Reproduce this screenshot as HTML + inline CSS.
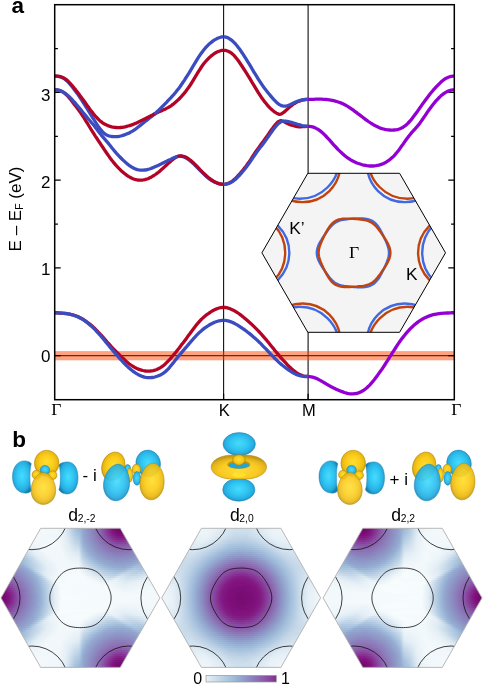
<!DOCTYPE html>
<html lang="en"><head><meta charset="utf-8"><title>Band structure and orbital character</title>
<style>
html,body{margin:0;padding:0;background:#fff;}
body{width:483px;height:685px;overflow:hidden;font-family:"Liberation Sans", Arial, Helvetica, sans-serif;}
svg{display:block;}
</style></head><body>
<svg width="483" height="685" viewBox="0 0 483 685">
<defs><clipPath id="ihex"><polygon points="445.5,252.8 399.6,173.3 307.8,173.3 261.9,252.8 307.8,332.3 399.6,332.3"/></clipPath>

<radialGradient id="gc" cx="0.5" cy="0.47" r="0.56"><stop offset="0" stop-color="#46dcff"/><stop offset="0.5" stop-color="#30c4f1"/><stop offset="0.78" stop-color="#27aee2"/><stop offset="0.92" stop-color="#1e95c6"/><stop offset="1" stop-color="#167fa8"/></radialGradient>
<radialGradient id="gy" cx="0.5" cy="0.47" r="0.56"><stop offset="0" stop-color="#ffde30"/><stop offset="0.5" stop-color="#fbcc1a"/><stop offset="0.78" stop-color="#ebb913"/><stop offset="0.92" stop-color="#cda10e"/><stop offset="1" stop-color="#ac870a"/></radialGradient>

<radialGradient id="gt" cx="0.5" cy="0.62" r="0.58"><stop offset="0" stop-color="#ffda2c"/><stop offset="0.6" stop-color="#f9c81a"/><stop offset="0.85" stop-color="#e3b012"/><stop offset="1" stop-color="#bf960d"/></radialGradient>
<clipPath id="cp"><polygon points="159.9,597.9 120.2,528.3 40.7,528.3 1.0,597.9 40.7,667.4 120.2,667.4"/></clipPath>
<linearGradient id="p0" gradientUnits="userSpaceOnUse" x1="36.45" x2="124.45" y1="0" y2="0"><stop offset="0.006" stop-color="#f3f9fb"/><stop offset="0.245" stop-color="#f0f7fa"/><stop offset="0.324" stop-color="#e2edf5"/><stop offset="0.37" stop-color="#ccddec"/><stop offset="0.438" stop-color="#a8c3de"/><stop offset="0.495" stop-color="#9bb6d7"/><stop offset="0.54" stop-color="#91a1cc"/><stop offset="0.631" stop-color="#8c85be"/><stop offset="0.722" stop-color="#8c66af"/><stop offset="0.802" stop-color="#873696"/><stop offset="0.87" stop-color="#810f7c"/><stop offset="0.927" stop-color="#710a6d"/><stop offset="0.972" stop-color="#710a6d"/><stop offset="0.995" stop-color="#740b70"/></linearGradient><linearGradient id="p1" gradientUnits="userSpaceOnUse" x1="35.45" x2="125.45" y1="0" y2="0"><stop offset="0.006" stop-color="#f3f9fb"/><stop offset="0.251" stop-color="#f0f7fa"/><stop offset="0.317" stop-color="#e6f0f6"/><stop offset="0.362" stop-color="#d3e2ef"/><stop offset="0.439" stop-color="#abc5df"/><stop offset="0.495" stop-color="#9cb8d8"/><stop offset="0.539" stop-color="#91a1cc"/><stop offset="0.628" stop-color="#8c86be"/><stop offset="0.717" stop-color="#8c66af"/><stop offset="0.795" stop-color="#873897"/><stop offset="0.851" stop-color="#821580"/><stop offset="0.895" stop-color="#770c73"/><stop offset="0.939" stop-color="#710a6d"/><stop offset="0.995" stop-color="#790d75"/></linearGradient><linearGradient id="p2" gradientUnits="userSpaceOnUse" x1="34.45" x2="126.45" y1="0" y2="0"><stop offset="0.006" stop-color="#f3f9fb"/><stop offset="0.256" stop-color="#f1f7fa"/><stop offset="0.332" stop-color="#e4eef5"/><stop offset="0.452" stop-color="#abc5df"/><stop offset="0.484" stop-color="#a4c0dc"/><stop offset="0.528" stop-color="#94a6ce"/><stop offset="0.604" stop-color="#8c8fc2"/><stop offset="0.723" stop-color="#8b64ad"/><stop offset="0.799" stop-color="#863595"/><stop offset="0.854" stop-color="#821580"/><stop offset="0.908" stop-color="#770c73"/><stop offset="0.952" stop-color="#770c73"/><stop offset="0.995" stop-color="#81117d"/></linearGradient><linearGradient id="p3" gradientUnits="userSpaceOnUse" x1="33.45" x2="127.45" y1="0" y2="0"><stop offset="0.006" stop-color="#f3f9fb"/><stop offset="0.272" stop-color="#f0f7fa"/><stop offset="0.346" stop-color="#e1edf5"/><stop offset="0.442" stop-color="#b3cbe2"/><stop offset="0.485" stop-color="#a8c3de"/><stop offset="0.506" stop-color="#9cb7d7"/><stop offset="0.527" stop-color="#94a7cf"/><stop offset="0.602" stop-color="#8c90c3"/><stop offset="0.719" stop-color="#8c66af"/><stop offset="0.804" stop-color="#863595"/><stop offset="0.857" stop-color="#821982"/><stop offset="0.899" stop-color="#800f7b"/><stop offset="0.942" stop-color="#800f7b"/><stop offset="0.985" stop-color="#821781"/><stop offset="0.995" stop-color="#831c84"/></linearGradient><linearGradient id="p4" gradientUnits="userSpaceOnUse" x1="32.45" x2="128.45" y1="0" y2="0"><stop offset="0.006" stop-color="#f3f9fb"/><stop offset="0.277" stop-color="#f0f7fa"/><stop offset="0.349" stop-color="#e2edf5"/><stop offset="0.454" stop-color="#b4cce2"/><stop offset="0.485" stop-color="#acc6df"/><stop offset="0.506" stop-color="#9db9d9"/><stop offset="0.527" stop-color="#95a8d0"/><stop offset="0.61" stop-color="#8c8fc2"/><stop offset="0.735" stop-color="#8b60ac"/><stop offset="0.839" stop-color="#84278c"/><stop offset="0.891" stop-color="#821781"/><stop offset="0.933" stop-color="#821781"/><stop offset="0.974" stop-color="#832088"/><stop offset="0.995" stop-color="#852a8e"/></linearGradient><linearGradient id="p5" gradientUnits="userSpaceOnUse" x1="31.45" x2="129.45" y1="0" y2="0"><stop offset="0.006" stop-color="#f2f8fb"/><stop offset="0.281" stop-color="#f1f7fa"/><stop offset="0.363" stop-color="#e1ecf4"/><stop offset="0.444" stop-color="#bcd1e5"/><stop offset="0.485" stop-color="#b1c9e1"/><stop offset="0.506" stop-color="#a0bddb"/><stop offset="0.526" stop-color="#96abd1"/><stop offset="0.608" stop-color="#8c90c3"/><stop offset="0.74" stop-color="#8b61ac"/><stop offset="0.842" stop-color="#852f91"/><stop offset="0.883" stop-color="#84248a"/><stop offset="0.924" stop-color="#84248a"/><stop offset="0.965" stop-color="#852d90"/><stop offset="0.995" stop-color="#873b99"/></linearGradient><linearGradient id="p6" gradientUnits="userSpaceOnUse" x1="30.45" x2="130.45" y1="0" y2="0"><stop offset="0.005" stop-color="#f1f8fb"/><stop offset="0.285" stop-color="#f1f7fa"/><stop offset="0.365" stop-color="#e1edf5"/><stop offset="0.445" stop-color="#c0d4e6"/><stop offset="0.485" stop-color="#b6cde3"/><stop offset="0.515" stop-color="#9bb6d7"/><stop offset="0.535" stop-color="#95a8d0"/><stop offset="0.615" stop-color="#8c90c3"/><stop offset="0.745" stop-color="#8b64ad"/><stop offset="0.826" stop-color="#88409c"/><stop offset="0.875" stop-color="#863293"/><stop offset="0.925" stop-color="#863394"/><stop offset="0.985" stop-color="#8947a0"/><stop offset="0.995" stop-color="#894ba2"/></linearGradient><linearGradient id="p7" gradientUnits="userSpaceOnUse" x1="28.45" x2="132.45" y1="0" y2="0"><stop offset="0.005" stop-color="#eff6fa"/><stop offset="0.265" stop-color="#f3f9fb"/><stop offset="0.351" stop-color="#e8f1f7"/><stop offset="0.39" stop-color="#dce9f2"/><stop offset="0.457" stop-color="#c2d5e7"/><stop offset="0.486" stop-color="#bcd1e5"/><stop offset="0.515" stop-color="#9db9d9"/><stop offset="0.544" stop-color="#94a7cf"/><stop offset="0.621" stop-color="#8c90c3"/><stop offset="0.832" stop-color="#8947a0"/><stop offset="0.88" stop-color="#88419d"/><stop offset="0.938" stop-color="#8948a0"/><stop offset="0.996" stop-color="#8b5daa"/></linearGradient><linearGradient id="p8" gradientUnits="userSpaceOnUse" x1="27.45" x2="133.45" y1="0" y2="0"><stop offset="0.005" stop-color="#ebf4f8"/><stop offset="0.175" stop-color="#f3f9fc"/><stop offset="0.307" stop-color="#f1f7fa"/><stop offset="0.392" stop-color="#dfebf4"/><stop offset="0.458" stop-color="#c7d9e9"/><stop offset="0.486" stop-color="#c2d5e7"/><stop offset="0.515" stop-color="#a0bddb"/><stop offset="0.533" stop-color="#98aed3"/><stop offset="0.618" stop-color="#8c93c4"/><stop offset="0.835" stop-color="#8a51a5"/><stop offset="0.911" stop-color="#8a51a5"/><stop offset="0.996" stop-color="#8c69b0"/></linearGradient><linearGradient id="p9" gradientUnits="userSpaceOnUse" x1="26.45" x2="134.45" y1="0" y2="0"><stop offset="0.005" stop-color="#e6f0f7"/><stop offset="0.144" stop-color="#f2f8fb"/><stop offset="0.311" stop-color="#f1f7fa"/><stop offset="0.394" stop-color="#e1ecf4"/><stop offset="0.459" stop-color="#ccddec"/><stop offset="0.487" stop-color="#c8daea"/><stop offset="0.505" stop-color="#b1c9e1"/><stop offset="0.524" stop-color="#9dbad9"/><stop offset="0.561" stop-color="#94a7cf"/><stop offset="0.635" stop-color="#8c91c4"/><stop offset="0.774" stop-color="#8c6ab1"/><stop offset="0.848" stop-color="#8b5caa"/><stop offset="0.922" stop-color="#8b61ac"/><stop offset="0.996" stop-color="#8c72b5"/></linearGradient><linearGradient id="p10" gradientUnits="userSpaceOnUse" x1="25.45" x2="135.45" y1="0" y2="0"><stop offset="0.005" stop-color="#dfebf4"/><stop offset="0.132" stop-color="#f1f7fa"/><stop offset="0.323" stop-color="#f1f7fa"/><stop offset="0.414" stop-color="#deeaf3"/><stop offset="0.45" stop-color="#d3e2ef"/><stop offset="0.487" stop-color="#cddeec"/><stop offset="0.505" stop-color="#b6cde3"/><stop offset="0.523" stop-color="#a2bfdb"/><stop offset="0.56" stop-color="#96abd1"/><stop offset="0.65" stop-color="#8c90c3"/><stop offset="0.75" stop-color="#8c75b6"/><stop offset="0.841" stop-color="#8c68af"/><stop offset="0.923" stop-color="#8c6db2"/><stop offset="0.996" stop-color="#8c7ab8"/></linearGradient><linearGradient id="p11" gradientUnits="userSpaceOnUse" x1="24.45" x2="136.45" y1="0" y2="0"><stop offset="0.005" stop-color="#d1e1ee"/><stop offset="0.067" stop-color="#e4eff6"/><stop offset="0.166" stop-color="#f1f7fa"/><stop offset="0.326" stop-color="#f1f7fa"/><stop offset="0.487" stop-color="#d3e2ef"/><stop offset="0.505" stop-color="#bcd1e5"/><stop offset="0.523" stop-color="#a7c2dd"/><stop offset="0.558" stop-color="#98b0d3"/><stop offset="0.63" stop-color="#8d99c8"/><stop offset="0.773" stop-color="#8c76b7"/><stop offset="0.862" stop-color="#8c70b3"/><stop offset="0.951" stop-color="#8c79b8"/><stop offset="0.996" stop-color="#8c82bc"/></linearGradient><linearGradient id="p12" gradientUnits="userSpaceOnUse" x1="23.45" x2="137.45" y1="0" y2="0"><stop offset="0.005" stop-color="#c3d6e8"/><stop offset="0.093" stop-color="#e4eef5"/><stop offset="0.198" stop-color="#f1f8fb"/><stop offset="0.338" stop-color="#f1f7fa"/><stop offset="0.461" stop-color="#ddeaf3"/><stop offset="0.479" stop-color="#ddeaf3"/><stop offset="0.487" stop-color="#d9e6f1"/><stop offset="0.514" stop-color="#b5cce3"/><stop offset="0.549" stop-color="#9ebcda"/><stop offset="0.593" stop-color="#94a7cf"/><stop offset="0.68" stop-color="#8c90c3"/><stop offset="0.794" stop-color="#8c7ab8"/><stop offset="0.908" stop-color="#8c7ab8"/><stop offset="0.996" stop-color="#8c8cc1"/></linearGradient><linearGradient id="p13" gradientUnits="userSpaceOnUse" x1="22.45" x2="138.45" y1="0" y2="0"><stop offset="0.005" stop-color="#b4cce2"/><stop offset="0.108" stop-color="#e1ecf4"/><stop offset="0.212" stop-color="#f1f7fa"/><stop offset="0.341" stop-color="#f1f7fa"/><stop offset="0.487" stop-color="#deeaf3"/><stop offset="0.522" stop-color="#b3cbe2"/><stop offset="0.574" stop-color="#9ab4d6"/><stop offset="0.617" stop-color="#92a4cd"/><stop offset="0.72" stop-color="#8c8dc2"/><stop offset="0.806" stop-color="#8c80bb"/><stop offset="0.893" stop-color="#8c81bc"/><stop offset="0.987" stop-color="#8c91c4"/><stop offset="0.996" stop-color="#8c94c5"/></linearGradient><linearGradient id="p14" gradientUnits="userSpaceOnUse" x1="20.45" x2="140.45" y1="0" y2="0"><stop offset="0.005" stop-color="#a6c2dd"/><stop offset="0.055" stop-color="#b9cee4"/><stop offset="0.138" stop-color="#e0ecf4"/><stop offset="0.238" stop-color="#f1f7fa"/><stop offset="0.355" stop-color="#f1f7fa"/><stop offset="0.488" stop-color="#e2edf5"/><stop offset="0.521" stop-color="#bacfe4"/><stop offset="0.588" stop-color="#9ab4d6"/><stop offset="0.646" stop-color="#91a0cb"/><stop offset="0.746" stop-color="#8c8dc2"/><stop offset="0.83" stop-color="#8c86be"/><stop offset="0.913" stop-color="#8c8dc2"/><stop offset="0.996" stop-color="#8f9dc9"/></linearGradient><linearGradient id="p15" gradientUnits="userSpaceOnUse" x1="19.45" x2="141.45" y1="0" y2="0"><stop offset="0.005" stop-color="#9fbcda"/><stop offset="0.045" stop-color="#a9c4de"/><stop offset="0.16" stop-color="#e0ecf4"/><stop offset="0.259" stop-color="#f1f7fa"/><stop offset="0.365" stop-color="#f1f7fa"/><stop offset="0.488" stop-color="#e5eff6"/><stop offset="0.496" stop-color="#dfebf4"/><stop offset="0.513" stop-color="#c7d9e9"/><stop offset="0.578" stop-color="#a3bfdc"/><stop offset="0.627" stop-color="#96abd1"/><stop offset="0.718" stop-color="#8d98c7"/><stop offset="0.8" stop-color="#8c8fc2"/><stop offset="0.873" stop-color="#8c90c3"/><stop offset="0.988" stop-color="#91a1cc"/><stop offset="0.996" stop-color="#92a4cd"/></linearGradient><linearGradient id="p16" gradientUnits="userSpaceOnUse" x1="18.45" x2="142.45" y1="0" y2="0"><stop offset="0.004" stop-color="#9bb6d7"/><stop offset="0.053" stop-color="#a5c1dc"/><stop offset="0.182" stop-color="#e0ecf4"/><stop offset="0.279" stop-color="#f1f7fa"/><stop offset="0.375" stop-color="#f1f7fa"/><stop offset="0.488" stop-color="#e9f2f7"/><stop offset="0.521" stop-color="#c7d9e9"/><stop offset="0.609" stop-color="#9dbad9"/><stop offset="0.658" stop-color="#94a7cf"/><stop offset="0.795" stop-color="#8c95c6"/><stop offset="0.908" stop-color="#8e9ac8"/><stop offset="0.996" stop-color="#97add2"/></linearGradient><linearGradient id="p17" gradientUnits="userSpaceOnUse" x1="17.45" x2="143.45" y1="0" y2="0"><stop offset="0.004" stop-color="#96abd1"/><stop offset="0.052" stop-color="#a1bedb"/><stop offset="0.211" stop-color="#e3eef5"/><stop offset="0.314" stop-color="#f2f8fb"/><stop offset="0.481" stop-color="#eef5f9"/><stop offset="0.504" stop-color="#dfebf4"/><stop offset="0.52" stop-color="#cedfec"/><stop offset="0.631" stop-color="#9db9d9"/><stop offset="0.687" stop-color="#94a7cf"/><stop offset="0.79" stop-color="#8f9bc9"/><stop offset="0.901" stop-color="#91a0cb"/><stop offset="0.996" stop-color="#9cb8d8"/></linearGradient><linearGradient id="p18" gradientUnits="userSpaceOnUse" x1="16.45" x2="144.45" y1="0" y2="0"><stop offset="0.004" stop-color="#91a1cc"/><stop offset="0.051" stop-color="#99b1d4"/><stop offset="0.082" stop-color="#a7c2dd"/><stop offset="0.223" stop-color="#e2edf5"/><stop offset="0.325" stop-color="#f2f8fb"/><stop offset="0.481" stop-color="#f0f7fa"/><stop offset="0.504" stop-color="#e4eef5"/><stop offset="0.528" stop-color="#d1e1ee"/><stop offset="0.653" stop-color="#9dbad9"/><stop offset="0.723" stop-color="#94a7cf"/><stop offset="0.825" stop-color="#91a1cc"/><stop offset="0.903" stop-color="#95aad0"/><stop offset="0.957" stop-color="#9ebcda"/><stop offset="0.996" stop-color="#a0bddb"/></linearGradient><linearGradient id="p19" gradientUnits="userSpaceOnUse" x1="15.45" x2="145.45" y1="0" y2="0"><stop offset="0.004" stop-color="#8e9ac8"/><stop offset="0.066" stop-color="#96abd1"/><stop offset="0.097" stop-color="#a1bedb"/><stop offset="0.135" stop-color="#bacfe4"/><stop offset="0.235" stop-color="#e1edf5"/><stop offset="0.32" stop-color="#f1f7fa"/><stop offset="0.489" stop-color="#f1f7fa"/><stop offset="0.55" stop-color="#cfdfed"/><stop offset="0.673" stop-color="#9fbcda"/><stop offset="0.75" stop-color="#96abd1"/><stop offset="0.835" stop-color="#95a8d0"/><stop offset="0.881" stop-color="#99b1d4"/><stop offset="0.92" stop-color="#a4c0dc"/><stop offset="0.981" stop-color="#a4c0dc"/><stop offset="0.997" stop-color="#a8c3de"/></linearGradient><linearGradient id="p20" gradientUnits="userSpaceOnUse" x1="14.45" x2="146.45" y1="0" y2="0"><stop offset="0.004" stop-color="#8c93c4"/><stop offset="0.095" stop-color="#96abd1"/><stop offset="0.118" stop-color="#a0bddb"/><stop offset="0.156" stop-color="#c0d4e6"/><stop offset="0.247" stop-color="#e2edf5"/><stop offset="0.345" stop-color="#f3f9fb"/><stop offset="0.489" stop-color="#f3f9fb"/><stop offset="0.641" stop-color="#b3cbe2"/><stop offset="0.724" stop-color="#9db9d9"/><stop offset="0.792" stop-color="#99b1d4"/><stop offset="0.838" stop-color="#9ab4d6"/><stop offset="0.898" stop-color="#aec7e0"/><stop offset="0.966" stop-color="#abc5df"/><stop offset="0.997" stop-color="#b4cce2"/></linearGradient><linearGradient id="p21" gradientUnits="userSpaceOnUse" x1="12.45" x2="148.45" y1="0" y2="0"><stop offset="0.004" stop-color="#8c89c0"/><stop offset="0.078" stop-color="#8f9bc9"/><stop offset="0.129" stop-color="#98aed3"/><stop offset="0.151" stop-color="#a4c0dc"/><stop offset="0.181" stop-color="#c5d8e9"/><stop offset="0.239" stop-color="#dfebf4"/><stop offset="0.35" stop-color="#f3f9fb"/><stop offset="0.489" stop-color="#f5fafc"/><stop offset="0.688" stop-color="#adc7e0"/><stop offset="0.769" stop-color="#a0bddb"/><stop offset="0.813" stop-color="#a3bfdc"/><stop offset="0.857" stop-color="#b7cee3"/><stop offset="0.938" stop-color="#b3cbe2"/><stop offset="0.982" stop-color="#c0d4e6"/><stop offset="0.997" stop-color="#c7d9e9"/></linearGradient><linearGradient id="p22" gradientUnits="userSpaceOnUse" x1="11.45" x2="149.45" y1="0" y2="0"><stop offset="0.004" stop-color="#8c81bc"/><stop offset="0.091" stop-color="#8d99c8"/><stop offset="0.149" stop-color="#98aed3"/><stop offset="0.163" stop-color="#9dbad9"/><stop offset="0.214" stop-color="#d2e2ee"/><stop offset="0.243" stop-color="#e1ecf4"/><stop offset="0.352" stop-color="#f3f9fb"/><stop offset="0.497" stop-color="#f5fafc"/><stop offset="0.591" stop-color="#d9e6f1"/><stop offset="0.671" stop-color="#bcd1e5"/><stop offset="0.75" stop-color="#acc6df"/><stop offset="0.779" stop-color="#adc7e0"/><stop offset="0.83" stop-color="#c2d5e7"/><stop offset="0.903" stop-color="#bbd0e4"/><stop offset="0.961" stop-color="#c6d8e9"/><stop offset="0.997" stop-color="#d6e4f0"/></linearGradient><linearGradient id="p23" gradientUnits="userSpaceOnUse" x1="10.45" x2="150.45" y1="0" y2="0"><stop offset="0.004" stop-color="#8c79b8"/><stop offset="0.097" stop-color="#8c94c5"/><stop offset="0.161" stop-color="#96acd2"/><stop offset="0.182" stop-color="#9dbad9"/><stop offset="0.218" stop-color="#c2d5e7"/><stop offset="0.24" stop-color="#dce9f2"/><stop offset="0.268" stop-color="#e6f0f7"/><stop offset="0.375" stop-color="#f5fafc"/><stop offset="0.511" stop-color="#f5fafc"/><stop offset="0.611" stop-color="#dae7f1"/><stop offset="0.682" stop-color="#c2d5e7"/><stop offset="0.747" stop-color="#b9cee4"/><stop offset="0.775" stop-color="#c4d7e8"/><stop offset="0.797" stop-color="#cedfec"/><stop offset="0.875" stop-color="#c3d6e8"/><stop offset="0.947" stop-color="#cfdfed"/><stop offset="0.997" stop-color="#e1edf5"/></linearGradient><linearGradient id="p24" gradientUnits="userSpaceOnUse" x1="9.45" x2="151.45" y1="0" y2="0"><stop offset="0.004" stop-color="#8c71b4"/><stop offset="0.074" stop-color="#8c85be"/><stop offset="0.145" stop-color="#909fcb"/><stop offset="0.187" stop-color="#9ab3d5"/><stop offset="0.215" stop-color="#abc5df"/><stop offset="0.264" stop-color="#e2edf5"/><stop offset="0.293" stop-color="#ecf4f9"/><stop offset="0.398" stop-color="#f6fbfd"/><stop offset="0.532" stop-color="#f5fafc"/><stop offset="0.638" stop-color="#dae7f1"/><stop offset="0.708" stop-color="#c6d8e9"/><stop offset="0.736" stop-color="#c9dbea"/><stop offset="0.771" stop-color="#d9e6f1"/><stop offset="0.8" stop-color="#d6e4f0"/><stop offset="0.835" stop-color="#ccddec"/><stop offset="0.905" stop-color="#d1e1ee"/><stop offset="0.997" stop-color="#e8f1f7"/></linearGradient><linearGradient id="p25" gradientUnits="userSpaceOnUse" x1="8.45" x2="152.45" y1="0" y2="0"><stop offset="0.004" stop-color="#8c66af"/><stop offset="0.108" stop-color="#8c8bc0"/><stop offset="0.164" stop-color="#91a1cc"/><stop offset="0.198" stop-color="#99b2d5"/><stop offset="0.24" stop-color="#b5cce3"/><stop offset="0.282" stop-color="#e3eef5"/><stop offset="0.316" stop-color="#f1f7fa"/><stop offset="0.427" stop-color="#f7fcfd"/><stop offset="0.559" stop-color="#f4fafc"/><stop offset="0.698" stop-color="#d3e2ef"/><stop offset="0.747" stop-color="#e3eef5"/><stop offset="0.83" stop-color="#d3e2ef"/><stop offset="0.886" stop-color="#d9e6f1"/><stop offset="0.997" stop-color="#ecf4f9"/></linearGradient><linearGradient id="p26" gradientUnits="userSpaceOnUse" x1="7.45" x2="153.45" y1="0" y2="0"><stop offset="0.004" stop-color="#8a59a8"/><stop offset="0.154" stop-color="#8d99c8"/><stop offset="0.202" stop-color="#97add2"/><stop offset="0.23" stop-color="#a6c2dd"/><stop offset="0.285" stop-color="#d3e2ef"/><stop offset="0.312" stop-color="#ebf3f8"/><stop offset="0.353" stop-color="#f6fbfc"/><stop offset="0.579" stop-color="#f5fafc"/><stop offset="0.675" stop-color="#e2edf5"/><stop offset="0.73" stop-color="#e9f2f7"/><stop offset="0.819" stop-color="#dbe8f2"/><stop offset="0.997" stop-color="#eff6fa"/></linearGradient><linearGradient id="p27" gradientUnits="userSpaceOnUse" x1="6.45" x2="154.45" y1="0" y2="0"><stop offset="0.004" stop-color="#8949a1"/><stop offset="0.105" stop-color="#8c7cb9"/><stop offset="0.173" stop-color="#8f9bc9"/><stop offset="0.213" stop-color="#98aed3"/><stop offset="0.24" stop-color="#a7c2dd"/><stop offset="0.321" stop-color="#e8f1f7"/><stop offset="0.348" stop-color="#f4fafc"/><stop offset="0.51" stop-color="#f7fcfd"/><stop offset="0.605" stop-color="#f4fafc"/><stop offset="0.666" stop-color="#ebf4f8"/><stop offset="0.713" stop-color="#eef5f9"/><stop offset="0.801" stop-color="#e1edf5"/><stop offset="0.997" stop-color="#f1f8fb"/></linearGradient><linearGradient id="p28" gradientUnits="userSpaceOnUse" x1="4.45" x2="156.45" y1="0" y2="0"><stop offset="0.004" stop-color="#873696"/><stop offset="0.096" stop-color="#8c6eb3"/><stop offset="0.181" stop-color="#8d99c8"/><stop offset="0.227" stop-color="#98b0d3"/><stop offset="0.254" stop-color="#a9c4de"/><stop offset="0.333" stop-color="#e7f1f7"/><stop offset="0.365" stop-color="#f6fbfc"/><stop offset="0.622" stop-color="#f5fafc"/><stop offset="0.714" stop-color="#eef5f9"/><stop offset="0.787" stop-color="#e5eff6"/><stop offset="0.997" stop-color="#f2f8fb"/></linearGradient><linearGradient id="p29" gradientUnits="userSpaceOnUse" x1="3.45" x2="157.45" y1="0" y2="0"><stop offset="0.004" stop-color="#84278c"/><stop offset="0.03" stop-color="#863394"/><stop offset="0.107" stop-color="#8c6eb3"/><stop offset="0.192" stop-color="#8d99c8"/><stop offset="0.231" stop-color="#97add2"/><stop offset="0.257" stop-color="#a6c2dd"/><stop offset="0.328" stop-color="#e1edf5"/><stop offset="0.367" stop-color="#f5fafc"/><stop offset="0.666" stop-color="#f5fafc"/><stop offset="0.776" stop-color="#e9f2f7"/><stop offset="0.997" stop-color="#f3f9fb"/></linearGradient><linearGradient id="p30" gradientUnits="userSpaceOnUse" x1="2.45" x2="158.45" y1="0" y2="0"><stop offset="0.004" stop-color="#821982"/><stop offset="0.029" stop-color="#842289"/><stop offset="0.093" stop-color="#8a59a8"/><stop offset="0.119" stop-color="#8c6eb3"/><stop offset="0.202" stop-color="#8e9ac8"/><stop offset="0.241" stop-color="#98b0d3"/><stop offset="0.273" stop-color="#afc8e0"/><stop offset="0.33" stop-color="#e1ecf4"/><stop offset="0.375" stop-color="#f6fbfd"/><stop offset="0.67" stop-color="#f5fafc"/><stop offset="0.786" stop-color="#ecf4f9"/><stop offset="0.997" stop-color="#f3f9fb"/></linearGradient><linearGradient id="p31" gradientUnits="userSpaceOnUse" x1="1.45" x2="159.45" y1="0" y2="0"><stop offset="0.003" stop-color="#800f7b"/><stop offset="0.022" stop-color="#81127e"/><stop offset="0.06" stop-color="#852d90"/><stop offset="0.111" stop-color="#8b60ac"/><stop offset="0.2" stop-color="#8c97c6"/><stop offset="0.25" stop-color="#9ab3d5"/><stop offset="0.282" stop-color="#b3cbe2"/><stop offset="0.339" stop-color="#e4eff6"/><stop offset="0.377" stop-color="#f6fbfd"/><stop offset="0.668" stop-color="#f5fafc"/><stop offset="0.776" stop-color="#eff6fa"/><stop offset="0.997" stop-color="#f3f9fb"/></linearGradient><linearGradient id="p32" gradientUnits="userSpaceOnUse" x1="0.45" x2="160.45" y1="0" y2="0"><stop offset="0.003" stop-color="#770c73"/><stop offset="0.041" stop-color="#81117d"/><stop offset="0.072" stop-color="#852d90"/><stop offset="0.11" stop-color="#8a56a7"/><stop offset="0.141" stop-color="#8c71b4"/><stop offset="0.216" stop-color="#8f9bc9"/><stop offset="0.253" stop-color="#99b2d5"/><stop offset="0.285" stop-color="#b2cae1"/><stop offset="0.341" stop-color="#e4eef5"/><stop offset="0.378" stop-color="#f6fbfd"/><stop offset="0.672" stop-color="#f5fafc"/><stop offset="0.803" stop-color="#f1f8fb"/><stop offset="0.997" stop-color="#f3f9fb"/></linearGradient><linearGradient id="p33" gradientUnits="userSpaceOnUse" x1="0.00" x2="160.90" y1="0" y2="0"><stop offset="0" stop-color="#730b6e"/><stop offset="0.025" stop-color="#740b70"/><stop offset="0.05" stop-color="#81117d"/><stop offset="0.075" stop-color="#85288d"/><stop offset="0.124" stop-color="#8b60ac"/><stop offset="0.149" stop-color="#8c72b5"/><stop offset="0.218" stop-color="#8e9ac8"/><stop offset="0.255" stop-color="#99b1d4"/><stop offset="0.28" stop-color="#acc6df"/><stop offset="0.342" stop-color="#e4eef5"/><stop offset="0.379" stop-color="#f6fbfd"/><stop offset="0.982" stop-color="#f3f9fb"/><stop offset="0.994" stop-color="#f2f8fb"/></linearGradient><linearGradient id="p34" gradientUnits="userSpaceOnUse" x1="0.00" x2="160.90" y1="0" y2="0"><stop offset="0" stop-color="#6f0a6b"/><stop offset="0.031" stop-color="#740b70"/><stop offset="0.056" stop-color="#81127e"/><stop offset="0.112" stop-color="#8a51a5"/><stop offset="0.137" stop-color="#8c6ab1"/><stop offset="0.218" stop-color="#8e9ac8"/><stop offset="0.255" stop-color="#99b1d4"/><stop offset="0.28" stop-color="#abc5df"/><stop offset="0.342" stop-color="#e4eef5"/><stop offset="0.385" stop-color="#f7fcfd"/><stop offset="0.994" stop-color="#f2f8fb"/></linearGradient><linearGradient id="p35" gradientUnits="userSpaceOnUse" x1="0.00" x2="160.90" y1="0" y2="0"><stop offset="0" stop-color="#6f0a6b"/><stop offset="0.025" stop-color="#730b6e"/><stop offset="0.05" stop-color="#800f7b"/><stop offset="0.081" stop-color="#852d90"/><stop offset="0.118" stop-color="#8a58a8"/><stop offset="0.143" stop-color="#8c6eb3"/><stop offset="0.218" stop-color="#8e9ac8"/><stop offset="0.255" stop-color="#99b1d4"/><stop offset="0.28" stop-color="#abc5df"/><stop offset="0.342" stop-color="#e4eef5"/><stop offset="0.385" stop-color="#f7fcfd"/><stop offset="0.994" stop-color="#f2f8fb"/></linearGradient><linearGradient id="p36" gradientUnits="userSpaceOnUse" x1="0.00" x2="160.90" y1="0" y2="0"><stop offset="0" stop-color="#730b6e"/><stop offset="0.031" stop-color="#770c73"/><stop offset="0.056" stop-color="#821580"/><stop offset="0.106" stop-color="#894da3"/><stop offset="0.143" stop-color="#8c70b3"/><stop offset="0.218" stop-color="#8f9bc9"/><stop offset="0.249" stop-color="#96acd2"/><stop offset="0.273" stop-color="#a6c2dd"/><stop offset="0.342" stop-color="#e4eef5"/><stop offset="0.379" stop-color="#f6fbfd"/><stop offset="0.994" stop-color="#f3f9fb"/></linearGradient><linearGradient id="p37" gradientUnits="userSpaceOnUse" x1="0.45" x2="160.45" y1="0" y2="0"><stop offset="0.003" stop-color="#770c73"/><stop offset="0.041" stop-color="#81127e"/><stop offset="0.072" stop-color="#852d90"/><stop offset="0.11" stop-color="#8a56a7"/><stop offset="0.141" stop-color="#8c71b4"/><stop offset="0.216" stop-color="#8f9bc9"/><stop offset="0.253" stop-color="#99b2d5"/><stop offset="0.285" stop-color="#b2cae1"/><stop offset="0.341" stop-color="#e4eef5"/><stop offset="0.378" stop-color="#f6fbfd"/><stop offset="0.672" stop-color="#f5fafc"/><stop offset="0.785" stop-color="#f1f7fa"/><stop offset="0.997" stop-color="#f3f9fb"/></linearGradient><linearGradient id="p38" gradientUnits="userSpaceOnUse" x1="1.45" x2="159.45" y1="0" y2="0"><stop offset="0.003" stop-color="#810f7c"/><stop offset="0.035" stop-color="#831a83"/><stop offset="0.073" stop-color="#873b99"/><stop offset="0.124" stop-color="#8c6cb1"/><stop offset="0.206" stop-color="#8d99c8"/><stop offset="0.25" stop-color="#9ab4d6"/><stop offset="0.333" stop-color="#e0ecf4"/><stop offset="0.377" stop-color="#f6fbfd"/><stop offset="0.668" stop-color="#f5fafc"/><stop offset="0.782" stop-color="#eef6fa"/><stop offset="0.997" stop-color="#f3f9fb"/></linearGradient><linearGradient id="p39" gradientUnits="userSpaceOnUse" x1="2.45" x2="158.45" y1="0" y2="0"><stop offset="0.004" stop-color="#831a83"/><stop offset="0.029" stop-color="#84248a"/><stop offset="0.112" stop-color="#8c6ab1"/><stop offset="0.196" stop-color="#8d98c7"/><stop offset="0.234" stop-color="#96abd1"/><stop offset="0.26" stop-color="#a4c0dc"/><stop offset="0.337" stop-color="#e5eff6"/><stop offset="0.375" stop-color="#f6fbfd"/><stop offset="0.67" stop-color="#f5fafc"/><stop offset="0.779" stop-color="#ebf4f8"/><stop offset="0.984" stop-color="#f3f9fb"/><stop offset="0.997" stop-color="#f3f9fb"/></linearGradient><linearGradient id="p40" gradientUnits="userSpaceOnUse" x1="3.45" x2="157.45" y1="0" y2="0"><stop offset="0.004" stop-color="#85288d"/><stop offset="0.03" stop-color="#863595"/><stop offset="0.107" stop-color="#8c6eb3"/><stop offset="0.192" stop-color="#8e9ac8"/><stop offset="0.237" stop-color="#9ab3d5"/><stop offset="0.263" stop-color="#acc6df"/><stop offset="0.335" stop-color="#e6f0f6"/><stop offset="0.374" stop-color="#f6fbfd"/><stop offset="0.666" stop-color="#f5fafc"/><stop offset="0.776" stop-color="#e9f2f7"/><stop offset="0.997" stop-color="#f3f9fb"/></linearGradient><linearGradient id="p41" gradientUnits="userSpaceOnUse" x1="5.45" x2="155.45" y1="0" y2="0"><stop offset="0.004" stop-color="#873d9a"/><stop offset="0.044" stop-color="#8a51a5"/><stop offset="0.09" stop-color="#8c70b3"/><stop offset="0.177" stop-color="#8d99c8"/><stop offset="0.224" stop-color="#99b1d4"/><stop offset="0.25" stop-color="#aac4de"/><stop offset="0.33" stop-color="#e8f1f7"/><stop offset="0.37" stop-color="#f7fcfd"/><stop offset="0.617" stop-color="#f6fbfc"/><stop offset="0.717" stop-color="#eef5f9"/><stop offset="0.79" stop-color="#e5eff6"/><stop offset="0.997" stop-color="#f2f8fb"/></linearGradient><linearGradient id="p42" gradientUnits="userSpaceOnUse" x1="6.45" x2="154.45" y1="0" y2="0"><stop offset="0.004" stop-color="#894ca2"/><stop offset="0.085" stop-color="#8c74b5"/><stop offset="0.166" stop-color="#8d99c8"/><stop offset="0.213" stop-color="#98b0d3"/><stop offset="0.233" stop-color="#a2bfdb"/><stop offset="0.328" stop-color="#eef5f9"/><stop offset="0.362" stop-color="#f6fbfd"/><stop offset="0.598" stop-color="#f5fafc"/><stop offset="0.666" stop-color="#eaf3f8"/><stop offset="0.713" stop-color="#edf5f9"/><stop offset="0.794" stop-color="#e1ecf4"/><stop offset="0.909" stop-color="#e9f2f8"/><stop offset="0.997" stop-color="#f1f8fb"/></linearGradient><linearGradient id="p43" gradientUnits="userSpaceOnUse" x1="7.45" x2="153.45" y1="0" y2="0"><stop offset="0.004" stop-color="#8a5aa9"/><stop offset="0.154" stop-color="#8d99c8"/><stop offset="0.209" stop-color="#9ab3d5"/><stop offset="0.243" stop-color="#b0c9e1"/><stop offset="0.305" stop-color="#e8f1f7"/><stop offset="0.339" stop-color="#f4fafc"/><stop offset="0.552" stop-color="#f7fcfd"/><stop offset="0.682" stop-color="#e1ecf4"/><stop offset="0.737" stop-color="#e8f1f7"/><stop offset="0.812" stop-color="#dae7f1"/><stop offset="0.922" stop-color="#e6f0f6"/><stop offset="0.997" stop-color="#eff6fa"/></linearGradient><linearGradient id="p44" gradientUnits="userSpaceOnUse" x1="8.45" x2="152.45" y1="0" y2="0"><stop offset="0.004" stop-color="#8c68af"/><stop offset="0.101" stop-color="#8c89c0"/><stop offset="0.157" stop-color="#909fcb"/><stop offset="0.198" stop-color="#9ab3d5"/><stop offset="0.24" stop-color="#b6cde3"/><stop offset="0.282" stop-color="#e4eff6"/><stop offset="0.316" stop-color="#f1f7fa"/><stop offset="0.448" stop-color="#f7fcfd"/><stop offset="0.552" stop-color="#f5fafc"/><stop offset="0.698" stop-color="#d1e1ee"/><stop offset="0.719" stop-color="#d4e3ef"/><stop offset="0.747" stop-color="#e1edf5"/><stop offset="0.782" stop-color="#ddeaf3"/><stop offset="0.823" stop-color="#d2e2ee"/><stop offset="0.879" stop-color="#d7e5f0"/><stop offset="0.997" stop-color="#ecf4f9"/></linearGradient><linearGradient id="p45" gradientUnits="userSpaceOnUse" x1="9.45" x2="151.45" y1="0" y2="0"><stop offset="0.004" stop-color="#8c71b4"/><stop offset="0.102" stop-color="#8c90c3"/><stop offset="0.173" stop-color="#96abd1"/><stop offset="0.201" stop-color="#a1bedb"/><stop offset="0.229" stop-color="#bcd1e5"/><stop offset="0.257" stop-color="#deeaf3"/><stop offset="0.286" stop-color="#ebf3f8"/><stop offset="0.398" stop-color="#f6fbfd"/><stop offset="0.525" stop-color="#f6fbfc"/><stop offset="0.631" stop-color="#dbe8f2"/><stop offset="0.694" stop-color="#c7d9e9"/><stop offset="0.729" stop-color="#c4d7e8"/><stop offset="0.779" stop-color="#d9e6f1"/><stop offset="0.849" stop-color="#cadbeb"/><stop offset="0.912" stop-color="#d1e1ee"/><stop offset="0.997" stop-color="#e7f1f7"/></linearGradient><linearGradient id="p46" gradientUnits="userSpaceOnUse" x1="10.45" x2="150.45" y1="0" y2="0"><stop offset="0.004" stop-color="#8c79b8"/><stop offset="0.111" stop-color="#8e9ac8"/><stop offset="0.161" stop-color="#96acd2"/><stop offset="0.19" stop-color="#a5c1dc"/><stop offset="0.24" stop-color="#ddeaf3"/><stop offset="0.29" stop-color="#ebf3f8"/><stop offset="0.404" stop-color="#f6fbfc"/><stop offset="0.504" stop-color="#f6fbfc"/><stop offset="0.604" stop-color="#dbe8f2"/><stop offset="0.69" stop-color="#bfd3e6"/><stop offset="0.747" stop-color="#b6cde3"/><stop offset="0.775" stop-color="#c0d4e6"/><stop offset="0.797" stop-color="#cbdceb"/><stop offset="0.882" stop-color="#c2d5e7"/><stop offset="0.947" stop-color="#cedfec"/><stop offset="0.997" stop-color="#e0ecf4"/></linearGradient><linearGradient id="p47" gradientUnits="userSpaceOnUse" x1="11.45" x2="149.45" y1="0" y2="0"><stop offset="0.004" stop-color="#8c82bc"/><stop offset="0.098" stop-color="#8f9dc9"/><stop offset="0.142" stop-color="#96abd1"/><stop offset="0.163" stop-color="#9ebcda"/><stop offset="0.2" stop-color="#c7d9e9"/><stop offset="0.229" stop-color="#dbe8f2"/><stop offset="0.294" stop-color="#ebf3f8"/><stop offset="0.403" stop-color="#f6fbfc"/><stop offset="0.497" stop-color="#f5fafc"/><stop offset="0.591" stop-color="#d7e5f0"/><stop offset="0.685" stop-color="#b6cde3"/><stop offset="0.758" stop-color="#aac4de"/><stop offset="0.794" stop-color="#afc8e0"/><stop offset="0.83" stop-color="#c0d4e6"/><stop offset="0.91" stop-color="#bacfe4"/><stop offset="0.968" stop-color="#c7d9e9"/><stop offset="0.997" stop-color="#d3e2ef"/></linearGradient><linearGradient id="p48" gradientUnits="userSpaceOnUse" x1="13.45" x2="147.45" y1="0" y2="0"><stop offset="0.004" stop-color="#8c8cc1"/><stop offset="0.079" stop-color="#909fcb"/><stop offset="0.116" stop-color="#96abd1"/><stop offset="0.138" stop-color="#a0bddb"/><stop offset="0.176" stop-color="#c6d8e9"/><stop offset="0.235" stop-color="#deeaf3"/><stop offset="0.34" stop-color="#f2f8fb"/><stop offset="0.489" stop-color="#f4fafc"/><stop offset="0.683" stop-color="#aec7e0"/><stop offset="0.773" stop-color="#9ebcda"/><stop offset="0.818" stop-color="#a1bedb"/><stop offset="0.862" stop-color="#b4cce2"/><stop offset="0.952" stop-color="#b3cbe2"/><stop offset="0.997" stop-color="#c2d5e7"/></linearGradient><linearGradient id="p49" gradientUnits="userSpaceOnUse" x1="14.45" x2="146.45" y1="0" y2="0"><stop offset="0.004" stop-color="#8c94c5"/><stop offset="0.087" stop-color="#95a8d0"/><stop offset="0.11" stop-color="#9cb8d8"/><stop offset="0.148" stop-color="#bcd1e5"/><stop offset="0.239" stop-color="#e1ecf4"/><stop offset="0.345" stop-color="#f3f9fb"/><stop offset="0.489" stop-color="#f3f9fb"/><stop offset="0.565" stop-color="#d0e0ed"/><stop offset="0.671" stop-color="#a8c3de"/><stop offset="0.739" stop-color="#9ab4d6"/><stop offset="0.822" stop-color="#98b0d3"/><stop offset="0.868" stop-color="#a0bddb"/><stop offset="0.898" stop-color="#acc6df"/><stop offset="0.974" stop-color="#abc5df"/><stop offset="0.997" stop-color="#b3cbe2"/></linearGradient><linearGradient id="p50" gradientUnits="userSpaceOnUse" x1="15.45" x2="145.45" y1="0" y2="0"><stop offset="0.004" stop-color="#8f9bc9"/><stop offset="0.066" stop-color="#96acd2"/><stop offset="0.097" stop-color="#a3bfdc"/><stop offset="0.143" stop-color="#bed2e6"/><stop offset="0.243" stop-color="#e4eef5"/><stop offset="0.343" stop-color="#f3f9fb"/><stop offset="0.489" stop-color="#f1f7fa"/><stop offset="0.543" stop-color="#d1e1ee"/><stop offset="0.673" stop-color="#9ebcda"/><stop offset="0.727" stop-color="#96acd2"/><stop offset="0.82" stop-color="#94a7cf"/><stop offset="0.881" stop-color="#98aed3"/><stop offset="0.92" stop-color="#a2bfdb"/><stop offset="0.989" stop-color="#a5c1dc"/><stop offset="0.997" stop-color="#a7c2dd"/></linearGradient><linearGradient id="p51" gradientUnits="userSpaceOnUse" x1="16.45" x2="144.45" y1="0" y2="0"><stop offset="0.004" stop-color="#92a3cd"/><stop offset="0.043" stop-color="#98aed3"/><stop offset="0.082" stop-color="#a8c3de"/><stop offset="0.223" stop-color="#e2edf5"/><stop offset="0.332" stop-color="#f3f9fb"/><stop offset="0.489" stop-color="#eef5f9"/><stop offset="0.528" stop-color="#d0e0ed"/><stop offset="0.645" stop-color="#9ebcda"/><stop offset="0.707" stop-color="#95a8d0"/><stop offset="0.817" stop-color="#91a0cb"/><stop offset="0.903" stop-color="#94a7cf"/><stop offset="0.95" stop-color="#9cb8d8"/><stop offset="0.996" stop-color="#9fbcda"/></linearGradient><linearGradient id="p52" gradientUnits="userSpaceOnUse" x1="17.45" x2="143.45" y1="0" y2="0"><stop offset="0.004" stop-color="#96acd2"/><stop offset="0.06" stop-color="#a4c0dc"/><stop offset="0.211" stop-color="#e4eef5"/><stop offset="0.322" stop-color="#f3f9fb"/><stop offset="0.488" stop-color="#ebf3f8"/><stop offset="0.52" stop-color="#cddeec"/><stop offset="0.631" stop-color="#9cb8d8"/><stop offset="0.687" stop-color="#94a6ce"/><stop offset="0.806" stop-color="#8e9ac8"/><stop offset="0.917" stop-color="#91a1cc"/><stop offset="0.996" stop-color="#9cb7d7"/></linearGradient><linearGradient id="p53" gradientUnits="userSpaceOnUse" x1="18.45" x2="142.45" y1="0" y2="0"><stop offset="0.004" stop-color="#9cb7d7"/><stop offset="0.045" stop-color="#a3bfdc"/><stop offset="0.182" stop-color="#e1ecf4"/><stop offset="0.279" stop-color="#f1f7fa"/><stop offset="0.375" stop-color="#f1f7fa"/><stop offset="0.488" stop-color="#e8f1f7"/><stop offset="0.521" stop-color="#c6d8e9"/><stop offset="0.617" stop-color="#9ab4d6"/><stop offset="0.682" stop-color="#91a1cc"/><stop offset="0.803" stop-color="#8c94c5"/><stop offset="0.9" stop-color="#8d99c8"/><stop offset="0.98" stop-color="#94a7cf"/><stop offset="0.996" stop-color="#96acd2"/></linearGradient><linearGradient id="p54" gradientUnits="userSpaceOnUse" x1="19.45" x2="141.45" y1="0" y2="0"><stop offset="0.005" stop-color="#9fbcda"/><stop offset="0.054" stop-color="#aec7e0"/><stop offset="0.16" stop-color="#e1ecf4"/><stop offset="0.259" stop-color="#f1f7fa"/><stop offset="0.365" stop-color="#f1f7fa"/><stop offset="0.488" stop-color="#e5eff6"/><stop offset="0.521" stop-color="#bfd3e6"/><stop offset="0.595" stop-color="#9cb8d8"/><stop offset="0.644" stop-color="#93a5ce"/><stop offset="0.759" stop-color="#8c91c4"/><stop offset="0.841" stop-color="#8c8dc2"/><stop offset="0.939" stop-color="#8d98c7"/><stop offset="0.996" stop-color="#92a3cd"/></linearGradient><linearGradient id="p55" gradientUnits="userSpaceOnUse" x1="21.45" x2="139.45" y1="0" y2="0"><stop offset="0.005" stop-color="#a9c4de"/><stop offset="0.132" stop-color="#e1ecf4"/><stop offset="0.233" stop-color="#f1f7fa"/><stop offset="0.352" stop-color="#f1f7fa"/><stop offset="0.488" stop-color="#e1edf5"/><stop offset="0.522" stop-color="#b9cee4"/><stop offset="0.581" stop-color="#9cb7d7"/><stop offset="0.623" stop-color="#94a6ce"/><stop offset="0.717" stop-color="#8c93c4"/><stop offset="0.801" stop-color="#8c86be"/><stop offset="0.903" stop-color="#8c89c0"/><stop offset="0.996" stop-color="#8e9ac8"/></linearGradient><linearGradient id="p56" gradientUnits="userSpaceOnUse" x1="22.45" x2="138.45" y1="0" y2="0"><stop offset="0.005" stop-color="#b6cde3"/><stop offset="0.108" stop-color="#e1edf5"/><stop offset="0.194" stop-color="#eff6fa"/><stop offset="0.315" stop-color="#f3f9fb"/><stop offset="0.47" stop-color="#e1edf5"/><stop offset="0.487" stop-color="#ddeaf3"/><stop offset="0.522" stop-color="#b2cae1"/><stop offset="0.565" stop-color="#9cb8d8"/><stop offset="0.608" stop-color="#94a6ce"/><stop offset="0.694" stop-color="#8c91c4"/><stop offset="0.806" stop-color="#8c7eba"/><stop offset="0.901" stop-color="#8c81bc"/><stop offset="0.996" stop-color="#8c93c4"/></linearGradient><linearGradient id="p57" gradientUnits="userSpaceOnUse" x1="23.45" x2="137.45" y1="0" y2="0"><stop offset="0.005" stop-color="#c5d8e9"/><stop offset="0.093" stop-color="#e4eff6"/><stop offset="0.198" stop-color="#f1f8fb"/><stop offset="0.338" stop-color="#f1f7fa"/><stop offset="0.461" stop-color="#ddeaf3"/><stop offset="0.487" stop-color="#d8e6f0"/><stop offset="0.514" stop-color="#b4cce2"/><stop offset="0.549" stop-color="#9dbad9"/><stop offset="0.61" stop-color="#91a1cc"/><stop offset="0.698" stop-color="#8c8cc1"/><stop offset="0.786" stop-color="#8c7ab8"/><stop offset="0.873" stop-color="#8c76b7"/><stop offset="0.97" stop-color="#8c84bd"/><stop offset="0.996" stop-color="#8c8bc0"/></linearGradient><linearGradient id="p58" gradientUnits="userSpaceOnUse" x1="24.45" x2="136.45" y1="0" y2="0"><stop offset="0.005" stop-color="#d3e2ef"/><stop offset="0.076" stop-color="#e6f0f7"/><stop offset="0.183" stop-color="#f2f8fb"/><stop offset="0.326" stop-color="#f1f7fa"/><stop offset="0.487" stop-color="#d2e2ee"/><stop offset="0.523" stop-color="#a6c2dd"/><stop offset="0.558" stop-color="#98aed3"/><stop offset="0.657" stop-color="#8c91c4"/><stop offset="0.764" stop-color="#8c78b7"/><stop offset="0.835" stop-color="#8c70b3"/><stop offset="0.925" stop-color="#8c74b5"/><stop offset="0.996" stop-color="#8c82bc"/></linearGradient><linearGradient id="p59" gradientUnits="userSpaceOnUse" x1="25.45" x2="135.45" y1="0" y2="0"><stop offset="0.005" stop-color="#e0ecf4"/><stop offset="0.132" stop-color="#f1f7fa"/><stop offset="0.314" stop-color="#f1f8fb"/><stop offset="0.405" stop-color="#e0ecf4"/><stop offset="0.46" stop-color="#d1e1ee"/><stop offset="0.487" stop-color="#ccddec"/><stop offset="0.505" stop-color="#b5cce3"/><stop offset="0.523" stop-color="#a1bedb"/><stop offset="0.56" stop-color="#95aad0"/><stop offset="0.66" stop-color="#8c8cc1"/><stop offset="0.787" stop-color="#8c6db2"/><stop offset="0.869" stop-color="#8c66af"/><stop offset="0.978" stop-color="#8c75b6"/><stop offset="0.996" stop-color="#8c7ab8"/></linearGradient><linearGradient id="p60" gradientUnits="userSpaceOnUse" x1="26.45" x2="134.45" y1="0" y2="0"><stop offset="0.005" stop-color="#e7f1f7"/><stop offset="0.153" stop-color="#f3f9fb"/><stop offset="0.32" stop-color="#f0f7fa"/><stop offset="0.403" stop-color="#deeaf3"/><stop offset="0.45" stop-color="#cddeec"/><stop offset="0.487" stop-color="#c7d9e9"/><stop offset="0.505" stop-color="#b0c9e1"/><stop offset="0.524" stop-color="#9db9d9"/><stop offset="0.561" stop-color="#94a6ce"/><stop offset="0.635" stop-color="#8c90c3"/><stop offset="0.783" stop-color="#8c66af"/><stop offset="0.866" stop-color="#8a59a8"/><stop offset="0.931" stop-color="#8b61ac"/><stop offset="0.996" stop-color="#8c72b5"/></linearGradient><linearGradient id="p61" gradientUnits="userSpaceOnUse" x1="27.45" x2="133.45" y1="0" y2="0"><stop offset="0.005" stop-color="#ecf4f9"/><stop offset="0.184" stop-color="#f3f9fc"/><stop offset="0.307" stop-color="#f1f7fa"/><stop offset="0.392" stop-color="#dfebf4"/><stop offset="0.449" stop-color="#c9dbea"/><stop offset="0.486" stop-color="#c1d4e7"/><stop offset="0.496" stop-color="#b9cee4"/><stop offset="0.515" stop-color="#a0bddb"/><stop offset="0.533" stop-color="#98aed3"/><stop offset="0.618" stop-color="#8c93c4"/><stop offset="0.826" stop-color="#8a51a5"/><stop offset="0.883" stop-color="#894ca2"/><stop offset="0.939" stop-color="#8a55a7"/><stop offset="0.996" stop-color="#8c69b0"/></linearGradient><linearGradient id="p62" gradientUnits="userSpaceOnUse" x1="29.45" x2="131.45" y1="0" y2="0"><stop offset="0.005" stop-color="#f0f7fa"/><stop offset="0.27" stop-color="#f2f8fb"/><stop offset="0.349" stop-color="#e8f1f7"/><stop offset="0.407" stop-color="#d3e2ef"/><stop offset="0.466" stop-color="#c0d4e6"/><stop offset="0.486" stop-color="#bcd1e5"/><stop offset="0.515" stop-color="#9db9d9"/><stop offset="0.535" stop-color="#96abd1"/><stop offset="0.623" stop-color="#8c8fc2"/><stop offset="0.76" stop-color="#8b61ac"/><stop offset="0.839" stop-color="#88459f"/><stop offset="0.898" stop-color="#883e9b"/><stop offset="0.966" stop-color="#894ca2"/><stop offset="0.996" stop-color="#8a58a8"/></linearGradient><linearGradient id="p63" gradientUnits="userSpaceOnUse" x1="30.45" x2="130.45" y1="0" y2="0"><stop offset="0.005" stop-color="#f1f8fb"/><stop offset="0.285" stop-color="#f1f7fa"/><stop offset="0.365" stop-color="#e1edf5"/><stop offset="0.455" stop-color="#bdd1e5"/><stop offset="0.485" stop-color="#b5cce3"/><stop offset="0.505" stop-color="#a3bfdc"/><stop offset="0.515" stop-color="#9ab4d6"/><stop offset="0.535" stop-color="#94a7cf"/><stop offset="0.615" stop-color="#8c8fc2"/><stop offset="0.745" stop-color="#8b62ad"/><stop offset="0.855" stop-color="#863394"/><stop offset="0.915" stop-color="#863092"/><stop offset="0.966" stop-color="#873d9a"/><stop offset="0.995" stop-color="#8949a1"/></linearGradient><linearGradient id="p64" gradientUnits="userSpaceOnUse" x1="31.45" x2="129.45" y1="0" y2="0"><stop offset="0.006" stop-color="#f2f8fb"/><stop offset="0.281" stop-color="#f1f7fa"/><stop offset="0.353" stop-color="#e3eef5"/><stop offset="0.444" stop-color="#bbd0e4"/><stop offset="0.485" stop-color="#b0c9e1"/><stop offset="0.506" stop-color="#9fbcda"/><stop offset="0.526" stop-color="#95aad0"/><stop offset="0.608" stop-color="#8c90c3"/><stop offset="0.74" stop-color="#8b60ac"/><stop offset="0.853" stop-color="#85288d"/><stop offset="0.904" stop-color="#832088"/><stop offset="0.965" stop-color="#852b8f"/><stop offset="0.995" stop-color="#873a98"/></linearGradient><linearGradient id="p65" gradientUnits="userSpaceOnUse" x1="32.45" x2="128.45" y1="0" y2="0"><stop offset="0.006" stop-color="#f3f9fb"/><stop offset="0.277" stop-color="#f0f7fa"/><stop offset="0.349" stop-color="#e2edf5"/><stop offset="0.454" stop-color="#b3cbe2"/><stop offset="0.485" stop-color="#acc6df"/><stop offset="0.506" stop-color="#9db9d9"/><stop offset="0.527" stop-color="#95a8d0"/><stop offset="0.61" stop-color="#8c8dc2"/><stop offset="0.724" stop-color="#8b65ae"/><stop offset="0.797" stop-color="#873b99"/><stop offset="0.86" stop-color="#831d85"/><stop offset="0.902" stop-color="#821580"/><stop offset="0.954" stop-color="#821982"/><stop offset="0.995" stop-color="#85288d"/></linearGradient><linearGradient id="p66" gradientUnits="userSpaceOnUse" x1="33.45" x2="127.45" y1="0" y2="0"><stop offset="0.006" stop-color="#f3f9fb"/><stop offset="0.272" stop-color="#f0f7fa"/><stop offset="0.357" stop-color="#ddeaf3"/><stop offset="0.442" stop-color="#b2cae1"/><stop offset="0.485" stop-color="#a7c2dd"/><stop offset="0.506" stop-color="#9bb6d7"/><stop offset="0.527" stop-color="#94a7cf"/><stop offset="0.602" stop-color="#8c90c3"/><stop offset="0.729" stop-color="#8b60ac"/><stop offset="0.814" stop-color="#852d90"/><stop offset="0.857" stop-color="#821781"/><stop offset="0.899" stop-color="#7e0e79"/><stop offset="0.942" stop-color="#7e0e79"/><stop offset="0.985" stop-color="#821580"/><stop offset="0.995" stop-color="#831a83"/></linearGradient><linearGradient id="p67" gradientUnits="userSpaceOnUse" x1="34.45" x2="126.45" y1="0" y2="0"><stop offset="0.006" stop-color="#f3f9fb"/><stop offset="0.256" stop-color="#f1f7fa"/><stop offset="0.332" stop-color="#e3eef5"/><stop offset="0.376" stop-color="#cfdfed"/><stop offset="0.441" stop-color="#aec7e0"/><stop offset="0.495" stop-color="#9ebcda"/><stop offset="0.528" stop-color="#94a6ce"/><stop offset="0.604" stop-color="#8c8fc2"/><stop offset="0.713" stop-color="#8c69b0"/><stop offset="0.789" stop-color="#873b99"/><stop offset="0.843" stop-color="#831a83"/><stop offset="0.876" stop-color="#7e0e79"/><stop offset="0.93" stop-color="#760c71"/><stop offset="0.984" stop-color="#7e0e79"/><stop offset="0.995" stop-color="#810f7c"/></linearGradient><linearGradient id="p68" gradientUnits="userSpaceOnUse" x1="35.45" x2="125.45" y1="0" y2="0"><stop offset="0.006" stop-color="#f3f9fb"/><stop offset="0.251" stop-color="#f0f7fa"/><stop offset="0.317" stop-color="#e6f0f6"/><stop offset="0.362" stop-color="#d3e2ef"/><stop offset="0.439" stop-color="#aac4de"/><stop offset="0.495" stop-color="#9cb8d8"/><stop offset="0.539" stop-color="#91a1cc"/><stop offset="0.628" stop-color="#8c86be"/><stop offset="0.717" stop-color="#8c66af"/><stop offset="0.795" stop-color="#873897"/><stop offset="0.851" stop-color="#821580"/><stop offset="0.895" stop-color="#770c73"/><stop offset="0.939" stop-color="#710a6d"/><stop offset="0.995" stop-color="#790d75"/></linearGradient><linearGradient id="p69" gradientUnits="userSpaceOnUse" x1="37.45" x2="123.45" y1="0" y2="0"><stop offset="0.006" stop-color="#f2f8fb"/><stop offset="0.239" stop-color="#f0f7fa"/><stop offset="0.32" stop-color="#e2edf5"/><stop offset="0.437" stop-color="#a7c2dd"/><stop offset="0.495" stop-color="#9bb6d7"/><stop offset="0.541" stop-color="#91a1cc"/><stop offset="0.634" stop-color="#8c85be"/><stop offset="0.727" stop-color="#8c66af"/><stop offset="0.809" stop-color="#873696"/><stop offset="0.878" stop-color="#810f7c"/><stop offset="0.937" stop-color="#710a6d"/><stop offset="0.983" stop-color="#710a6d"/><stop offset="0.995" stop-color="#730b6e"/></linearGradient>
<clipPath id="cq"><polygon points="320.6,597.9 280.9,528.3 201.4,528.3 161.7,597.9 201.4,667.4 280.9,667.4"/></clipPath>
<linearGradient id="q0" gradientUnits="userSpaceOnUse" x1="197.15" x2="285.15" y1="0" y2="0"><stop offset="0.006" stop-color="#eff6fa"/><stop offset="0.143" stop-color="#ecf4f9"/><stop offset="0.449" stop-color="#cddeec"/><stop offset="0.586" stop-color="#cfdfed"/><stop offset="0.881" stop-color="#eef5f9"/><stop offset="0.995" stop-color="#eff6fa"/></linearGradient><linearGradient id="q1" gradientUnits="userSpaceOnUse" x1="196.15" x2="286.15" y1="0" y2="0"><stop offset="0.006" stop-color="#eef5f9"/><stop offset="0.162" stop-color="#ebf3f8"/><stop offset="0.428" stop-color="#cddeec"/><stop offset="0.573" stop-color="#cddeec"/><stop offset="0.839" stop-color="#ebf3f8"/><stop offset="0.995" stop-color="#eef5f9"/></linearGradient><linearGradient id="q2" gradientUnits="userSpaceOnUse" x1="195.15" x2="287.15" y1="0" y2="0"><stop offset="0.006" stop-color="#edf5f9"/><stop offset="0.147" stop-color="#ebf4f8"/><stop offset="0.43" stop-color="#cbdceb"/><stop offset="0.571" stop-color="#cbdceb"/><stop offset="0.843" stop-color="#ebf3f8"/><stop offset="0.984" stop-color="#edf5f9"/><stop offset="0.995" stop-color="#ecf4f9"/></linearGradient><linearGradient id="q3" gradientUnits="userSpaceOnUse" x1="194.15" x2="288.15" y1="0" y2="0"><stop offset="0.006" stop-color="#ebf3f8"/><stop offset="0.134" stop-color="#ebf3f8"/><stop offset="0.282" stop-color="#dbe8f2"/><stop offset="0.41" stop-color="#c9dbea"/><stop offset="0.548" stop-color="#c7d9e9"/><stop offset="0.676" stop-color="#d3e2ef"/><stop offset="0.825" stop-color="#e8f1f7"/><stop offset="0.963" stop-color="#edf5f9"/><stop offset="0.995" stop-color="#ebf3f8"/></linearGradient><linearGradient id="q4" gradientUnits="userSpaceOnUse" x1="193.15" x2="289.15" y1="0" y2="0"><stop offset="0.006" stop-color="#e9f2f7"/><stop offset="0.141" stop-color="#e9f2f7"/><stop offset="0.277" stop-color="#d8e6f0"/><stop offset="0.412" stop-color="#c5d8e9"/><stop offset="0.558" stop-color="#c3d6e8"/><stop offset="0.704" stop-color="#d4e3ef"/><stop offset="0.829" stop-color="#e6f0f7"/><stop offset="0.954" stop-color="#ebf3f8"/><stop offset="0.995" stop-color="#e9f2f7"/></linearGradient><linearGradient id="q5" gradientUnits="userSpaceOnUse" x1="192.15" x2="290.15" y1="0" y2="0"><stop offset="0.006" stop-color="#e6f0f7"/><stop offset="0.118" stop-color="#e8f1f7"/><stop offset="0.24" stop-color="#dae7f1"/><stop offset="0.393" stop-color="#c2d5e7"/><stop offset="0.536" stop-color="#bdd1e5"/><stop offset="0.679" stop-color="#cbdceb"/><stop offset="0.822" stop-color="#e3eef5"/><stop offset="0.944" stop-color="#e9f2f8"/><stop offset="0.995" stop-color="#e6f0f7"/></linearGradient><linearGradient id="q6" gradientUnits="userSpaceOnUse" x1="191.15" x2="291.15" y1="0" y2="0"><stop offset="0.005" stop-color="#e4eff6"/><stop offset="0.115" stop-color="#e6f0f6"/><stop offset="0.215" stop-color="#dae7f1"/><stop offset="0.385" stop-color="#bdd1e5"/><stop offset="0.505" stop-color="#b6cde3"/><stop offset="0.605" stop-color="#bdd1e5"/><stop offset="0.755" stop-color="#d4e3ef"/><stop offset="0.855" stop-color="#e4eef5"/><stop offset="0.975" stop-color="#e6f0f6"/><stop offset="0.995" stop-color="#e4eff6"/></linearGradient><linearGradient id="q7" gradientUnits="userSpaceOnUse" x1="189.15" x2="293.15" y1="0" y2="0"><stop offset="0.005" stop-color="#e1ecf4"/><stop offset="0.121" stop-color="#e3eef5"/><stop offset="0.217" stop-color="#d6e4f0"/><stop offset="0.38" stop-color="#b7cee3"/><stop offset="0.496" stop-color="#afc8e0"/><stop offset="0.621" stop-color="#b7cee3"/><stop offset="0.851" stop-color="#e1ecf4"/><stop offset="0.976" stop-color="#e3eef5"/><stop offset="0.996" stop-color="#e1ecf4"/></linearGradient><linearGradient id="q8" gradientUnits="userSpaceOnUse" x1="188.15" x2="294.15" y1="0" y2="0"><stop offset="0.005" stop-color="#deeaf3"/><stop offset="0.109" stop-color="#e1ecf4"/><stop offset="0.203" stop-color="#d2e2ee"/><stop offset="0.392" stop-color="#aec7e0"/><stop offset="0.524" stop-color="#a7c2dd"/><stop offset="0.647" stop-color="#b4cce2"/><stop offset="0.873" stop-color="#e0ecf4"/><stop offset="0.977" stop-color="#e0ecf4"/><stop offset="0.996" stop-color="#ddeaf3"/></linearGradient><linearGradient id="q9" gradientUnits="userSpaceOnUse" x1="187.15" x2="295.15" y1="0" y2="0"><stop offset="0.005" stop-color="#dae7f1"/><stop offset="0.088" stop-color="#dfebf4"/><stop offset="0.181" stop-color="#d1e1ee"/><stop offset="0.394" stop-color="#a6c2dd"/><stop offset="0.505" stop-color="#9fbcda"/><stop offset="0.625" stop-color="#a9c4de"/><stop offset="0.875" stop-color="#dbe8f2"/><stop offset="0.95" stop-color="#dfebf4"/><stop offset="0.996" stop-color="#dae7f1"/></linearGradient><linearGradient id="q10" gradientUnits="userSpaceOnUse" x1="186.15" x2="296.15" y1="0" y2="0"><stop offset="0.005" stop-color="#d7e5f0"/><stop offset="0.087" stop-color="#dbe8f2"/><stop offset="0.196" stop-color="#c9dbea"/><stop offset="0.378" stop-color="#a1bedb"/><stop offset="0.487" stop-color="#9bb6d7"/><stop offset="0.587" stop-color="#9dbad9"/><stop offset="0.705" stop-color="#b1c9e1"/><stop offset="0.878" stop-color="#d7e5f0"/><stop offset="0.96" stop-color="#dbe8f2"/><stop offset="0.996" stop-color="#d7e5f0"/></linearGradient><linearGradient id="q11" gradientUnits="userSpaceOnUse" x1="185.15" x2="297.15" y1="0" y2="0"><stop offset="0.005" stop-color="#d3e2ef"/><stop offset="0.076" stop-color="#d8e6f0"/><stop offset="0.201" stop-color="#c2d5e7"/><stop offset="0.362" stop-color="#9db9d9"/><stop offset="0.487" stop-color="#97add2"/><stop offset="0.594" stop-color="#9ab3d5"/><stop offset="0.675" stop-color="#a3bfdc"/><stop offset="0.871" stop-color="#d1e1ee"/><stop offset="0.951" stop-color="#d8e6f0"/><stop offset="0.996" stop-color="#d3e2ef"/></linearGradient><linearGradient id="q12" gradientUnits="userSpaceOnUse" x1="184.15" x2="298.15" y1="0" y2="0"><stop offset="0.005" stop-color="#d1e1ee"/><stop offset="0.075" stop-color="#d3e2ef"/><stop offset="0.18" stop-color="#c2d5e7"/><stop offset="0.329" stop-color="#9cb8d8"/><stop offset="0.461" stop-color="#93a5ce"/><stop offset="0.575" stop-color="#95a8d0"/><stop offset="0.689" stop-color="#9fbcda"/><stop offset="0.856" stop-color="#cadbeb"/><stop offset="0.943" stop-color="#d4e3ef"/><stop offset="0.996" stop-color="#d1e1ee"/></linearGradient><linearGradient id="q13" gradientUnits="userSpaceOnUse" x1="183.15" x2="299.15" y1="0" y2="0"><stop offset="0.005" stop-color="#cfdfed"/><stop offset="0.082" stop-color="#cfdfed"/><stop offset="0.186" stop-color="#bcd1e5"/><stop offset="0.289" stop-color="#9ebcda"/><stop offset="0.41" stop-color="#91a1cc"/><stop offset="0.522" stop-color="#8f9bc9"/><stop offset="0.66" stop-color="#98aed3"/><stop offset="0.729" stop-color="#a2bfdb"/><stop offset="0.858" stop-color="#c6d8e9"/><stop offset="0.953" stop-color="#d1e1ee"/><stop offset="0.996" stop-color="#cfdfed"/></linearGradient><linearGradient id="q14" gradientUnits="userSpaceOnUse" x1="181.15" x2="301.15" y1="0" y2="0"><stop offset="0.005" stop-color="#ccddec"/><stop offset="0.071" stop-color="#cedfec"/><stop offset="0.155" stop-color="#c1d4e7"/><stop offset="0.28" stop-color="#9cb8d8"/><stop offset="0.405" stop-color="#8e9ac8"/><stop offset="0.505" stop-color="#8c91c4"/><stop offset="0.605" stop-color="#8f9bc9"/><stop offset="0.738" stop-color="#a0bddb"/><stop offset="0.871" stop-color="#c6d8e9"/><stop offset="0.946" stop-color="#cfdfed"/><stop offset="0.996" stop-color="#ccddec"/></linearGradient><linearGradient id="q15" gradientUnits="userSpaceOnUse" x1="180.15" x2="302.15" y1="0" y2="0"><stop offset="0.005" stop-color="#cbdceb"/><stop offset="0.078" stop-color="#cbdceb"/><stop offset="0.16" stop-color="#bbd0e4"/><stop offset="0.259" stop-color="#9cb8d8"/><stop offset="0.39" stop-color="#8c94c5"/><stop offset="0.488" stop-color="#8c86be"/><stop offset="0.586" stop-color="#8c8fc2"/><stop offset="0.668" stop-color="#92a3cd"/><stop offset="0.759" stop-color="#a0bddb"/><stop offset="0.873" stop-color="#c3d6e8"/><stop offset="0.955" stop-color="#cddeec"/><stop offset="0.996" stop-color="#cbdceb"/></linearGradient><linearGradient id="q16" gradientUnits="userSpaceOnUse" x1="179.15" x2="303.15" y1="0" y2="0"><stop offset="0.004" stop-color="#cbdceb"/><stop offset="0.085" stop-color="#c9dbea"/><stop offset="0.166" stop-color="#b5cce3"/><stop offset="0.246" stop-color="#9cb7d7"/><stop offset="0.359" stop-color="#8c93c4"/><stop offset="0.448" stop-color="#8c7eba"/><stop offset="0.553" stop-color="#8c7eba"/><stop offset="0.666" stop-color="#8e9ac8"/><stop offset="0.779" stop-color="#a1bedb"/><stop offset="0.883" stop-color="#c3d6e8"/><stop offset="0.956" stop-color="#ccddec"/><stop offset="0.996" stop-color="#cbdceb"/></linearGradient><linearGradient id="q17" gradientUnits="userSpaceOnUse" x1="178.15" x2="304.15" y1="0" y2="0"><stop offset="0.004" stop-color="#cbdceb"/><stop offset="0.084" stop-color="#c8daea"/><stop offset="0.163" stop-color="#b2cae1"/><stop offset="0.235" stop-color="#9bb6d7"/><stop offset="0.338" stop-color="#8c91c4"/><stop offset="0.433" stop-color="#8c76b7"/><stop offset="0.512" stop-color="#8c71b4"/><stop offset="0.576" stop-color="#8c78b7"/><stop offset="0.663" stop-color="#8c91c4"/><stop offset="0.782" stop-color="#9ebcda"/><stop offset="0.885" stop-color="#c1d4e7"/><stop offset="0.957" stop-color="#ccddec"/><stop offset="0.996" stop-color="#cbdceb"/></linearGradient><linearGradient id="q18" gradientUnits="userSpaceOnUse" x1="177.15" x2="305.15" y1="0" y2="0"><stop offset="0.004" stop-color="#ccddec"/><stop offset="0.082" stop-color="#c7d9e9"/><stop offset="0.161" stop-color="#b0c9e1"/><stop offset="0.223" stop-color="#9bb6d7"/><stop offset="0.317" stop-color="#8c91c4"/><stop offset="0.403" stop-color="#8c72b5"/><stop offset="0.481" stop-color="#8c66af"/><stop offset="0.551" stop-color="#8c69b0"/><stop offset="0.614" stop-color="#8c78b7"/><stop offset="0.707" stop-color="#8e9ac8"/><stop offset="0.801" stop-color="#a1bedb"/><stop offset="0.895" stop-color="#c2d5e7"/><stop offset="0.973" stop-color="#ccddec"/><stop offset="0.996" stop-color="#ccddec"/></linearGradient><linearGradient id="q19" gradientUnits="userSpaceOnUse" x1="176.15" x2="306.15" y1="0" y2="0"><stop offset="0.004" stop-color="#cddeec"/><stop offset="0.073" stop-color="#c8daea"/><stop offset="0.143" stop-color="#b4cce2"/><stop offset="0.204" stop-color="#9db9d9"/><stop offset="0.297" stop-color="#8c93c4"/><stop offset="0.373" stop-color="#8c72b5"/><stop offset="0.45" stop-color="#8b5eab"/><stop offset="0.52" stop-color="#8a5aa9"/><stop offset="0.604" stop-color="#8c6ab1"/><stop offset="0.697" stop-color="#8c8fc2"/><stop offset="0.766" stop-color="#96acd2"/><stop offset="0.827" stop-color="#a8c3de"/><stop offset="0.904" stop-color="#c3d6e8"/><stop offset="0.981" stop-color="#cddeec"/><stop offset="0.997" stop-color="#cddeec"/></linearGradient><linearGradient id="q20" gradientUnits="userSpaceOnUse" x1="175.15" x2="307.15" y1="0" y2="0"><stop offset="0.004" stop-color="#cfdfed"/><stop offset="0.08" stop-color="#c7d9e9"/><stop offset="0.148" stop-color="#b0c9e1"/><stop offset="0.209" stop-color="#9ab3d5"/><stop offset="0.284" stop-color="#8c91c4"/><stop offset="0.391" stop-color="#8b62ad"/><stop offset="0.466" stop-color="#8a51a5"/><stop offset="0.542" stop-color="#8a51a5"/><stop offset="0.618" stop-color="#8b65ae"/><stop offset="0.739" stop-color="#8f9dc9"/><stop offset="0.822" stop-color="#a3bfdc"/><stop offset="0.898" stop-color="#c1d4e7"/><stop offset="0.974" stop-color="#cedfec"/><stop offset="0.997" stop-color="#cfdfed"/></linearGradient><linearGradient id="q21" gradientUnits="userSpaceOnUse" x1="173.15" x2="309.15" y1="0" y2="0"><stop offset="0.004" stop-color="#d1e1ee"/><stop offset="0.078" stop-color="#c9dbea"/><stop offset="0.136" stop-color="#b6cde3"/><stop offset="0.203" stop-color="#9bb6d7"/><stop offset="0.276" stop-color="#8c91c4"/><stop offset="0.379" stop-color="#8b5eab"/><stop offset="0.453" stop-color="#8948a0"/><stop offset="0.511" stop-color="#88449e"/><stop offset="0.57" stop-color="#894da3"/><stop offset="0.644" stop-color="#8c68af"/><stop offset="0.739" stop-color="#8e9ac8"/><stop offset="0.828" stop-color="#a5c1dc"/><stop offset="0.901" stop-color="#c4d7e8"/><stop offset="0.975" stop-color="#d1e1ee"/><stop offset="0.997" stop-color="#d1e1ee"/></linearGradient><linearGradient id="q22" gradientUnits="userSpaceOnUse" x1="172.15" x2="310.15" y1="0" y2="0"><stop offset="0.004" stop-color="#d4e3ef"/><stop offset="0.069" stop-color="#ccddec"/><stop offset="0.142" stop-color="#b3cbe2"/><stop offset="0.2" stop-color="#9ab4d6"/><stop offset="0.272" stop-color="#8c8fc2"/><stop offset="0.388" stop-color="#8a51a5"/><stop offset="0.461" stop-color="#873a98"/><stop offset="0.518" stop-color="#873696"/><stop offset="0.598" stop-color="#894ca2"/><stop offset="0.685" stop-color="#8c76b7"/><stop offset="0.75" stop-color="#8f9bc9"/><stop offset="0.823" stop-color="#a2bfdb"/><stop offset="0.91" stop-color="#c7d9e9"/><stop offset="0.982" stop-color="#d4e3ef"/><stop offset="0.997" stop-color="#d4e3ef"/></linearGradient><linearGradient id="q23" gradientUnits="userSpaceOnUse" x1="171.15" x2="311.15" y1="0" y2="0"><stop offset="0.004" stop-color="#d8e6f0"/><stop offset="0.068" stop-color="#cedfec"/><stop offset="0.132" stop-color="#b7cee3"/><stop offset="0.19" stop-color="#9cb8d8"/><stop offset="0.261" stop-color="#8c91c4"/><stop offset="0.375" stop-color="#894fa3"/><stop offset="0.44" stop-color="#863394"/><stop offset="0.49" stop-color="#852a8e"/><stop offset="0.532" stop-color="#852d90"/><stop offset="0.59" stop-color="#883e9b"/><stop offset="0.69" stop-color="#8c72b5"/><stop offset="0.754" stop-color="#8e9ac8"/><stop offset="0.825" stop-color="#a2bfdb"/><stop offset="0.904" stop-color="#c6d8e9"/><stop offset="0.975" stop-color="#d7e5f0"/><stop offset="0.997" stop-color="#d8e6f0"/></linearGradient><linearGradient id="q24" gradientUnits="userSpaceOnUse" x1="170.15" x2="312.15" y1="0" y2="0"><stop offset="0.004" stop-color="#dbe8f2"/><stop offset="0.053" stop-color="#d4e3ef"/><stop offset="0.131" stop-color="#b9cee4"/><stop offset="0.187" stop-color="#9cb8d8"/><stop offset="0.257" stop-color="#8c90c3"/><stop offset="0.377" stop-color="#88459f"/><stop offset="0.448" stop-color="#84258b"/><stop offset="0.497" stop-color="#831f86"/><stop offset="0.539" stop-color="#842289"/><stop offset="0.595" stop-color="#873696"/><stop offset="0.722" stop-color="#8c82bc"/><stop offset="0.757" stop-color="#8d99c8"/><stop offset="0.828" stop-color="#a2bfdb"/><stop offset="0.905" stop-color="#c8daea"/><stop offset="0.976" stop-color="#dae7f1"/><stop offset="0.997" stop-color="#dbe8f2"/></linearGradient><linearGradient id="q25" gradientUnits="userSpaceOnUse" x1="169.15" x2="313.15" y1="0" y2="0"><stop offset="0.004" stop-color="#dfebf4"/><stop offset="0.059" stop-color="#d6e4f0"/><stop offset="0.136" stop-color="#b6cde3"/><stop offset="0.191" stop-color="#9ab4d6"/><stop offset="0.254" stop-color="#8c90c3"/><stop offset="0.393" stop-color="#863394"/><stop offset="0.441" stop-color="#831d85"/><stop offset="0.511" stop-color="#821781"/><stop offset="0.559" stop-color="#831d85"/><stop offset="0.615" stop-color="#873897"/><stop offset="0.761" stop-color="#8d99c8"/><stop offset="0.83" stop-color="#a3bfdc"/><stop offset="0.9" stop-color="#c7d9e9"/><stop offset="0.969" stop-color="#dce9f2"/><stop offset="0.997" stop-color="#dfebf4"/></linearGradient><linearGradient id="q26" gradientUnits="userSpaceOnUse" x1="168.15" x2="314.15" y1="0" y2="0"><stop offset="0.004" stop-color="#e1edf5"/><stop offset="0.045" stop-color="#ddeaf3"/><stop offset="0.127" stop-color="#bdd1e5"/><stop offset="0.182" stop-color="#9dbad9"/><stop offset="0.25" stop-color="#8c90c3"/><stop offset="0.374" stop-color="#873897"/><stop offset="0.415" stop-color="#831f86"/><stop offset="0.463" stop-color="#82147f"/><stop offset="0.545" stop-color="#821580"/><stop offset="0.586" stop-color="#832088"/><stop offset="0.634" stop-color="#883e9b"/><stop offset="0.764" stop-color="#8e9ac8"/><stop offset="0.826" stop-color="#a1bedb"/><stop offset="0.894" stop-color="#c7d9e9"/><stop offset="0.956" stop-color="#ddeaf3"/><stop offset="0.997" stop-color="#e1edf5"/></linearGradient><linearGradient id="q27" gradientUnits="userSpaceOnUse" x1="167.15" x2="315.15" y1="0" y2="0"><stop offset="0.004" stop-color="#e4eff6"/><stop offset="0.065" stop-color="#dbe8f2"/><stop offset="0.139" stop-color="#b7cee3"/><stop offset="0.186" stop-color="#9cb8d8"/><stop offset="0.247" stop-color="#8c91c4"/><stop offset="0.362" stop-color="#873a98"/><stop offset="0.402" stop-color="#831f86"/><stop offset="0.436" stop-color="#82147f"/><stop offset="0.504" stop-color="#810f7c"/><stop offset="0.578" stop-color="#821781"/><stop offset="0.619" stop-color="#852b8f"/><stop offset="0.686" stop-color="#8b5eab"/><stop offset="0.76" stop-color="#8c97c6"/><stop offset="0.828" stop-color="#a3bfdc"/><stop offset="0.896" stop-color="#c9dbea"/><stop offset="0.95" stop-color="#dfebf4"/><stop offset="0.997" stop-color="#e4eff6"/></linearGradient><linearGradient id="q28" gradientUnits="userSpaceOnUse" x1="165.15" x2="317.15" y1="0" y2="0"><stop offset="0.004" stop-color="#e7f1f7"/><stop offset="0.063" stop-color="#e0ecf4"/><stop offset="0.142" stop-color="#bbd0e4"/><stop offset="0.194" stop-color="#9bb6d7"/><stop offset="0.254" stop-color="#8c8dc2"/><stop offset="0.365" stop-color="#863394"/><stop offset="0.398" stop-color="#831c84"/><stop offset="0.444" stop-color="#81117d"/><stop offset="0.556" stop-color="#81117d"/><stop offset="0.602" stop-color="#831c84"/><stop offset="0.635" stop-color="#863394"/><stop offset="0.767" stop-color="#8f9dc9"/><stop offset="0.819" stop-color="#a1bedb"/><stop offset="0.885" stop-color="#c9dbea"/><stop offset="0.938" stop-color="#e1ecf4"/><stop offset="0.997" stop-color="#e7f1f7"/></linearGradient><linearGradient id="q29" gradientUnits="userSpaceOnUse" x1="164.15" x2="318.15" y1="0" y2="0"><stop offset="0.004" stop-color="#e9f2f8"/><stop offset="0.069" stop-color="#e1edf5"/><stop offset="0.127" stop-color="#c5d8e9"/><stop offset="0.192" stop-color="#9cb8d8"/><stop offset="0.244" stop-color="#8c95c6"/><stop offset="0.354" stop-color="#873897"/><stop offset="0.393" stop-color="#831a83"/><stop offset="0.445" stop-color="#810f7c"/><stop offset="0.517" stop-color="#7c0e78"/><stop offset="0.581" stop-color="#81127e"/><stop offset="0.607" stop-color="#831a83"/><stop offset="0.666" stop-color="#8949a1"/><stop offset="0.763" stop-color="#8e9ac8"/><stop offset="0.815" stop-color="#a0bddb"/><stop offset="0.893" stop-color="#d0e0ed"/><stop offset="0.939" stop-color="#e3eef5"/><stop offset="0.997" stop-color="#e9f2f8"/></linearGradient><linearGradient id="q30" gradientUnits="userSpaceOnUse" x1="163.15" x2="319.15" y1="0" y2="0"><stop offset="0.004" stop-color="#ebf4f8"/><stop offset="0.068" stop-color="#e4eef5"/><stop offset="0.106" stop-color="#d3e2ef"/><stop offset="0.17" stop-color="#abc5df"/><stop offset="0.196" stop-color="#9cb7d7"/><stop offset="0.247" stop-color="#8c93c4"/><stop offset="0.35" stop-color="#873a98"/><stop offset="0.382" stop-color="#831d85"/><stop offset="0.427" stop-color="#810f7c"/><stop offset="0.504" stop-color="#7b0d76"/><stop offset="0.587" stop-color="#81127e"/><stop offset="0.619" stop-color="#831d85"/><stop offset="0.677" stop-color="#8a51a5"/><stop offset="0.766" stop-color="#8f9dc9"/><stop offset="0.818" stop-color="#a3bfdc"/><stop offset="0.882" stop-color="#ccddec"/><stop offset="0.92" stop-color="#e1ecf4"/><stop offset="0.984" stop-color="#ebf3f8"/><stop offset="0.997" stop-color="#ebf4f8"/></linearGradient><linearGradient id="q31" gradientUnits="userSpaceOnUse" x1="162.15" x2="320.15" y1="0" y2="0"><stop offset="0.003" stop-color="#edf5f9"/><stop offset="0.067" stop-color="#e6f0f6"/><stop offset="0.105" stop-color="#d8e6f0"/><stop offset="0.2" stop-color="#9bb6d7"/><stop offset="0.25" stop-color="#8c90c3"/><stop offset="0.345" stop-color="#873b99"/><stop offset="0.383" stop-color="#831a83"/><stop offset="0.434" stop-color="#7e0e79"/><stop offset="0.51" stop-color="#790d75"/><stop offset="0.592" stop-color="#81127e"/><stop offset="0.617" stop-color="#831a83"/><stop offset="0.681" stop-color="#8a54a6"/><stop offset="0.757" stop-color="#8c97c6"/><stop offset="0.807" stop-color="#9dbad9"/><stop offset="0.883" stop-color="#d0e0ed"/><stop offset="0.921" stop-color="#e3eef5"/><stop offset="0.984" stop-color="#edf5f9"/><stop offset="0.997" stop-color="#edf5f9"/></linearGradient><linearGradient id="q32" gradientUnits="userSpaceOnUse" x1="161.15" x2="321.15" y1="0" y2="0"><stop offset="0.003" stop-color="#eef6fa"/><stop offset="0.066" stop-color="#e8f1f7"/><stop offset="0.11" stop-color="#d8e6f0"/><stop offset="0.197" stop-color="#9db9d9"/><stop offset="0.247" stop-color="#8c94c5"/><stop offset="0.347" stop-color="#873897"/><stop offset="0.378" stop-color="#831c84"/><stop offset="0.403" stop-color="#81127e"/><stop offset="0.491" stop-color="#770c73"/><stop offset="0.56" stop-color="#7c0e78"/><stop offset="0.61" stop-color="#821580"/><stop offset="0.635" stop-color="#84278c"/><stop offset="0.685" stop-color="#8a56a7"/><stop offset="0.76" stop-color="#8e9ac8"/><stop offset="0.81" stop-color="#a1bedb"/><stop offset="0.891" stop-color="#d9e6f1"/><stop offset="0.935" stop-color="#e8f1f7"/><stop offset="0.997" stop-color="#eef6fa"/></linearGradient><linearGradient id="q33" gradientUnits="userSpaceOnUse" x1="160.70" x2="321.60" y1="0" y2="0"><stop offset="0" stop-color="#eff6fa"/><stop offset="0.068" stop-color="#e9f2f7"/><stop offset="0.112" stop-color="#d8e6f0"/><stop offset="0.199" stop-color="#9db9d9"/><stop offset="0.249" stop-color="#8c94c5"/><stop offset="0.348" stop-color="#873696"/><stop offset="0.385" stop-color="#821781"/><stop offset="0.429" stop-color="#7e0e79"/><stop offset="0.491" stop-color="#770c73"/><stop offset="0.566" stop-color="#7c0e78"/><stop offset="0.609" stop-color="#821580"/><stop offset="0.628" stop-color="#831f86"/><stop offset="0.677" stop-color="#8950a4"/><stop offset="0.758" stop-color="#8d99c8"/><stop offset="0.808" stop-color="#a0bddb"/><stop offset="0.864" stop-color="#c9dbea"/><stop offset="0.914" stop-color="#e4eef5"/><stop offset="0.982" stop-color="#eff6fa"/><stop offset="0.994" stop-color="#eff6fa"/></linearGradient><linearGradient id="q34" gradientUnits="userSpaceOnUse" x1="160.70" x2="321.60" y1="0" y2="0"><stop offset="0" stop-color="#f0f7fa"/><stop offset="0.068" stop-color="#e9f2f7"/><stop offset="0.112" stop-color="#d8e6f0"/><stop offset="0.199" stop-color="#9db9d9"/><stop offset="0.249" stop-color="#8c93c4"/><stop offset="0.342" stop-color="#873d9a"/><stop offset="0.373" stop-color="#831d85"/><stop offset="0.41" stop-color="#810f7c"/><stop offset="0.491" stop-color="#760c71"/><stop offset="0.566" stop-color="#7c0e78"/><stop offset="0.603" stop-color="#81127e"/><stop offset="0.628" stop-color="#831f86"/><stop offset="0.684" stop-color="#8a55a7"/><stop offset="0.758" stop-color="#8d99c8"/><stop offset="0.808" stop-color="#a0bddb"/><stop offset="0.889" stop-color="#d9e6f1"/><stop offset="0.926" stop-color="#e7f1f7"/><stop offset="0.988" stop-color="#f0f7fa"/><stop offset="0.994" stop-color="#f0f7fa"/></linearGradient><linearGradient id="q35" gradientUnits="userSpaceOnUse" x1="160.70" x2="321.60" y1="0" y2="0"><stop offset="0" stop-color="#f0f7fa"/><stop offset="0.068" stop-color="#e9f2f7"/><stop offset="0.112" stop-color="#d8e6f0"/><stop offset="0.199" stop-color="#9db9d9"/><stop offset="0.249" stop-color="#8c93c4"/><stop offset="0.348" stop-color="#873696"/><stop offset="0.373" stop-color="#831d85"/><stop offset="0.41" stop-color="#810f7c"/><stop offset="0.491" stop-color="#760c71"/><stop offset="0.566" stop-color="#7c0e78"/><stop offset="0.603" stop-color="#81127e"/><stop offset="0.628" stop-color="#831f86"/><stop offset="0.684" stop-color="#8a55a7"/><stop offset="0.758" stop-color="#8d99c8"/><stop offset="0.808" stop-color="#a0bddb"/><stop offset="0.889" stop-color="#d9e6f1"/><stop offset="0.926" stop-color="#e7f1f7"/><stop offset="0.988" stop-color="#f0f7fa"/><stop offset="0.994" stop-color="#f0f7fa"/></linearGradient><linearGradient id="q36" gradientUnits="userSpaceOnUse" x1="160.70" x2="321.60" y1="0" y2="0"><stop offset="0" stop-color="#eff6fa"/><stop offset="0.068" stop-color="#e9f2f7"/><stop offset="0.112" stop-color="#d8e6f0"/><stop offset="0.199" stop-color="#9db9d9"/><stop offset="0.249" stop-color="#8c94c5"/><stop offset="0.348" stop-color="#873696"/><stop offset="0.385" stop-color="#821781"/><stop offset="0.429" stop-color="#7e0e79"/><stop offset="0.491" stop-color="#770c73"/><stop offset="0.566" stop-color="#7c0e78"/><stop offset="0.609" stop-color="#821580"/><stop offset="0.628" stop-color="#831f86"/><stop offset="0.677" stop-color="#8950a4"/><stop offset="0.758" stop-color="#8d99c8"/><stop offset="0.808" stop-color="#a0bddb"/><stop offset="0.864" stop-color="#c9dbea"/><stop offset="0.914" stop-color="#e4eef5"/><stop offset="0.982" stop-color="#eff6fa"/><stop offset="0.994" stop-color="#eff6fa"/></linearGradient><linearGradient id="q37" gradientUnits="userSpaceOnUse" x1="161.15" x2="321.15" y1="0" y2="0"><stop offset="0.003" stop-color="#eef6fa"/><stop offset="0.066" stop-color="#e8f1f7"/><stop offset="0.11" stop-color="#d8e6f0"/><stop offset="0.203" stop-color="#9bb6d7"/><stop offset="0.253" stop-color="#8c8fc2"/><stop offset="0.347" stop-color="#873a98"/><stop offset="0.378" stop-color="#831c84"/><stop offset="0.403" stop-color="#81127e"/><stop offset="0.503" stop-color="#770c73"/><stop offset="0.597" stop-color="#81127e"/><stop offset="0.622" stop-color="#831c84"/><stop offset="0.685" stop-color="#8a58a8"/><stop offset="0.76" stop-color="#8e9ac8"/><stop offset="0.81" stop-color="#a1bedb"/><stop offset="0.872" stop-color="#ccddec"/><stop offset="0.916" stop-color="#e4eef5"/><stop offset="0.985" stop-color="#eef6fa"/><stop offset="0.997" stop-color="#eef6fa"/></linearGradient><linearGradient id="q38" gradientUnits="userSpaceOnUse" x1="162.15" x2="320.15" y1="0" y2="0"><stop offset="0.003" stop-color="#edf5f9"/><stop offset="0.067" stop-color="#e6f0f6"/><stop offset="0.105" stop-color="#d8e6f0"/><stop offset="0.2" stop-color="#9bb6d7"/><stop offset="0.25" stop-color="#8c91c4"/><stop offset="0.352" stop-color="#873696"/><stop offset="0.39" stop-color="#821781"/><stop offset="0.44" stop-color="#7e0e79"/><stop offset="0.516" stop-color="#790d75"/><stop offset="0.592" stop-color="#81127e"/><stop offset="0.624" stop-color="#831f86"/><stop offset="0.674" stop-color="#894fa3"/><stop offset="0.757" stop-color="#8c97c6"/><stop offset="0.814" stop-color="#a2bfdb"/><stop offset="0.896" stop-color="#d8e6f0"/><stop offset="0.934" stop-color="#e6f0f6"/><stop offset="0.997" stop-color="#edf5f9"/></linearGradient><linearGradient id="q39" gradientUnits="userSpaceOnUse" x1="163.15" x2="319.15" y1="0" y2="0"><stop offset="0.004" stop-color="#ebf3f8"/><stop offset="0.068" stop-color="#e4eef5"/><stop offset="0.106" stop-color="#d3e2ef"/><stop offset="0.177" stop-color="#a7c2dd"/><stop offset="0.202" stop-color="#9ab3d5"/><stop offset="0.254" stop-color="#8c8dc2"/><stop offset="0.35" stop-color="#873a98"/><stop offset="0.388" stop-color="#831a83"/><stop offset="0.433" stop-color="#810f7c"/><stop offset="0.491" stop-color="#7b0d76"/><stop offset="0.58" stop-color="#81117d"/><stop offset="0.612" stop-color="#831a83"/><stop offset="0.677" stop-color="#8a51a5"/><stop offset="0.766" stop-color="#8f9dc9"/><stop offset="0.818" stop-color="#a3bfdc"/><stop offset="0.882" stop-color="#ccddec"/><stop offset="0.92" stop-color="#e0ecf4"/><stop offset="0.984" stop-color="#ebf3f8"/><stop offset="0.997" stop-color="#ebf3f8"/></linearGradient><linearGradient id="q40" gradientUnits="userSpaceOnUse" x1="164.15" x2="318.15" y1="0" y2="0"><stop offset="0.004" stop-color="#e9f2f7"/><stop offset="0.069" stop-color="#e1edf5"/><stop offset="0.133" stop-color="#c2d5e7"/><stop offset="0.192" stop-color="#9db9d9"/><stop offset="0.25" stop-color="#8c90c3"/><stop offset="0.361" stop-color="#863394"/><stop offset="0.393" stop-color="#831a83"/><stop offset="0.445" stop-color="#810f7c"/><stop offset="0.51" stop-color="#7c0e78"/><stop offset="0.575" stop-color="#81127e"/><stop offset="0.601" stop-color="#821982"/><stop offset="0.627" stop-color="#85288d"/><stop offset="0.679" stop-color="#8a55a7"/><stop offset="0.763" stop-color="#8e9ac8"/><stop offset="0.815" stop-color="#a0bddb"/><stop offset="0.893" stop-color="#d0e0ed"/><stop offset="0.939" stop-color="#e3eef5"/><stop offset="0.997" stop-color="#e9f2f7"/></linearGradient><linearGradient id="q41" gradientUnits="userSpaceOnUse" x1="166.15" x2="316.15" y1="0" y2="0"><stop offset="0.004" stop-color="#e6f0f7"/><stop offset="0.064" stop-color="#deeaf3"/><stop offset="0.144" stop-color="#b6cde3"/><stop offset="0.19" stop-color="#9bb6d7"/><stop offset="0.25" stop-color="#8c8dc2"/><stop offset="0.357" stop-color="#873a98"/><stop offset="0.397" stop-color="#831c84"/><stop offset="0.444" stop-color="#81117d"/><stop offset="0.557" stop-color="#81117d"/><stop offset="0.597" stop-color="#831a83"/><stop offset="0.63" stop-color="#852f91"/><stop offset="0.677" stop-color="#8a55a7"/><stop offset="0.77" stop-color="#8f9dc9"/><stop offset="0.824" stop-color="#a1bedb"/><stop offset="0.89" stop-color="#c9dbea"/><stop offset="0.944" stop-color="#e0ecf4"/><stop offset="0.997" stop-color="#e6f0f7"/></linearGradient><linearGradient id="q42" gradientUnits="userSpaceOnUse" x1="167.15" x2="315.15" y1="0" y2="0"><stop offset="0.004" stop-color="#e4eef5"/><stop offset="0.065" stop-color="#dbe8f2"/><stop offset="0.139" stop-color="#b7cee3"/><stop offset="0.193" stop-color="#9ab4d6"/><stop offset="0.247" stop-color="#8c91c4"/><stop offset="0.369" stop-color="#873696"/><stop offset="0.409" stop-color="#831c84"/><stop offset="0.443" stop-color="#82147f"/><stop offset="0.544" stop-color="#81127e"/><stop offset="0.598" stop-color="#832088"/><stop offset="0.706" stop-color="#8c6eb3"/><stop offset="0.76" stop-color="#8c97c6"/><stop offset="0.828" stop-color="#a3bfdc"/><stop offset="0.896" stop-color="#c9dbea"/><stop offset="0.95" stop-color="#dfebf4"/><stop offset="0.997" stop-color="#e4eef5"/></linearGradient><linearGradient id="q43" gradientUnits="userSpaceOnUse" x1="168.15" x2="314.15" y1="0" y2="0"><stop offset="0.004" stop-color="#e1edf5"/><stop offset="0.059" stop-color="#d9e6f1"/><stop offset="0.141" stop-color="#b5cce3"/><stop offset="0.182" stop-color="#9dbad9"/><stop offset="0.25" stop-color="#8c90c3"/><stop offset="0.387" stop-color="#863092"/><stop offset="0.422" stop-color="#831d85"/><stop offset="0.476" stop-color="#82147f"/><stop offset="0.552" stop-color="#821781"/><stop offset="0.586" stop-color="#832088"/><stop offset="0.709" stop-color="#8c72b5"/><stop offset="0.764" stop-color="#8e9ac8"/><stop offset="0.826" stop-color="#a1bedb"/><stop offset="0.894" stop-color="#c7d9e9"/><stop offset="0.963" stop-color="#deeaf3"/><stop offset="0.997" stop-color="#e1edf5"/></linearGradient><linearGradient id="q44" gradientUnits="userSpaceOnUse" x1="169.15" x2="313.15" y1="0" y2="0"><stop offset="0.004" stop-color="#deeaf3"/><stop offset="0.059" stop-color="#d6e4f0"/><stop offset="0.143" stop-color="#b3cbe2"/><stop offset="0.191" stop-color="#9bb6d7"/><stop offset="0.254" stop-color="#8c90c3"/><stop offset="0.393" stop-color="#863595"/><stop offset="0.448" stop-color="#831d85"/><stop offset="0.518" stop-color="#821982"/><stop offset="0.559" stop-color="#831f86"/><stop offset="0.615" stop-color="#873a98"/><stop offset="0.761" stop-color="#8e9ac8"/><stop offset="0.823" stop-color="#a0bddb"/><stop offset="0.907" stop-color="#cadbeb"/><stop offset="0.969" stop-color="#dce9f2"/><stop offset="0.997" stop-color="#deeaf3"/></linearGradient><linearGradient id="q45" gradientUnits="userSpaceOnUse" x1="170.15" x2="312.15" y1="0" y2="0"><stop offset="0.004" stop-color="#dbe8f2"/><stop offset="0.053" stop-color="#d4e3ef"/><stop offset="0.131" stop-color="#b9cee4"/><stop offset="0.194" stop-color="#9ab4d6"/><stop offset="0.257" stop-color="#8c91c4"/><stop offset="0.377" stop-color="#8947a0"/><stop offset="0.448" stop-color="#84278c"/><stop offset="0.497" stop-color="#832088"/><stop offset="0.546" stop-color="#84258b"/><stop offset="0.595" stop-color="#873897"/><stop offset="0.715" stop-color="#8c7eba"/><stop offset="0.757" stop-color="#8e9ac8"/><stop offset="0.828" stop-color="#a3bfdc"/><stop offset="0.905" stop-color="#c8daea"/><stop offset="0.976" stop-color="#dae7f1"/><stop offset="0.997" stop-color="#dbe8f2"/></linearGradient><linearGradient id="q46" gradientUnits="userSpaceOnUse" x1="171.15" x2="311.15" y1="0" y2="0"><stop offset="0.004" stop-color="#d7e5f0"/><stop offset="0.061" stop-color="#d0e0ed"/><stop offset="0.132" stop-color="#b7cee3"/><stop offset="0.197" stop-color="#9ab4d6"/><stop offset="0.261" stop-color="#8c93c4"/><stop offset="0.347" stop-color="#8b60ac"/><stop offset="0.425" stop-color="#873a98"/><stop offset="0.497" stop-color="#852b8f"/><stop offset="0.561" stop-color="#863595"/><stop offset="0.64" stop-color="#8a58a8"/><stop offset="0.747" stop-color="#8c97c6"/><stop offset="0.825" stop-color="#a2bfdb"/><stop offset="0.904" stop-color="#c6d8e9"/><stop offset="0.983" stop-color="#d7e5f0"/><stop offset="0.997" stop-color="#d7e5f0"/></linearGradient><linearGradient id="q47" gradientUnits="userSpaceOnUse" x1="172.15" x2="310.15" y1="0" y2="0"><stop offset="0.004" stop-color="#d3e2ef"/><stop offset="0.069" stop-color="#ccddec"/><stop offset="0.127" stop-color="#bacfe4"/><stop offset="0.2" stop-color="#9bb6d7"/><stop offset="0.272" stop-color="#8c90c3"/><stop offset="0.374" stop-color="#8a59a8"/><stop offset="0.446" stop-color="#88409c"/><stop offset="0.504" stop-color="#873897"/><stop offset="0.576" stop-color="#88459f"/><stop offset="0.663" stop-color="#8c6cb1"/><stop offset="0.75" stop-color="#8f9dc9"/><stop offset="0.823" stop-color="#a2bfdb"/><stop offset="0.91" stop-color="#c7d9e9"/><stop offset="0.982" stop-color="#d3e2ef"/><stop offset="0.997" stop-color="#d3e2ef"/></linearGradient><linearGradient id="q48" gradientUnits="userSpaceOnUse" x1="174.15" x2="308.15" y1="0" y2="0"><stop offset="0.004" stop-color="#d1e1ee"/><stop offset="0.086" stop-color="#c6d8e9"/><stop offset="0.161" stop-color="#a9c4de"/><stop offset="0.206" stop-color="#9ab3d5"/><stop offset="0.273" stop-color="#8c93c4"/><stop offset="0.37" stop-color="#8b62ad"/><stop offset="0.452" stop-color="#8949a1"/><stop offset="0.519" stop-color="#88459f"/><stop offset="0.594" stop-color="#8a55a7"/><stop offset="0.676" stop-color="#8c78b7"/><stop offset="0.743" stop-color="#8f9bc9"/><stop offset="0.825" stop-color="#a3bfdc"/><stop offset="0.907" stop-color="#c4d7e8"/><stop offset="0.989" stop-color="#d1e1ee"/><stop offset="0.997" stop-color="#d1e1ee"/></linearGradient><linearGradient id="q49" gradientUnits="userSpaceOnUse" x1="175.15" x2="307.15" y1="0" y2="0"><stop offset="0.004" stop-color="#cfdfed"/><stop offset="0.08" stop-color="#c7d9e9"/><stop offset="0.141" stop-color="#b3cbe2"/><stop offset="0.201" stop-color="#9cb8d8"/><stop offset="0.284" stop-color="#8c93c4"/><stop offset="0.383" stop-color="#8c66af"/><stop offset="0.474" stop-color="#8a51a5"/><stop offset="0.542" stop-color="#8a54a6"/><stop offset="0.603" stop-color="#8b62ad"/><stop offset="0.671" stop-color="#8c7dba"/><stop offset="0.731" stop-color="#8e9ac8"/><stop offset="0.815" stop-color="#a1bedb"/><stop offset="0.906" stop-color="#c3d6e8"/><stop offset="0.981" stop-color="#cfdfed"/><stop offset="0.997" stop-color="#cedfec"/></linearGradient><linearGradient id="q50" gradientUnits="userSpaceOnUse" x1="176.15" x2="306.15" y1="0" y2="0"><stop offset="0.004" stop-color="#cddeec"/><stop offset="0.081" stop-color="#c7d9e9"/><stop offset="0.158" stop-color="#afc8e0"/><stop offset="0.212" stop-color="#9cb7d7"/><stop offset="0.297" stop-color="#8c94c5"/><stop offset="0.389" stop-color="#8c6eb3"/><stop offset="0.466" stop-color="#8b5daa"/><stop offset="0.543" stop-color="#8b5eab"/><stop offset="0.635" stop-color="#8c76b7"/><stop offset="0.72" stop-color="#8e9ac8"/><stop offset="0.812" stop-color="#a2bfdb"/><stop offset="0.904" stop-color="#c4d7e8"/><stop offset="0.981" stop-color="#cddeec"/><stop offset="0.997" stop-color="#cddeec"/></linearGradient><linearGradient id="q51" gradientUnits="userSpaceOnUse" x1="177.15" x2="305.15" y1="0" y2="0"><stop offset="0.004" stop-color="#ccddec"/><stop offset="0.082" stop-color="#c7d9e9"/><stop offset="0.153" stop-color="#b3cbe2"/><stop offset="0.223" stop-color="#9bb6d7"/><stop offset="0.325" stop-color="#8c8fc2"/><stop offset="0.403" stop-color="#8c74b5"/><stop offset="0.473" stop-color="#8c68af"/><stop offset="0.543" stop-color="#8c69b0"/><stop offset="0.614" stop-color="#8c79b8"/><stop offset="0.707" stop-color="#8f9bc9"/><stop offset="0.801" stop-color="#a2bfdb"/><stop offset="0.887" stop-color="#c0d4e6"/><stop offset="0.957" stop-color="#ccddec"/><stop offset="0.996" stop-color="#ccddec"/></linearGradient><linearGradient id="q52" gradientUnits="userSpaceOnUse" x1="178.15" x2="304.15" y1="0" y2="0"><stop offset="0.004" stop-color="#cbdceb"/><stop offset="0.084" stop-color="#c8daea"/><stop offset="0.147" stop-color="#b9cee4"/><stop offset="0.227" stop-color="#9db9d9"/><stop offset="0.338" stop-color="#8c93c4"/><stop offset="0.409" stop-color="#8c7dba"/><stop offset="0.481" stop-color="#8c72b5"/><stop offset="0.56" stop-color="#8c76b7"/><stop offset="0.647" stop-color="#8c8dc2"/><stop offset="0.711" stop-color="#92a3cd"/><stop offset="0.79" stop-color="#a2bfdb"/><stop offset="0.893" stop-color="#c4d7e8"/><stop offset="0.973" stop-color="#ccddec"/><stop offset="0.996" stop-color="#cbdceb"/></linearGradient><linearGradient id="q53" gradientUnits="userSpaceOnUse" x1="179.15" x2="303.15" y1="0" y2="0"><stop offset="0.004" stop-color="#cbdceb"/><stop offset="0.077" stop-color="#cadbeb"/><stop offset="0.158" stop-color="#b9cee4"/><stop offset="0.254" stop-color="#9ab4d6"/><stop offset="0.367" stop-color="#8c91c4"/><stop offset="0.464" stop-color="#8c7eba"/><stop offset="0.545" stop-color="#8c80bb"/><stop offset="0.617" stop-color="#8c8dc2"/><stop offset="0.682" stop-color="#91a0cb"/><stop offset="0.779" stop-color="#a2bfdb"/><stop offset="0.883" stop-color="#c4d7e8"/><stop offset="0.964" stop-color="#cddeec"/><stop offset="0.996" stop-color="#cbdceb"/></linearGradient><linearGradient id="q54" gradientUnits="userSpaceOnUse" x1="180.15" x2="302.15" y1="0" y2="0"><stop offset="0.005" stop-color="#cbdceb"/><stop offset="0.07" stop-color="#ccddec"/><stop offset="0.144" stop-color="#c0d4e6"/><stop offset="0.259" stop-color="#9db9d9"/><stop offset="0.398" stop-color="#8c94c5"/><stop offset="0.472" stop-color="#8c89c0"/><stop offset="0.57" stop-color="#8c8dc2"/><stop offset="0.668" stop-color="#92a4cd"/><stop offset="0.767" stop-color="#a4c0dc"/><stop offset="0.873" stop-color="#c4d7e8"/><stop offset="0.955" stop-color="#cedfec"/><stop offset="0.996" stop-color="#cbdceb"/></linearGradient><linearGradient id="q55" gradientUnits="userSpaceOnUse" x1="182.15" x2="300.15" y1="0" y2="0"><stop offset="0.005" stop-color="#cddeec"/><stop offset="0.081" stop-color="#cddeec"/><stop offset="0.183" stop-color="#b9cee4"/><stop offset="0.276" stop-color="#9db9d9"/><stop offset="0.411" stop-color="#8e9ac8"/><stop offset="0.505" stop-color="#8c93c4"/><stop offset="0.598" stop-color="#8f9bc9"/><stop offset="0.733" stop-color="#9ebcda"/><stop offset="0.861" stop-color="#c3d6e8"/><stop offset="0.945" stop-color="#cfdfed"/><stop offset="0.996" stop-color="#cddeec"/></linearGradient><linearGradient id="q56" gradientUnits="userSpaceOnUse" x1="183.15" x2="299.15" y1="0" y2="0"><stop offset="0.005" stop-color="#cfdfed"/><stop offset="0.074" stop-color="#d1e1ee"/><stop offset="0.186" stop-color="#bdd1e5"/><stop offset="0.298" stop-color="#9dbad9"/><stop offset="0.401" stop-color="#93a5ce"/><stop offset="0.496" stop-color="#8f9dc9"/><stop offset="0.591" stop-color="#92a4cd"/><stop offset="0.677" stop-color="#9ab3d5"/><stop offset="0.746" stop-color="#a8c3de"/><stop offset="0.858" stop-color="#c7d9e9"/><stop offset="0.953" stop-color="#d2e2ee"/><stop offset="0.996" stop-color="#cfdfed"/></linearGradient><linearGradient id="q57" gradientUnits="userSpaceOnUse" x1="184.15" x2="298.15" y1="0" y2="0"><stop offset="0.005" stop-color="#d1e1ee"/><stop offset="0.084" stop-color="#d3e2ef"/><stop offset="0.198" stop-color="#bfd3e6"/><stop offset="0.329" stop-color="#9db9d9"/><stop offset="0.452" stop-color="#94a7cf"/><stop offset="0.566" stop-color="#95a8d0"/><stop offset="0.689" stop-color="#a0bddb"/><stop offset="0.856" stop-color="#cadbeb"/><stop offset="0.943" stop-color="#d4e3ef"/><stop offset="0.996" stop-color="#d1e1ee"/></linearGradient><linearGradient id="q58" gradientUnits="userSpaceOnUse" x1="185.15" x2="297.15" y1="0" y2="0"><stop offset="0.005" stop-color="#d4e3ef"/><stop offset="0.076" stop-color="#d8e6f0"/><stop offset="0.192" stop-color="#c5d8e9"/><stop offset="0.362" stop-color="#9dbad9"/><stop offset="0.487" stop-color="#98aed3"/><stop offset="0.594" stop-color="#9ab4d6"/><stop offset="0.683" stop-color="#a6c2dd"/><stop offset="0.871" stop-color="#d2e2ee"/><stop offset="0.942" stop-color="#d9e6f1"/><stop offset="0.996" stop-color="#d3e2ef"/></linearGradient><linearGradient id="q59" gradientUnits="userSpaceOnUse" x1="186.15" x2="296.15" y1="0" y2="0"><stop offset="0.005" stop-color="#d7e5f0"/><stop offset="0.078" stop-color="#dce9f2"/><stop offset="0.16" stop-color="#d1e1ee"/><stop offset="0.378" stop-color="#a2bfdb"/><stop offset="0.487" stop-color="#9cb7d7"/><stop offset="0.596" stop-color="#9fbcda"/><stop offset="0.714" stop-color="#b4cce2"/><stop offset="0.878" stop-color="#d8e6f0"/><stop offset="0.969" stop-color="#dbe8f2"/><stop offset="0.996" stop-color="#d7e5f0"/></linearGradient><linearGradient id="q60" gradientUnits="userSpaceOnUse" x1="187.15" x2="295.15" y1="0" y2="0"><stop offset="0.005" stop-color="#dbe8f2"/><stop offset="0.088" stop-color="#dfebf4"/><stop offset="0.172" stop-color="#d4e3ef"/><stop offset="0.385" stop-color="#a9c4de"/><stop offset="0.487" stop-color="#a1bedb"/><stop offset="0.598" stop-color="#a6c2dd"/><stop offset="0.875" stop-color="#dce9f2"/><stop offset="0.959" stop-color="#dfebf4"/><stop offset="0.996" stop-color="#dae7f1"/></linearGradient><linearGradient id="q61" gradientUnits="userSpaceOnUse" x1="188.15" x2="294.15" y1="0" y2="0"><stop offset="0.005" stop-color="#deeaf3"/><stop offset="0.1" stop-color="#e2edf5"/><stop offset="0.194" stop-color="#d6e4f0"/><stop offset="0.401" stop-color="#aec7e0"/><stop offset="0.515" stop-color="#a8c3de"/><stop offset="0.628" stop-color="#b2cae1"/><stop offset="0.864" stop-color="#dfebf4"/><stop offset="0.967" stop-color="#e1ecf4"/><stop offset="0.996" stop-color="#deeaf3"/></linearGradient><linearGradient id="q62" gradientUnits="userSpaceOnUse" x1="190.15" x2="292.15" y1="0" y2="0"><stop offset="0.005" stop-color="#e2edf5"/><stop offset="0.113" stop-color="#e4eef5"/><stop offset="0.211" stop-color="#d7e5f0"/><stop offset="0.368" stop-color="#bacfe4"/><stop offset="0.486" stop-color="#b0c9e1"/><stop offset="0.613" stop-color="#b7cee3"/><stop offset="0.858" stop-color="#e1edf5"/><stop offset="0.976" stop-color="#e4eef5"/><stop offset="0.996" stop-color="#e2edf5"/></linearGradient><linearGradient id="q63" gradientUnits="userSpaceOnUse" x1="191.15" x2="291.15" y1="0" y2="0"><stop offset="0.005" stop-color="#e4eff6"/><stop offset="0.125" stop-color="#e6f0f6"/><stop offset="0.235" stop-color="#d7e5f0"/><stop offset="0.385" stop-color="#bed2e6"/><stop offset="0.505" stop-color="#b7cee3"/><stop offset="0.645" stop-color="#c2d5e7"/><stop offset="0.845" stop-color="#e4eef5"/><stop offset="0.975" stop-color="#e6f0f6"/><stop offset="0.995" stop-color="#e4eff6"/></linearGradient><linearGradient id="q64" gradientUnits="userSpaceOnUse" x1="192.15" x2="290.15" y1="0" y2="0"><stop offset="0.006" stop-color="#e7f1f7"/><stop offset="0.128" stop-color="#e8f1f7"/><stop offset="0.251" stop-color="#d9e6f1"/><stop offset="0.383" stop-color="#c4d7e8"/><stop offset="0.516" stop-color="#bed2e6"/><stop offset="0.659" stop-color="#c9dbea"/><stop offset="0.822" stop-color="#e4eef5"/><stop offset="0.944" stop-color="#e9f2f8"/><stop offset="0.995" stop-color="#e6f0f7"/></linearGradient><linearGradient id="q65" gradientUnits="userSpaceOnUse" x1="193.15" x2="289.15" y1="0" y2="0"><stop offset="0.006" stop-color="#e9f2f8"/><stop offset="0.152" stop-color="#e9f2f7"/><stop offset="0.412" stop-color="#c6d8e9"/><stop offset="0.558" stop-color="#c4d7e8"/><stop offset="0.704" stop-color="#d4e3ef"/><stop offset="0.818" stop-color="#e6f0f6"/><stop offset="0.964" stop-color="#ebf3f8"/><stop offset="0.995" stop-color="#e9f2f8"/></linearGradient><linearGradient id="q66" gradientUnits="userSpaceOnUse" x1="194.15" x2="288.15" y1="0" y2="0"><stop offset="0.006" stop-color="#ebf3f8"/><stop offset="0.112" stop-color="#ecf4f9"/><stop offset="0.272" stop-color="#ddeaf3"/><stop offset="0.41" stop-color="#cadbeb"/><stop offset="0.559" stop-color="#c8daea"/><stop offset="0.687" stop-color="#d6e4f0"/><stop offset="0.857" stop-color="#ebf3f8"/><stop offset="0.974" stop-color="#ecf4f9"/><stop offset="0.995" stop-color="#ebf3f8"/></linearGradient><linearGradient id="q67" gradientUnits="userSpaceOnUse" x1="195.15" x2="287.15" y1="0" y2="0"><stop offset="0.006" stop-color="#edf5f9"/><stop offset="0.158" stop-color="#ebf3f8"/><stop offset="0.43" stop-color="#cbdceb"/><stop offset="0.582" stop-color="#ccddec"/><stop offset="0.843" stop-color="#ebf3f8"/><stop offset="0.995" stop-color="#edf5f9"/></linearGradient><linearGradient id="q68" gradientUnits="userSpaceOnUse" x1="196.15" x2="286.15" y1="0" y2="0"><stop offset="0.006" stop-color="#eef6fa"/><stop offset="0.139" stop-color="#ecf4f9"/><stop offset="0.451" stop-color="#ccddec"/><stop offset="0.595" stop-color="#cfdfed"/><stop offset="0.839" stop-color="#ebf3f8"/><stop offset="0.973" stop-color="#eff6fa"/><stop offset="0.995" stop-color="#eef5f9"/></linearGradient><linearGradient id="q69" gradientUnits="userSpaceOnUse" x1="198.15" x2="284.15" y1="0" y2="0"><stop offset="0.006" stop-color="#eff6fa"/><stop offset="0.146" stop-color="#ebf4f8"/><stop offset="0.448" stop-color="#cddeec"/><stop offset="0.588" stop-color="#cfdfed"/><stop offset="0.89" stop-color="#eef5f9"/><stop offset="0.995" stop-color="#eff6fa"/></linearGradient>
<clipPath id="cr"><polygon points="482.0,597.9 442.3,528.3 362.8,528.3 323.1,597.9 362.8,667.4 442.3,667.4"/></clipPath>
<linearGradient id="r0" gradientUnits="userSpaceOnUse" x1="358.55" x2="446.55" y1="0" y2="0"><stop offset="0.006" stop-color="#740b70"/><stop offset="0.063" stop-color="#6f0a6b"/><stop offset="0.12" stop-color="#7c0e78"/><stop offset="0.143" stop-color="#82147f"/><stop offset="0.245" stop-color="#8a54a6"/><stop offset="0.302" stop-color="#8c70b3"/><stop offset="0.438" stop-color="#8f9bc9"/><stop offset="0.529" stop-color="#9fbcda"/><stop offset="0.574" stop-color="#adc7e0"/><stop offset="0.665" stop-color="#deeaf3"/><stop offset="0.722" stop-color="#ecf4f9"/><stop offset="0.847" stop-color="#f3f9fb"/><stop offset="0.995" stop-color="#f3f9fb"/></linearGradient><linearGradient id="r1" gradientUnits="userSpaceOnUse" x1="357.55" x2="447.55" y1="0" y2="0"><stop offset="0.006" stop-color="#790d75"/><stop offset="0.062" stop-color="#710a6d"/><stop offset="0.106" stop-color="#770c73"/><stop offset="0.139" stop-color="#81117d"/><stop offset="0.206" stop-color="#873897"/><stop offset="0.273" stop-color="#8b61ac"/><stop offset="0.339" stop-color="#8c7cb9"/><stop offset="0.439" stop-color="#8f9bc9"/><stop offset="0.484" stop-color="#96abd1"/><stop offset="0.517" stop-color="#a0bddb"/><stop offset="0.573" stop-color="#b0c9e1"/><stop offset="0.673" stop-color="#e3eef5"/><stop offset="0.751" stop-color="#f0f7fa"/><stop offset="0.995" stop-color="#f3f9fb"/></linearGradient><linearGradient id="r2" gradientUnits="userSpaceOnUse" x1="356.55" x2="448.55" y1="0" y2="0"><stop offset="0.006" stop-color="#810f7c"/><stop offset="0.06" stop-color="#770c73"/><stop offset="0.082" stop-color="#770c73"/><stop offset="0.136" stop-color="#81127e"/><stop offset="0.18" stop-color="#84278c"/><stop offset="0.256" stop-color="#8a58a8"/><stop offset="0.321" stop-color="#8c75b6"/><stop offset="0.441" stop-color="#8f9dc9"/><stop offset="0.484" stop-color="#96acd2"/><stop offset="0.506" stop-color="#9fbcda"/><stop offset="0.571" stop-color="#b3cbe2"/><stop offset="0.658" stop-color="#e1ecf4"/><stop offset="0.745" stop-color="#f1f7fa"/><stop offset="0.995" stop-color="#f3f9fb"/></linearGradient><linearGradient id="r3" gradientUnits="userSpaceOnUse" x1="355.55" x2="449.55" y1="0" y2="0"><stop offset="0.006" stop-color="#831c84"/><stop offset="0.048" stop-color="#810f7c"/><stop offset="0.091" stop-color="#7e0e79"/><stop offset="0.134" stop-color="#821580"/><stop offset="0.176" stop-color="#85288d"/><stop offset="0.261" stop-color="#8b5caa"/><stop offset="0.314" stop-color="#8c74b5"/><stop offset="0.442" stop-color="#8f9dc9"/><stop offset="0.485" stop-color="#97add2"/><stop offset="0.506" stop-color="#a2bfdb"/><stop offset="0.58" stop-color="#bdd1e5"/><stop offset="0.655" stop-color="#e1edf5"/><stop offset="0.74" stop-color="#f1f7fa"/><stop offset="0.995" stop-color="#f3f9fb"/></linearGradient><linearGradient id="r4" gradientUnits="userSpaceOnUse" x1="354.55" x2="450.55" y1="0" y2="0"><stop offset="0.006" stop-color="#852a8e"/><stop offset="0.047" stop-color="#831a83"/><stop offset="0.089" stop-color="#821580"/><stop offset="0.141" stop-color="#831f86"/><stop offset="0.183" stop-color="#863293"/><stop offset="0.287" stop-color="#8c6ab1"/><stop offset="0.422" stop-color="#8d98c7"/><stop offset="0.474" stop-color="#95a8d0"/><stop offset="0.495" stop-color="#9db9d9"/><stop offset="0.516" stop-color="#acc6df"/><stop offset="0.579" stop-color="#c0d4e6"/><stop offset="0.652" stop-color="#e3eef5"/><stop offset="0.735" stop-color="#f1f7fa"/><stop offset="0.995" stop-color="#f3f9fb"/></linearGradient><linearGradient id="r5" gradientUnits="userSpaceOnUse" x1="353.55" x2="451.55" y1="0" y2="0"><stop offset="0.006" stop-color="#873a98"/><stop offset="0.057" stop-color="#84278c"/><stop offset="0.097" stop-color="#842289"/><stop offset="0.148" stop-color="#852b8f"/><stop offset="0.302" stop-color="#8c72b5"/><stop offset="0.424" stop-color="#8e9ac8"/><stop offset="0.475" stop-color="#96abd1"/><stop offset="0.495" stop-color="#a0bddb"/><stop offset="0.516" stop-color="#b1c9e1"/><stop offset="0.577" stop-color="#c4d7e8"/><stop offset="0.638" stop-color="#e1ecf4"/><stop offset="0.72" stop-color="#f1f7fa"/><stop offset="0.995" stop-color="#f2f8fb"/></linearGradient><linearGradient id="r6" gradientUnits="userSpaceOnUse" x1="352.55" x2="452.55" y1="0" y2="0"><stop offset="0.005" stop-color="#894ba2"/><stop offset="0.065" stop-color="#863595"/><stop offset="0.105" stop-color="#863092"/><stop offset="0.155" stop-color="#873a98"/><stop offset="0.295" stop-color="#8c72b5"/><stop offset="0.415" stop-color="#8d99c8"/><stop offset="0.475" stop-color="#97add2"/><stop offset="0.495" stop-color="#a3bfdc"/><stop offset="0.515" stop-color="#b6cde3"/><stop offset="0.595" stop-color="#d0e0ed"/><stop offset="0.645" stop-color="#e5eff6"/><stop offset="0.735" stop-color="#f2f8fb"/><stop offset="0.995" stop-color="#f1f8fb"/></linearGradient><linearGradient id="r7" gradientUnits="userSpaceOnUse" x1="350.55" x2="454.55" y1="0" y2="0"><stop offset="0.005" stop-color="#8b5daa"/><stop offset="0.073" stop-color="#88459f"/><stop offset="0.13" stop-color="#88419d"/><stop offset="0.188" stop-color="#894ca2"/><stop offset="0.323" stop-color="#8c7dba"/><stop offset="0.419" stop-color="#8f9bc9"/><stop offset="0.467" stop-color="#96abd1"/><stop offset="0.486" stop-color="#9dbad9"/><stop offset="0.515" stop-color="#bcd1e5"/><stop offset="0.582" stop-color="#cfdfed"/><stop offset="0.63" stop-color="#e4eef5"/><stop offset="0.717" stop-color="#f2f8fb"/><stop offset="0.976" stop-color="#f0f7fa"/><stop offset="0.996" stop-color="#eff6fa"/></linearGradient><linearGradient id="r8" gradientUnits="userSpaceOnUse" x1="349.55" x2="455.55" y1="0" y2="0"><stop offset="0.005" stop-color="#8c69b0"/><stop offset="0.081" stop-color="#8a52a5"/><stop offset="0.156" stop-color="#8950a4"/><stop offset="0.307" stop-color="#8c7ab8"/><stop offset="0.411" stop-color="#8f9bc9"/><stop offset="0.467" stop-color="#98aed3"/><stop offset="0.486" stop-color="#a1bedb"/><stop offset="0.505" stop-color="#bacfe4"/><stop offset="0.524" stop-color="#c5d8e9"/><stop offset="0.571" stop-color="#cfdfed"/><stop offset="0.628" stop-color="#e5eff6"/><stop offset="0.722" stop-color="#f3f9fb"/><stop offset="0.949" stop-color="#eff6fa"/><stop offset="0.996" stop-color="#ebf4f8"/></linearGradient><linearGradient id="r9" gradientUnits="userSpaceOnUse" x1="348.55" x2="456.55" y1="0" y2="0"><stop offset="0.005" stop-color="#8c72b5"/><stop offset="0.098" stop-color="#8b5eab"/><stop offset="0.172" stop-color="#8b5eab"/><stop offset="0.329" stop-color="#8c85be"/><stop offset="0.403" stop-color="#8f9dc9"/><stop offset="0.459" stop-color="#98aed3"/><stop offset="0.477" stop-color="#9dbad9"/><stop offset="0.514" stop-color="#c7d9e9"/><stop offset="0.579" stop-color="#d7e5f0"/><stop offset="0.653" stop-color="#ecf4f9"/><stop offset="0.746" stop-color="#f3f9fc"/><stop offset="0.931" stop-color="#eef5f9"/><stop offset="0.996" stop-color="#e6f0f7"/></linearGradient><linearGradient id="r10" gradientUnits="userSpaceOnUse" x1="347.55" x2="457.55" y1="0" y2="0"><stop offset="0.005" stop-color="#8c7ab8"/><stop offset="0.123" stop-color="#8c68af"/><stop offset="0.205" stop-color="#8c6db2"/><stop offset="0.314" stop-color="#8c85be"/><stop offset="0.405" stop-color="#909fcb"/><stop offset="0.46" stop-color="#9ab4d6"/><stop offset="0.478" stop-color="#a2bfdb"/><stop offset="0.496" stop-color="#b6cde3"/><stop offset="0.514" stop-color="#cddeec"/><stop offset="0.669" stop-color="#eff6fa"/><stop offset="0.76" stop-color="#f3f9fc"/><stop offset="0.905" stop-color="#edf5f9"/><stop offset="0.996" stop-color="#dfebf4"/></linearGradient><linearGradient id="r11" gradientUnits="userSpaceOnUse" x1="346.55" x2="458.55" y1="0" y2="0"><stop offset="0.005" stop-color="#8c82bc"/><stop offset="0.112" stop-color="#8c71b4"/><stop offset="0.201" stop-color="#8c74b5"/><stop offset="0.273" stop-color="#8c80bb"/><stop offset="0.38" stop-color="#8f9bc9"/><stop offset="0.433" stop-color="#96acd2"/><stop offset="0.469" stop-color="#a2bfdb"/><stop offset="0.487" stop-color="#b0c9e1"/><stop offset="0.505" stop-color="#cadbeb"/><stop offset="0.523" stop-color="#d7e5f0"/><stop offset="0.576" stop-color="#deeaf3"/><stop offset="0.666" stop-color="#f0f7fa"/><stop offset="0.808" stop-color="#f2f8fb"/><stop offset="0.925" stop-color="#e6f0f6"/><stop offset="0.996" stop-color="#d1e1ee"/></linearGradient><linearGradient id="r12" gradientUnits="userSpaceOnUse" x1="345.55" x2="459.55" y1="0" y2="0"><stop offset="0.005" stop-color="#8c8cc1"/><stop offset="0.093" stop-color="#8c7ab8"/><stop offset="0.207" stop-color="#8c7ab8"/><stop offset="0.312" stop-color="#8c8fc2"/><stop offset="0.4" stop-color="#93a5ce"/><stop offset="0.452" stop-color="#9fbcda"/><stop offset="0.487" stop-color="#b5cce3"/><stop offset="0.514" stop-color="#d9e6f1"/><stop offset="0.531" stop-color="#ddeaf3"/><stop offset="0.689" stop-color="#f3f9fb"/><stop offset="0.829" stop-color="#eff6fa"/><stop offset="0.926" stop-color="#dfebf4"/><stop offset="0.996" stop-color="#c3d6e8"/></linearGradient><linearGradient id="r13" gradientUnits="userSpaceOnUse" x1="344.55" x2="460.55" y1="0" y2="0"><stop offset="0.005" stop-color="#8c93c4"/><stop offset="0.108" stop-color="#8c81bc"/><stop offset="0.177" stop-color="#8c80bb"/><stop offset="0.246" stop-color="#8c86be"/><stop offset="0.35" stop-color="#8f9dc9"/><stop offset="0.419" stop-color="#99b1d4"/><stop offset="0.453" stop-color="#a5c1dc"/><stop offset="0.479" stop-color="#b3cbe2"/><stop offset="0.513" stop-color="#deeaf3"/><stop offset="0.694" stop-color="#f3f9fc"/><stop offset="0.824" stop-color="#edf5f9"/><stop offset="0.901" stop-color="#ddeaf3"/><stop offset="0.996" stop-color="#b4cce2"/></linearGradient><linearGradient id="r14" gradientUnits="userSpaceOnUse" x1="342.55" x2="462.55" y1="0" y2="0"><stop offset="0.005" stop-color="#8f9dc9"/><stop offset="0.13" stop-color="#8c88bf"/><stop offset="0.213" stop-color="#8c88bf"/><stop offset="0.338" stop-color="#8f9dc9"/><stop offset="0.405" stop-color="#99b1d4"/><stop offset="0.455" stop-color="#acc6df"/><stop offset="0.48" stop-color="#bacfe4"/><stop offset="0.513" stop-color="#e2edf5"/><stop offset="0.688" stop-color="#f3f9fc"/><stop offset="0.796" stop-color="#edf5f9"/><stop offset="0.88" stop-color="#dae7f1"/><stop offset="0.98" stop-color="#aac4de"/><stop offset="0.996" stop-color="#a5c1dc"/></linearGradient><linearGradient id="r15" gradientUnits="userSpaceOnUse" x1="341.55" x2="463.55" y1="0" y2="0"><stop offset="0.005" stop-color="#92a4cd"/><stop offset="0.111" stop-color="#8c91c4"/><stop offset="0.185" stop-color="#8c8fc2"/><stop offset="0.267" stop-color="#8c95c6"/><stop offset="0.365" stop-color="#95a8d0"/><stop offset="0.414" stop-color="#a0bddb"/><stop offset="0.48" stop-color="#c1d4e7"/><stop offset="0.496" stop-color="#d2e2ee"/><stop offset="0.505" stop-color="#dfebf4"/><stop offset="0.521" stop-color="#e8f1f7"/><stop offset="0.701" stop-color="#f3f9fb"/><stop offset="0.8" stop-color="#e9f2f7"/><stop offset="0.849" stop-color="#ddeaf3"/><stop offset="0.972" stop-color="#a3bfdc"/><stop offset="0.996" stop-color="#9fbcda"/></linearGradient><linearGradient id="r16" gradientUnits="userSpaceOnUse" x1="340.55" x2="464.55" y1="0" y2="0"><stop offset="0.004" stop-color="#97add2"/><stop offset="0.085" stop-color="#8f9bc9"/><stop offset="0.19" stop-color="#8c95c6"/><stop offset="0.303" stop-color="#91a0cb"/><stop offset="0.367" stop-color="#98b0d3"/><stop offset="0.4" stop-color="#a1bedb"/><stop offset="0.48" stop-color="#c7d9e9"/><stop offset="0.512" stop-color="#e9f2f7"/><stop offset="0.69" stop-color="#f3f9fb"/><stop offset="0.795" stop-color="#e6f0f6"/><stop offset="0.843" stop-color="#d6e4f0"/><stop offset="0.956" stop-color="#a2bfdb"/><stop offset="0.996" stop-color="#9bb6d7"/></linearGradient><linearGradient id="r17" gradientUnits="userSpaceOnUse" x1="339.55" x2="465.55" y1="0" y2="0"><stop offset="0.004" stop-color="#9cb8d8"/><stop offset="0.092" stop-color="#91a1cc"/><stop offset="0.195" stop-color="#8f9bc9"/><stop offset="0.306" stop-color="#94a6ce"/><stop offset="0.354" stop-color="#9ab3d5"/><stop offset="0.409" stop-color="#adc7e0"/><stop offset="0.481" stop-color="#cedfec"/><stop offset="0.512" stop-color="#ebf4f8"/><stop offset="0.639" stop-color="#f3f9fb"/><stop offset="0.742" stop-color="#ecf4f9"/><stop offset="0.814" stop-color="#dbe8f2"/><stop offset="0.941" stop-color="#a3bfdc"/><stop offset="0.996" stop-color="#96abd1"/></linearGradient><linearGradient id="r18" gradientUnits="userSpaceOnUse" x1="338.55" x2="466.55" y1="0" y2="0"><stop offset="0.004" stop-color="#a0bddb"/><stop offset="0.059" stop-color="#9cb7d7"/><stop offset="0.114" stop-color="#94a6ce"/><stop offset="0.207" stop-color="#91a1cc"/><stop offset="0.309" stop-color="#97add2"/><stop offset="0.356" stop-color="#a0bddb"/><stop offset="0.473" stop-color="#d1e1ee"/><stop offset="0.512" stop-color="#eef6fa"/><stop offset="0.661" stop-color="#f3f9fb"/><stop offset="0.77" stop-color="#e4eef5"/><stop offset="0.825" stop-color="#cfdfed"/><stop offset="0.926" stop-color="#a2bfdb"/><stop offset="0.957" stop-color="#96acd2"/><stop offset="0.996" stop-color="#91a1cc"/></linearGradient><linearGradient id="r19" gradientUnits="userSpaceOnUse" x1="337.55" x2="467.55" y1="0" y2="0"><stop offset="0.004" stop-color="#a8c3de"/><stop offset="0.043" stop-color="#a3bfdc"/><stop offset="0.089" stop-color="#a2bfdb"/><stop offset="0.135" stop-color="#96acd2"/><stop offset="0.197" stop-color="#94a7cf"/><stop offset="0.289" stop-color="#99b1d4"/><stop offset="0.335" stop-color="#a2bfdb"/><stop offset="0.458" stop-color="#d3e2ef"/><stop offset="0.512" stop-color="#f1f7fa"/><stop offset="0.681" stop-color="#f1f7fa"/><stop offset="0.773" stop-color="#dfebf4"/><stop offset="0.881" stop-color="#b2cae1"/><stop offset="0.912" stop-color="#9db9d9"/><stop offset="0.943" stop-color="#94a6ce"/><stop offset="0.997" stop-color="#8e9ac8"/></linearGradient><linearGradient id="r20" gradientUnits="userSpaceOnUse" x1="336.55" x2="468.55" y1="0" y2="0"><stop offset="0.004" stop-color="#b4cce2"/><stop offset="0.042" stop-color="#aac4de"/><stop offset="0.11" stop-color="#adc7e0"/><stop offset="0.163" stop-color="#9ab4d6"/><stop offset="0.231" stop-color="#99b2d5"/><stop offset="0.307" stop-color="#a3bfdc"/><stop offset="0.428" stop-color="#cedfec"/><stop offset="0.519" stop-color="#f4fafc"/><stop offset="0.671" stop-color="#f1f8fb"/><stop offset="0.769" stop-color="#deeaf3"/><stop offset="0.853" stop-color="#bbd0e4"/><stop offset="0.891" stop-color="#9bb6d7"/><stop offset="0.921" stop-color="#93a5ce"/><stop offset="0.997" stop-color="#8c93c4"/></linearGradient><linearGradient id="r21" gradientUnits="userSpaceOnUse" x1="334.55" x2="470.55" y1="0" y2="0"><stop offset="0.004" stop-color="#c7d9e9"/><stop offset="0.048" stop-color="#b5cce3"/><stop offset="0.1" stop-color="#b3cbe2"/><stop offset="0.151" stop-color="#b6cde3"/><stop offset="0.195" stop-color="#a1bedb"/><stop offset="0.269" stop-color="#a4c0dc"/><stop offset="0.364" stop-color="#bed2e6"/><stop offset="0.504" stop-color="#f3f9fb"/><stop offset="0.563" stop-color="#f5fafc"/><stop offset="0.673" stop-color="#f0f7fa"/><stop offset="0.769" stop-color="#dce9f2"/><stop offset="0.82" stop-color="#c5d8e9"/><stop offset="0.857" stop-color="#9dbad9"/><stop offset="0.886" stop-color="#94a6ce"/><stop offset="0.967" stop-color="#8c90c3"/><stop offset="0.997" stop-color="#8c89c0"/></linearGradient><linearGradient id="r22" gradientUnits="userSpaceOnUse" x1="333.55" x2="471.55" y1="0" y2="0"><stop offset="0.004" stop-color="#d4e3ef"/><stop offset="0.062" stop-color="#c0d4e6"/><stop offset="0.12" stop-color="#bcd1e5"/><stop offset="0.171" stop-color="#c2d5e7"/><stop offset="0.229" stop-color="#acc6df"/><stop offset="0.301" stop-color="#b4cce2"/><stop offset="0.461" stop-color="#e9f2f8"/><stop offset="0.518" stop-color="#f6fbfd"/><stop offset="0.649" stop-color="#f3f9fb"/><stop offset="0.765" stop-color="#deeaf3"/><stop offset="0.794" stop-color="#cbdceb"/><stop offset="0.837" stop-color="#9db9d9"/><stop offset="0.859" stop-color="#95aad0"/><stop offset="0.939" stop-color="#8c90c3"/><stop offset="0.997" stop-color="#8c81bc"/></linearGradient><linearGradient id="r23" gradientUnits="userSpaceOnUse" x1="332.55" x2="472.55" y1="0" y2="0"><stop offset="0.004" stop-color="#e1ecf4"/><stop offset="0.075" stop-color="#cadbeb"/><stop offset="0.132" stop-color="#c3d6e8"/><stop offset="0.204" stop-color="#cedfec"/><stop offset="0.247" stop-color="#bacfe4"/><stop offset="0.29" stop-color="#bcd1e5"/><stop offset="0.375" stop-color="#d4e3ef"/><stop offset="0.44" stop-color="#eaf3f8"/><stop offset="0.511" stop-color="#f7fcfd"/><stop offset="0.661" stop-color="#f2f8fb"/><stop offset="0.747" stop-color="#e3eef5"/><stop offset="0.768" stop-color="#d4e3ef"/><stop offset="0.804" stop-color="#a9c4de"/><stop offset="0.825" stop-color="#9ab4d6"/><stop offset="0.854" stop-color="#93a5ce"/><stop offset="0.918" stop-color="#8c90c3"/><stop offset="0.997" stop-color="#8c78b7"/></linearGradient><linearGradient id="r24" gradientUnits="userSpaceOnUse" x1="331.55" x2="473.55" y1="0" y2="0"><stop offset="0.004" stop-color="#e8f1f7"/><stop offset="0.117" stop-color="#cedfec"/><stop offset="0.173" stop-color="#cddeec"/><stop offset="0.222" stop-color="#dae7f1"/><stop offset="0.243" stop-color="#d4e3ef"/><stop offset="0.271" stop-color="#c7d9e9"/><stop offset="0.314" stop-color="#cadbeb"/><stop offset="0.44" stop-color="#f0f7fa"/><stop offset="0.511" stop-color="#f7fcfd"/><stop offset="0.659" stop-color="#f3f9fb"/><stop offset="0.729" stop-color="#e6f0f6"/><stop offset="0.75" stop-color="#d3e2ef"/><stop offset="0.786" stop-color="#abc5df"/><stop offset="0.814" stop-color="#99b2d5"/><stop offset="0.884" stop-color="#8c95c6"/><stop offset="0.976" stop-color="#8c75b6"/><stop offset="0.997" stop-color="#8c70b3"/></linearGradient><linearGradient id="r25" gradientUnits="userSpaceOnUse" x1="330.55" x2="474.55" y1="0" y2="0"><stop offset="0.004" stop-color="#ecf4f9"/><stop offset="0.164" stop-color="#d3e2ef"/><stop offset="0.212" stop-color="#dbe8f2"/><stop offset="0.254" stop-color="#e3eef5"/><stop offset="0.302" stop-color="#d4e3ef"/><stop offset="0.448" stop-color="#f6fbfc"/><stop offset="0.643" stop-color="#f5fafc"/><stop offset="0.698" stop-color="#edf5f9"/><stop offset="0.726" stop-color="#dce9f2"/><stop offset="0.754" stop-color="#bbd0e4"/><stop offset="0.795" stop-color="#9cb7d7"/><stop offset="0.837" stop-color="#91a0cb"/><stop offset="0.893" stop-color="#8c8bc0"/><stop offset="0.997" stop-color="#8c66af"/></linearGradient><linearGradient id="r26" gradientUnits="userSpaceOnUse" x1="329.55" x2="475.55" y1="0" y2="0"><stop offset="0.004" stop-color="#eff6fa"/><stop offset="0.189" stop-color="#dbe8f2"/><stop offset="0.278" stop-color="#e9f2f8"/><stop offset="0.333" stop-color="#e3eef5"/><stop offset="0.442" stop-color="#f7fcfd"/><stop offset="0.661" stop-color="#f4fafc"/><stop offset="0.689" stop-color="#ebf3f8"/><stop offset="0.716" stop-color="#d3e2ef"/><stop offset="0.771" stop-color="#a5c1dc"/><stop offset="0.798" stop-color="#97add2"/><stop offset="0.867" stop-color="#8c90c3"/><stop offset="0.997" stop-color="#8a58a8"/></linearGradient><linearGradient id="r27" gradientUnits="userSpaceOnUse" x1="328.55" x2="476.55" y1="0" y2="0"><stop offset="0.004" stop-color="#f1f8fb"/><stop offset="0.206" stop-color="#e1edf5"/><stop offset="0.308" stop-color="#eff6fa"/><stop offset="0.348" stop-color="#ecf4f9"/><stop offset="0.423" stop-color="#f7fcfd"/><stop offset="0.646" stop-color="#f6fbfc"/><stop offset="0.673" stop-color="#ecf4f9"/><stop offset="0.774" stop-color="#9db9d9"/><stop offset="0.801" stop-color="#94a6ce"/><stop offset="0.855" stop-color="#8c8fc2"/><stop offset="0.956" stop-color="#8b5eab"/><stop offset="0.997" stop-color="#8949a1"/></linearGradient><linearGradient id="r28" gradientUnits="userSpaceOnUse" x1="326.55" x2="478.55" y1="0" y2="0"><stop offset="0.004" stop-color="#f2f8fb"/><stop offset="0.227" stop-color="#e6f0f6"/><stop offset="0.339" stop-color="#f3f9fc"/><stop offset="0.497" stop-color="#f7fcfd"/><stop offset="0.635" stop-color="#f6fbfc"/><stop offset="0.681" stop-color="#dfebf4"/><stop offset="0.767" stop-color="#9bb6d7"/><stop offset="0.793" stop-color="#92a4cd"/><stop offset="0.846" stop-color="#8c8cc1"/><stop offset="0.925" stop-color="#8b62ad"/><stop offset="0.997" stop-color="#873696"/></linearGradient><linearGradient id="r29" gradientUnits="userSpaceOnUse" x1="325.55" x2="479.55" y1="0" y2="0"><stop offset="0.004" stop-color="#f3f9fb"/><stop offset="0.244" stop-color="#eaf3f8"/><stop offset="0.374" stop-color="#f7fcfd"/><stop offset="0.633" stop-color="#f5fafc"/><stop offset="0.679" stop-color="#ddeaf3"/><stop offset="0.757" stop-color="#9cb8d8"/><stop offset="0.783" stop-color="#93a5ce"/><stop offset="0.828" stop-color="#8c90c3"/><stop offset="0.913" stop-color="#8b60ac"/><stop offset="0.971" stop-color="#863293"/><stop offset="0.997" stop-color="#84278c"/></linearGradient><linearGradient id="r30" gradientUnits="userSpaceOnUse" x1="324.55" x2="480.55" y1="0" y2="0"><stop offset="0.004" stop-color="#f3f9fb"/><stop offset="0.26" stop-color="#edf5f9"/><stop offset="0.375" stop-color="#f7fcfd"/><stop offset="0.625" stop-color="#f6fbfd"/><stop offset="0.67" stop-color="#e1ecf4"/><stop offset="0.754" stop-color="#9bb6d7"/><stop offset="0.786" stop-color="#91a0cb"/><stop offset="0.837" stop-color="#8c86be"/><stop offset="0.895" stop-color="#8b65ae"/><stop offset="0.946" stop-color="#873696"/><stop offset="0.978" stop-color="#831f86"/><stop offset="0.997" stop-color="#821982"/></linearGradient><linearGradient id="r31" gradientUnits="userSpaceOnUse" x1="323.55" x2="481.55" y1="0" y2="0"><stop offset="0.003" stop-color="#f3f9fb"/><stop offset="0.276" stop-color="#f0f7fa"/><stop offset="0.402" stop-color="#f7fcfd"/><stop offset="0.624" stop-color="#f6fbfd"/><stop offset="0.668" stop-color="#e0ecf4"/><stop offset="0.744" stop-color="#9db9d9"/><stop offset="0.769" stop-color="#93a5ce"/><stop offset="0.814" stop-color="#8c8fc2"/><stop offset="0.89" stop-color="#8b60ac"/><stop offset="0.94" stop-color="#852d90"/><stop offset="0.959" stop-color="#831c84"/><stop offset="0.984" stop-color="#810f7c"/><stop offset="0.997" stop-color="#800f7b"/></linearGradient><linearGradient id="r32" gradientUnits="userSpaceOnUse" x1="322.55" x2="482.55" y1="0" y2="0"><stop offset="0.003" stop-color="#f3f9fb"/><stop offset="0.31" stop-color="#f3f9fc"/><stop offset="0.441" stop-color="#f7fcfd"/><stop offset="0.622" stop-color="#f6fbfd"/><stop offset="0.666" stop-color="#dfebf4"/><stop offset="0.741" stop-color="#9cb8d8"/><stop offset="0.766" stop-color="#93a5ce"/><stop offset="0.81" stop-color="#8c8dc2"/><stop offset="0.878" stop-color="#8b62ad"/><stop offset="0.922" stop-color="#863394"/><stop offset="0.953" stop-color="#821580"/><stop offset="0.985" stop-color="#770c73"/><stop offset="0.997" stop-color="#770c73"/></linearGradient><linearGradient id="r33" gradientUnits="userSpaceOnUse" x1="322.10" x2="483.00" y1="0" y2="0"><stop offset="0" stop-color="#f3f9fb"/><stop offset="0.622" stop-color="#f6fbfc"/><stop offset="0.665" stop-color="#dfebf4"/><stop offset="0.74" stop-color="#9cb7d7"/><stop offset="0.771" stop-color="#91a0cb"/><stop offset="0.82" stop-color="#8c85be"/><stop offset="0.876" stop-color="#8b60ac"/><stop offset="0.92" stop-color="#852f91"/><stop offset="0.945" stop-color="#821580"/><stop offset="0.97" stop-color="#770c73"/><stop offset="0.994" stop-color="#730b6e"/></linearGradient><linearGradient id="r34" gradientUnits="userSpaceOnUse" x1="322.10" x2="483.00" y1="0" y2="0"><stop offset="0" stop-color="#f2f8fb"/><stop offset="0.615" stop-color="#f7fcfd"/><stop offset="0.646" stop-color="#ebf3f8"/><stop offset="0.696" stop-color="#c2d5e7"/><stop offset="0.74" stop-color="#9cb7d7"/><stop offset="0.764" stop-color="#92a4cd"/><stop offset="0.802" stop-color="#8c90c3"/><stop offset="0.87" stop-color="#8b65ae"/><stop offset="0.907" stop-color="#873b99"/><stop offset="0.932" stop-color="#831d85"/><stop offset="0.951" stop-color="#800f7b"/><stop offset="0.976" stop-color="#730b6e"/><stop offset="0.994" stop-color="#6f0a6b"/></linearGradient><linearGradient id="r35" gradientUnits="userSpaceOnUse" x1="322.10" x2="483.00" y1="0" y2="0"><stop offset="0" stop-color="#f2f8fb"/><stop offset="0.615" stop-color="#f7fcfd"/><stop offset="0.646" stop-color="#ebf3f8"/><stop offset="0.671" stop-color="#d9e6f1"/><stop offset="0.733" stop-color="#9fbcda"/><stop offset="0.758" stop-color="#94a7cf"/><stop offset="0.802" stop-color="#8c90c3"/><stop offset="0.87" stop-color="#8b65ae"/><stop offset="0.907" stop-color="#873d9a"/><stop offset="0.926" stop-color="#84258b"/><stop offset="0.951" stop-color="#800f7b"/><stop offset="0.976" stop-color="#730b6e"/><stop offset="0.994" stop-color="#6f0a6b"/></linearGradient><linearGradient id="r36" gradientUnits="userSpaceOnUse" x1="322.10" x2="483.00" y1="0" y2="0"><stop offset="0" stop-color="#f3f9fb"/><stop offset="0.622" stop-color="#f6fbfc"/><stop offset="0.665" stop-color="#dfebf4"/><stop offset="0.74" stop-color="#9cb7d7"/><stop offset="0.764" stop-color="#92a4cd"/><stop offset="0.814" stop-color="#8c89c0"/><stop offset="0.876" stop-color="#8b60ac"/><stop offset="0.926" stop-color="#85288d"/><stop offset="0.951" stop-color="#81117d"/><stop offset="0.982" stop-color="#740b70"/><stop offset="0.994" stop-color="#730b6e"/></linearGradient><linearGradient id="r37" gradientUnits="userSpaceOnUse" x1="322.55" x2="482.55" y1="0" y2="0"><stop offset="0.003" stop-color="#f3f9fb"/><stop offset="0.31" stop-color="#f3f9fc"/><stop offset="0.441" stop-color="#f7fcfd"/><stop offset="0.622" stop-color="#f6fbfd"/><stop offset="0.666" stop-color="#dfebf4"/><stop offset="0.741" stop-color="#9cb8d8"/><stop offset="0.766" stop-color="#93a5ce"/><stop offset="0.81" stop-color="#8c8dc2"/><stop offset="0.872" stop-color="#8c68af"/><stop offset="0.916" stop-color="#873b99"/><stop offset="0.953" stop-color="#821580"/><stop offset="0.978" stop-color="#7b0d76"/><stop offset="0.997" stop-color="#770c73"/></linearGradient><linearGradient id="r38" gradientUnits="userSpaceOnUse" x1="323.55" x2="481.55" y1="0" y2="0"><stop offset="0.003" stop-color="#f3f9fb"/><stop offset="0.269" stop-color="#eff6fa"/><stop offset="0.39" stop-color="#f7fcfd"/><stop offset="0.624" stop-color="#f6fbfd"/><stop offset="0.668" stop-color="#e0ecf4"/><stop offset="0.744" stop-color="#9db9d9"/><stop offset="0.769" stop-color="#94a6ce"/><stop offset="0.814" stop-color="#8c8fc2"/><stop offset="0.89" stop-color="#8b60ac"/><stop offset="0.934" stop-color="#863595"/><stop offset="0.959" stop-color="#831d85"/><stop offset="0.991" stop-color="#810f7c"/><stop offset="0.997" stop-color="#810f7c"/></linearGradient><linearGradient id="r39" gradientUnits="userSpaceOnUse" x1="324.55" x2="480.55" y1="0" y2="0"><stop offset="0.004" stop-color="#f3f9fb"/><stop offset="0.254" stop-color="#ecf4f9"/><stop offset="0.375" stop-color="#f7fcfd"/><stop offset="0.625" stop-color="#f6fbfd"/><stop offset="0.67" stop-color="#e1ecf4"/><stop offset="0.754" stop-color="#9bb6d7"/><stop offset="0.786" stop-color="#91a0cb"/><stop offset="0.837" stop-color="#8c86be"/><stop offset="0.895" stop-color="#8b65ae"/><stop offset="0.971" stop-color="#84248a"/><stop offset="0.997" stop-color="#831a83"/></linearGradient><linearGradient id="r40" gradientUnits="userSpaceOnUse" x1="325.55" x2="479.55" y1="0" y2="0"><stop offset="0.004" stop-color="#f3f9fb"/><stop offset="0.244" stop-color="#e9f2f8"/><stop offset="0.361" stop-color="#f6fbfd"/><stop offset="0.633" stop-color="#f5fafc"/><stop offset="0.679" stop-color="#ddeaf3"/><stop offset="0.757" stop-color="#9cb8d8"/><stop offset="0.783" stop-color="#93a5ce"/><stop offset="0.828" stop-color="#8c90c3"/><stop offset="0.913" stop-color="#8b61ac"/><stop offset="0.984" stop-color="#852d90"/><stop offset="0.997" stop-color="#85288d"/></linearGradient><linearGradient id="r41" gradientUnits="userSpaceOnUse" x1="327.55" x2="477.55" y1="0" y2="0"><stop offset="0.004" stop-color="#f2f8fb"/><stop offset="0.224" stop-color="#e5eff6"/><stop offset="0.337" stop-color="#f3f9fb"/><stop offset="0.51" stop-color="#f7fcfd"/><stop offset="0.637" stop-color="#f6fbfc"/><stop offset="0.677" stop-color="#e4eef5"/><stop offset="0.77" stop-color="#9bb6d7"/><stop offset="0.797" stop-color="#93a5ce"/><stop offset="0.844" stop-color="#8c90c3"/><stop offset="0.93" stop-color="#8b64ad"/><stop offset="0.99" stop-color="#883e9b"/><stop offset="0.997" stop-color="#873b99"/></linearGradient><linearGradient id="r42" gradientUnits="userSpaceOnUse" x1="328.55" x2="476.55" y1="0" y2="0"><stop offset="0.004" stop-color="#f1f8fb"/><stop offset="0.193" stop-color="#e1ecf4"/><stop offset="0.315" stop-color="#eef5f9"/><stop offset="0.355" stop-color="#ebf4f8"/><stop offset="0.423" stop-color="#f7fcfd"/><stop offset="0.652" stop-color="#f5fafc"/><stop offset="0.679" stop-color="#e9f2f7"/><stop offset="0.774" stop-color="#9dbad9"/><stop offset="0.801" stop-color="#94a7cf"/><stop offset="0.855" stop-color="#8c90c3"/><stop offset="0.997" stop-color="#894ca2"/></linearGradient><linearGradient id="r43" gradientUnits="userSpaceOnUse" x1="329.55" x2="475.55" y1="0" y2="0"><stop offset="0.004" stop-color="#eff6fa"/><stop offset="0.182" stop-color="#dae7f1"/><stop offset="0.278" stop-color="#e8f1f7"/><stop offset="0.326" stop-color="#e1ecf4"/><stop offset="0.442" stop-color="#f6fbfd"/><stop offset="0.654" stop-color="#f5fafc"/><stop offset="0.689" stop-color="#ebf4f8"/><stop offset="0.716" stop-color="#d6e4f0"/><stop offset="0.75" stop-color="#b5cce3"/><stop offset="0.785" stop-color="#9db9d9"/><stop offset="0.812" stop-color="#94a6ce"/><stop offset="0.867" stop-color="#8c90c3"/><stop offset="0.997" stop-color="#8a5aa9"/></linearGradient><linearGradient id="r44" gradientUnits="userSpaceOnUse" x1="330.55" x2="474.55" y1="0" y2="0"><stop offset="0.004" stop-color="#ecf4f9"/><stop offset="0.157" stop-color="#d2e2ee"/><stop offset="0.198" stop-color="#d7e5f0"/><stop offset="0.247" stop-color="#e2edf5"/><stop offset="0.275" stop-color="#d9e6f1"/><stop offset="0.295" stop-color="#d1e1ee"/><stop offset="0.337" stop-color="#d9e6f1"/><stop offset="0.455" stop-color="#f6fbfc"/><stop offset="0.65" stop-color="#f4fafc"/><stop offset="0.698" stop-color="#eef5f9"/><stop offset="0.726" stop-color="#deeaf3"/><stop offset="0.761" stop-color="#b5cce3"/><stop offset="0.795" stop-color="#9cb8d8"/><stop offset="0.83" stop-color="#92a4cd"/><stop offset="0.886" stop-color="#8c8fc2"/><stop offset="0.955" stop-color="#8c74b5"/><stop offset="0.997" stop-color="#8c68af"/></linearGradient><linearGradient id="r45" gradientUnits="userSpaceOnUse" x1="331.55" x2="473.55" y1="0" y2="0"><stop offset="0.004" stop-color="#e7f1f7"/><stop offset="0.117" stop-color="#ccddec"/><stop offset="0.173" stop-color="#ccddec"/><stop offset="0.222" stop-color="#d9e6f1"/><stop offset="0.271" stop-color="#c4d7e8"/><stop offset="0.328" stop-color="#ccddec"/><stop offset="0.44" stop-color="#eff6fa"/><stop offset="0.497" stop-color="#f7fcfd"/><stop offset="0.659" stop-color="#f3f9fb"/><stop offset="0.729" stop-color="#e6f0f7"/><stop offset="0.743" stop-color="#deeaf3"/><stop offset="0.786" stop-color="#acc6df"/><stop offset="0.814" stop-color="#9ab3d5"/><stop offset="0.856" stop-color="#909fcb"/><stop offset="0.926" stop-color="#8c85be"/><stop offset="0.997" stop-color="#8c71b4"/></linearGradient><linearGradient id="r46" gradientUnits="userSpaceOnUse" x1="332.55" x2="472.55" y1="0" y2="0"><stop offset="0.004" stop-color="#e0ecf4"/><stop offset="0.068" stop-color="#cadbeb"/><stop offset="0.125" stop-color="#c2d5e7"/><stop offset="0.204" stop-color="#ccddec"/><stop offset="0.247" stop-color="#b7cee3"/><stop offset="0.297" stop-color="#bcd1e5"/><stop offset="0.475" stop-color="#f2f8fb"/><stop offset="0.54" stop-color="#f7fcfd"/><stop offset="0.668" stop-color="#f1f7fa"/><stop offset="0.754" stop-color="#e1ecf4"/><stop offset="0.768" stop-color="#d7e5f0"/><stop offset="0.804" stop-color="#abc5df"/><stop offset="0.825" stop-color="#9bb6d7"/><stop offset="0.854" stop-color="#94a6ce"/><stop offset="0.925" stop-color="#8c8dc2"/><stop offset="0.997" stop-color="#8c79b8"/></linearGradient><linearGradient id="r47" gradientUnits="userSpaceOnUse" x1="333.55" x2="471.55" y1="0" y2="0"><stop offset="0.004" stop-color="#d3e2ef"/><stop offset="0.062" stop-color="#bed2e6"/><stop offset="0.12" stop-color="#bbd0e4"/><stop offset="0.171" stop-color="#c0d4e6"/><stop offset="0.221" stop-color="#abc5df"/><stop offset="0.279" stop-color="#aec7e0"/><stop offset="0.381" stop-color="#cbdceb"/><stop offset="0.439" stop-color="#e3eef5"/><stop offset="0.518" stop-color="#f6fbfd"/><stop offset="0.656" stop-color="#f2f8fb"/><stop offset="0.765" stop-color="#deeaf3"/><stop offset="0.794" stop-color="#cddeec"/><stop offset="0.823" stop-color="#aec7e0"/><stop offset="0.837" stop-color="#9ebcda"/><stop offset="0.852" stop-color="#98aed3"/><stop offset="0.939" stop-color="#8c91c4"/><stop offset="0.997" stop-color="#8c82bc"/></linearGradient><linearGradient id="r48" gradientUnits="userSpaceOnUse" x1="335.55" x2="469.55" y1="0" y2="0"><stop offset="0.004" stop-color="#c2d5e7"/><stop offset="0.049" stop-color="#b2cae1"/><stop offset="0.146" stop-color="#b3cbe2"/><stop offset="0.183" stop-color="#a1bedb"/><stop offset="0.235" stop-color="#9fbcda"/><stop offset="0.325" stop-color="#b0c9e1"/><stop offset="0.504" stop-color="#f2f8fb"/><stop offset="0.534" stop-color="#f5fafc"/><stop offset="0.668" stop-color="#f1f7fa"/><stop offset="0.773" stop-color="#dce9f2"/><stop offset="0.825" stop-color="#c6d8e9"/><stop offset="0.87" stop-color="#9bb6d7"/><stop offset="0.9" stop-color="#93a5ce"/><stop offset="0.974" stop-color="#8c91c4"/><stop offset="0.997" stop-color="#8c8cc1"/></linearGradient><linearGradient id="r49" gradientUnits="userSpaceOnUse" x1="336.55" x2="468.55" y1="0" y2="0"><stop offset="0.004" stop-color="#b3cbe2"/><stop offset="0.042" stop-color="#a9c4de"/><stop offset="0.11" stop-color="#abc5df"/><stop offset="0.148" stop-color="#9cb7d7"/><stop offset="0.186" stop-color="#98b0d3"/><stop offset="0.262" stop-color="#9ab4d6"/><stop offset="0.33" stop-color="#a8c3de"/><stop offset="0.481" stop-color="#e4eef5"/><stop offset="0.512" stop-color="#f3f9fb"/><stop offset="0.671" stop-color="#f1f8fb"/><stop offset="0.762" stop-color="#e0ecf4"/><stop offset="0.853" stop-color="#bcd1e5"/><stop offset="0.891" stop-color="#9cb8d8"/><stop offset="0.913" stop-color="#95a8d0"/><stop offset="0.997" stop-color="#8c94c5"/></linearGradient><linearGradient id="r50" gradientUnits="userSpaceOnUse" x1="337.55" x2="467.55" y1="0" y2="0"><stop offset="0.004" stop-color="#a7c2dd"/><stop offset="0.043" stop-color="#a2bfdb"/><stop offset="0.089" stop-color="#a0bddb"/><stop offset="0.127" stop-color="#96acd2"/><stop offset="0.204" stop-color="#94a7cf"/><stop offset="0.281" stop-color="#98aed3"/><stop offset="0.343" stop-color="#a3bfdc"/><stop offset="0.473" stop-color="#d9e6f1"/><stop offset="0.512" stop-color="#f1f7fa"/><stop offset="0.681" stop-color="#f1f7fa"/><stop offset="0.773" stop-color="#dfebf4"/><stop offset="0.889" stop-color="#aec7e0"/><stop offset="0.92" stop-color="#9bb6d7"/><stop offset="0.95" stop-color="#93a5ce"/><stop offset="0.997" stop-color="#8f9bc9"/></linearGradient><linearGradient id="r51" gradientUnits="userSpaceOnUse" x1="338.55" x2="466.55" y1="0" y2="0"><stop offset="0.004" stop-color="#9fbcda"/><stop offset="0.051" stop-color="#9cb7d7"/><stop offset="0.114" stop-color="#93a5ce"/><stop offset="0.207" stop-color="#91a0cb"/><stop offset="0.309" stop-color="#96acd2"/><stop offset="0.371" stop-color="#a5c1dc"/><stop offset="0.481" stop-color="#d6e4f0"/><stop offset="0.512" stop-color="#eef5f9"/><stop offset="0.676" stop-color="#f2f8fb"/><stop offset="0.778" stop-color="#e2edf5"/><stop offset="0.926" stop-color="#a3bfdc"/><stop offset="0.973" stop-color="#94a7cf"/><stop offset="0.996" stop-color="#92a3cd"/></linearGradient><linearGradient id="r52" gradientUnits="userSpaceOnUse" x1="339.55" x2="465.55" y1="0" y2="0"><stop offset="0.004" stop-color="#9cb7d7"/><stop offset="0.092" stop-color="#91a0cb"/><stop offset="0.203" stop-color="#8e9ac8"/><stop offset="0.314" stop-color="#94a6ce"/><stop offset="0.369" stop-color="#9cb8d8"/><stop offset="0.481" stop-color="#cddeec"/><stop offset="0.512" stop-color="#ebf3f8"/><stop offset="0.679" stop-color="#f3f9fb"/><stop offset="0.766" stop-color="#e8f1f7"/><stop offset="0.822" stop-color="#d8e6f0"/><stop offset="0.949" stop-color="#a0bddb"/><stop offset="0.996" stop-color="#96acd2"/></linearGradient><linearGradient id="r53" gradientUnits="userSpaceOnUse" x1="340.55" x2="464.55" y1="0" y2="0"><stop offset="0.004" stop-color="#96acd2"/><stop offset="0.085" stop-color="#8e9ac8"/><stop offset="0.19" stop-color="#8c94c5"/><stop offset="0.311" stop-color="#91a0cb"/><stop offset="0.375" stop-color="#99b2d5"/><stop offset="0.44" stop-color="#b2cae1"/><stop offset="0.48" stop-color="#c6d8e9"/><stop offset="0.512" stop-color="#e8f1f7"/><stop offset="0.69" stop-color="#f3f9fb"/><stop offset="0.795" stop-color="#e6f0f7"/><stop offset="0.843" stop-color="#d7e5f0"/><stop offset="0.948" stop-color="#a5c1dc"/><stop offset="0.996" stop-color="#9cb7d7"/></linearGradient><linearGradient id="r54" gradientUnits="userSpaceOnUse" x1="341.55" x2="463.55" y1="0" y2="0"><stop offset="0.005" stop-color="#92a3cd"/><stop offset="0.111" stop-color="#8c90c3"/><stop offset="0.201" stop-color="#8c8dc2"/><stop offset="0.308" stop-color="#8f9bc9"/><stop offset="0.382" stop-color="#96acd2"/><stop offset="0.431" stop-color="#a6c2dd"/><stop offset="0.48" stop-color="#c0d4e6"/><stop offset="0.513" stop-color="#e5eff6"/><stop offset="0.685" stop-color="#f3f9fc"/><stop offset="0.791" stop-color="#ebf3f8"/><stop offset="0.849" stop-color="#deeaf3"/><stop offset="0.972" stop-color="#a4c0dc"/><stop offset="0.996" stop-color="#9fbcda"/></linearGradient><linearGradient id="r55" gradientUnits="userSpaceOnUse" x1="343.55" x2="461.55" y1="0" y2="0"><stop offset="0.005" stop-color="#8e9ac8"/><stop offset="0.132" stop-color="#8c86be"/><stop offset="0.217" stop-color="#8c88bf"/><stop offset="0.335" stop-color="#8f9dc9"/><stop offset="0.394" stop-color="#96acd2"/><stop offset="0.445" stop-color="#a7c2dd"/><stop offset="0.479" stop-color="#b9cee4"/><stop offset="0.513" stop-color="#e1edf5"/><stop offset="0.691" stop-color="#f3f9fc"/><stop offset="0.81" stop-color="#ecf4f9"/><stop offset="0.886" stop-color="#dbe8f2"/><stop offset="0.988" stop-color="#abc5df"/><stop offset="0.996" stop-color="#a9c4de"/></linearGradient><linearGradient id="r56" gradientUnits="userSpaceOnUse" x1="344.55" x2="460.55" y1="0" y2="0"><stop offset="0.005" stop-color="#8c93c4"/><stop offset="0.125" stop-color="#8c7eba"/><stop offset="0.22" stop-color="#8c81bc"/><stop offset="0.35" stop-color="#8f9bc9"/><stop offset="0.41" stop-color="#96acd2"/><stop offset="0.453" stop-color="#a4c0dc"/><stop offset="0.479" stop-color="#b2cae1"/><stop offset="0.513" stop-color="#ddeaf3"/><stop offset="0.531" stop-color="#e1edf5"/><stop offset="0.703" stop-color="#f3f9fc"/><stop offset="0.815" stop-color="#eef6fa"/><stop offset="0.901" stop-color="#dfebf4"/><stop offset="0.996" stop-color="#b5cce3"/></linearGradient><linearGradient id="r57" gradientUnits="userSpaceOnUse" x1="345.55" x2="459.55" y1="0" y2="0"><stop offset="0.005" stop-color="#8c8bc0"/><stop offset="0.084" stop-color="#8c7ab8"/><stop offset="0.171" stop-color="#8c76b7"/><stop offset="0.277" stop-color="#8c85be"/><stop offset="0.364" stop-color="#8f9bc9"/><stop offset="0.426" stop-color="#97add2"/><stop offset="0.461" stop-color="#a2bfdb"/><stop offset="0.487" stop-color="#b4cce2"/><stop offset="0.514" stop-color="#d8e6f0"/><stop offset="0.636" stop-color="#edf5f9"/><stop offset="0.724" stop-color="#f3f9fc"/><stop offset="0.847" stop-color="#eef5f9"/><stop offset="0.935" stop-color="#ddeaf3"/><stop offset="0.996" stop-color="#c5d8e9"/></linearGradient><linearGradient id="r58" gradientUnits="userSpaceOnUse" x1="346.55" x2="458.55" y1="0" y2="0"><stop offset="0.005" stop-color="#8c82bc"/><stop offset="0.094" stop-color="#8c72b5"/><stop offset="0.201" stop-color="#8c72b5"/><stop offset="0.3" stop-color="#8c85be"/><stop offset="0.38" stop-color="#8f9bc9"/><stop offset="0.442" stop-color="#98b0d3"/><stop offset="0.478" stop-color="#a7c2dd"/><stop offset="0.496" stop-color="#bcd1e5"/><stop offset="0.514" stop-color="#d2e2ee"/><stop offset="0.675" stop-color="#f1f7fa"/><stop offset="0.835" stop-color="#f1f7fa"/><stop offset="0.942" stop-color="#e3eef5"/><stop offset="0.996" stop-color="#d3e2ef"/></linearGradient><linearGradient id="r59" gradientUnits="userSpaceOnUse" x1="347.55" x2="457.55" y1="0" y2="0"><stop offset="0.005" stop-color="#8c79b8"/><stop offset="0.123" stop-color="#8c66af"/><stop offset="0.196" stop-color="#8c6ab1"/><stop offset="0.305" stop-color="#8c82bc"/><stop offset="0.396" stop-color="#8f9dc9"/><stop offset="0.45" stop-color="#98aed3"/><stop offset="0.478" stop-color="#a1bedb"/><stop offset="0.514" stop-color="#ccddec"/><stop offset="0.669" stop-color="#eff6fa"/><stop offset="0.76" stop-color="#f3f9fc"/><stop offset="0.905" stop-color="#eef5f9"/><stop offset="0.996" stop-color="#e0ecf4"/></linearGradient><linearGradient id="r60" gradientUnits="userSpaceOnUse" x1="348.55" x2="456.55" y1="0" y2="0"><stop offset="0.005" stop-color="#8c71b4"/><stop offset="0.107" stop-color="#8a5aa9"/><stop offset="0.162" stop-color="#8b5caa"/><stop offset="0.274" stop-color="#8c75b6"/><stop offset="0.394" stop-color="#8d99c8"/><stop offset="0.459" stop-color="#98aed3"/><stop offset="0.477" stop-color="#9db9d9"/><stop offset="0.514" stop-color="#c7d9e9"/><stop offset="0.57" stop-color="#d3e2ef"/><stop offset="0.635" stop-color="#e8f1f7"/><stop offset="0.718" stop-color="#f3f9fb"/><stop offset="0.903" stop-color="#f0f7fa"/><stop offset="0.996" stop-color="#e7f1f7"/></linearGradient><linearGradient id="r61" gradientUnits="userSpaceOnUse" x1="349.55" x2="455.55" y1="0" y2="0"><stop offset="0.005" stop-color="#8c68af"/><stop offset="0.081" stop-color="#8a51a5"/><stop offset="0.137" stop-color="#894ca2"/><stop offset="0.203" stop-color="#8a59a8"/><stop offset="0.401" stop-color="#8d99c8"/><stop offset="0.467" stop-color="#98aed3"/><stop offset="0.486" stop-color="#a0bddb"/><stop offset="0.505" stop-color="#b9cee4"/><stop offset="0.524" stop-color="#c4d7e8"/><stop offset="0.581" stop-color="#d2e2ee"/><stop offset="0.637" stop-color="#e7f1f7"/><stop offset="0.722" stop-color="#f3f9fb"/><stop offset="0.958" stop-color="#eff6fa"/><stop offset="0.996" stop-color="#ecf4f9"/></linearGradient><linearGradient id="r62" gradientUnits="userSpaceOnUse" x1="351.55" x2="453.55" y1="0" y2="0"><stop offset="0.005" stop-color="#8a56a7"/><stop offset="0.084" stop-color="#88409c"/><stop offset="0.133" stop-color="#88409c"/><stop offset="0.201" stop-color="#8a51a5"/><stop offset="0.3" stop-color="#8c76b7"/><stop offset="0.417" stop-color="#8f9bc9"/><stop offset="0.466" stop-color="#96abd1"/><stop offset="0.486" stop-color="#9db9d9"/><stop offset="0.515" stop-color="#bcd1e5"/><stop offset="0.574" stop-color="#cbdceb"/><stop offset="0.633" stop-color="#e3eef5"/><stop offset="0.711" stop-color="#f1f7fa"/><stop offset="0.976" stop-color="#f1f7fa"/><stop offset="0.996" stop-color="#f0f7fa"/></linearGradient><linearGradient id="r63" gradientUnits="userSpaceOnUse" x1="352.55" x2="452.55" y1="0" y2="0"><stop offset="0.005" stop-color="#8948a0"/><stop offset="0.075" stop-color="#863092"/><stop offset="0.135" stop-color="#863293"/><stop offset="0.175" stop-color="#883e9b"/><stop offset="0.305" stop-color="#8c75b6"/><stop offset="0.425" stop-color="#8f9bc9"/><stop offset="0.475" stop-color="#97add2"/><stop offset="0.495" stop-color="#a3bfdc"/><stop offset="0.515" stop-color="#b5cce3"/><stop offset="0.586" stop-color="#cbdceb"/><stop offset="0.635" stop-color="#e2edf5"/><stop offset="0.716" stop-color="#f1f7fa"/><stop offset="0.995" stop-color="#f1f8fb"/></linearGradient><linearGradient id="r64" gradientUnits="userSpaceOnUse" x1="353.55" x2="451.55" y1="0" y2="0"><stop offset="0.006" stop-color="#873897"/><stop offset="0.067" stop-color="#842289"/><stop offset="0.118" stop-color="#842289"/><stop offset="0.179" stop-color="#873696"/><stop offset="0.291" stop-color="#8c6eb3"/><stop offset="0.424" stop-color="#8e9ac8"/><stop offset="0.475" stop-color="#96abd1"/><stop offset="0.495" stop-color="#9fbcda"/><stop offset="0.516" stop-color="#b0c9e1"/><stop offset="0.587" stop-color="#c8daea"/><stop offset="0.648" stop-color="#e4eef5"/><stop offset="0.74" stop-color="#f2f8fb"/><stop offset="0.995" stop-color="#f2f8fb"/></linearGradient><linearGradient id="r65" gradientUnits="userSpaceOnUse" x1="354.55" x2="450.55" y1="0" y2="0"><stop offset="0.006" stop-color="#85288d"/><stop offset="0.058" stop-color="#821781"/><stop offset="0.11" stop-color="#821580"/><stop offset="0.162" stop-color="#84258b"/><stop offset="0.266" stop-color="#8b60ac"/><stop offset="0.391" stop-color="#8c8fc2"/><stop offset="0.474" stop-color="#95a8d0"/><stop offset="0.495" stop-color="#9db9d9"/><stop offset="0.516" stop-color="#acc6df"/><stop offset="0.568" stop-color="#bbd0e4"/><stop offset="0.652" stop-color="#e2edf5"/><stop offset="0.724" stop-color="#f0f7fa"/><stop offset="0.995" stop-color="#f3f9fb"/></linearGradient><linearGradient id="r66" gradientUnits="userSpaceOnUse" x1="355.55" x2="449.55" y1="0" y2="0"><stop offset="0.006" stop-color="#831a83"/><stop offset="0.038" stop-color="#810f7c"/><stop offset="0.08" stop-color="#7c0e78"/><stop offset="0.123" stop-color="#81117d"/><stop offset="0.176" stop-color="#84278c"/><stop offset="0.229" stop-color="#8948a0"/><stop offset="0.304" stop-color="#8c70b3"/><stop offset="0.431" stop-color="#8e9ac8"/><stop offset="0.485" stop-color="#97add2"/><stop offset="0.506" stop-color="#a1bedb"/><stop offset="0.58" stop-color="#bcd1e5"/><stop offset="0.655" stop-color="#e1edf5"/><stop offset="0.74" stop-color="#f1f7fa"/><stop offset="0.995" stop-color="#f3f9fb"/></linearGradient><linearGradient id="r67" gradientUnits="userSpaceOnUse" x1="356.55" x2="448.55" y1="0" y2="0"><stop offset="0.006" stop-color="#810f7c"/><stop offset="0.049" stop-color="#760c71"/><stop offset="0.104" stop-color="#790d75"/><stop offset="0.147" stop-color="#821580"/><stop offset="0.245" stop-color="#8950a4"/><stop offset="0.289" stop-color="#8c69b0"/><stop offset="0.43" stop-color="#8d99c8"/><stop offset="0.484" stop-color="#96acd2"/><stop offset="0.506" stop-color="#9ebcda"/><stop offset="0.571" stop-color="#b3cbe2"/><stop offset="0.669" stop-color="#e4eef5"/><stop offset="0.756" stop-color="#f1f8fb"/><stop offset="0.995" stop-color="#f3f9fb"/></linearGradient><linearGradient id="r68" gradientUnits="userSpaceOnUse" x1="357.55" x2="447.55" y1="0" y2="0"><stop offset="0.006" stop-color="#790d75"/><stop offset="0.062" stop-color="#710a6d"/><stop offset="0.106" stop-color="#770c73"/><stop offset="0.151" stop-color="#821580"/><stop offset="0.239" stop-color="#894da3"/><stop offset="0.295" stop-color="#8c6cb1"/><stop offset="0.428" stop-color="#8d98c7"/><stop offset="0.484" stop-color="#96abd1"/><stop offset="0.517" stop-color="#a0bddb"/><stop offset="0.573" stop-color="#afc8e0"/><stop offset="0.662" stop-color="#dfebf4"/><stop offset="0.728" stop-color="#eef5f9"/><stop offset="0.906" stop-color="#f3f9fb"/><stop offset="0.995" stop-color="#f3f9fb"/></linearGradient><linearGradient id="r69" gradientUnits="userSpaceOnUse" x1="359.55" x2="445.55" y1="0" y2="0"><stop offset="0.006" stop-color="#710a6d"/><stop offset="0.065" stop-color="#710a6d"/><stop offset="0.123" stop-color="#810f7c"/><stop offset="0.192" stop-color="#873696"/><stop offset="0.262" stop-color="#8b61ac"/><stop offset="0.309" stop-color="#8c74b5"/><stop offset="0.437" stop-color="#8f9bc9"/><stop offset="0.53" stop-color="#9fbcda"/><stop offset="0.576" stop-color="#adc7e0"/><stop offset="0.669" stop-color="#deeaf3"/><stop offset="0.727" stop-color="#ecf4f9"/><stop offset="0.855" stop-color="#f3f9fb"/><stop offset="0.995" stop-color="#f3f9fb"/></linearGradient>
<linearGradient id="cb" x1="0" x2="1" y1="0" y2="0"><stop offset="0.00" stop-color="#e5eff6"/><stop offset="0.10" stop-color="#d4e3ef"/><stop offset="0.20" stop-color="#c2d5e7"/><stop offset="0.30" stop-color="#afc8e0"/><stop offset="0.40" stop-color="#9dbad9"/><stop offset="0.50" stop-color="#93a5ce"/><stop offset="0.60" stop-color="#8c8fc2"/><stop offset="0.70" stop-color="#8c76b7"/><stop offset="0.80" stop-color="#8b60ac"/><stop offset="0.90" stop-color="#8948a0"/><stop offset="1.00" stop-color="#852d90"/></linearGradient></defs>
<rect width="483" height="685" fill="#fff"/>
<path d="M223.6 4.7 V399.7 M308.1 4.7 V399.7" stroke="#111" stroke-width="1.1" fill="none"/>
<line x1="54.7" x2="454.3" y1="355.7" y2="355.7" stroke="#000" stroke-width="1.3"/>
<rect x="54.7" y="351.1" width="399.6" height="9.2" fill="#ff4500" fill-opacity="0.5"/>
<path d="M54.7 355.7 h6.0 M454.3 355.7 h-6.0 M54.7 311.8 h3.2 M454.3 311.8 h-3.2 M54.7 267.9 h6.0 M454.3 267.9 h-6.0 M54.7 224.1 h3.2 M454.3 224.1 h-3.2 M54.7 180.2 h6.0 M454.3 180.2 h-6.0 M54.7 136.3 h3.2 M454.3 136.3 h-3.2 M54.7 92.4 h6.0 M454.3 92.4 h-6.0 M54.7 48.6 h3.2 M454.3 48.6 h-3.2 M223.6 399.7 v-6 M308.1 399.7 v-6" stroke="#000" stroke-width="1.2" fill="none"/>
<g fill="none" stroke-width="3.3" stroke-linecap="butt" stroke-linejoin="round">
<path d="M54.7 312.9L56.2 312.9 57.7 312.9 59.2 313.0 60.7 313.1 62.2 313.2 63.7 313.3 65.2 313.4 66.7 313.6 68.2 313.9 69.6 314.1 71.1 314.5 72.6 314.8 74.1 315.3 75.6 315.7 77.1 316.3 78.6 316.9 80.1 317.7 81.6 318.5 83.1 319.3 84.6 320.3 86.1 321.4 87.6 322.5 89.1 323.6 90.6 324.8 92.1 326.1 93.6 327.4 95.1 328.8 96.6 330.3 98.0 331.8 99.5 333.3 101.0 335.0 102.5 336.6 104.0 338.3 105.5 340.0 107.0 341.8 108.5 343.5 110.0 345.1 111.5 346.8 113.0 348.4 114.5 349.9 116.0 351.5 117.5 353.0 119.0 354.5 120.5 356.0 122.0 357.4 123.5 358.8 125.0 360.2 126.4 361.5 127.9 362.8 129.4 364.0 130.9 365.0 132.4 366.0 133.9 366.9 135.4 367.8 136.9 368.5 138.4 369.1 139.9 369.7 141.4 370.1 142.9 370.5 144.4 370.8 145.9 371.0 147.4 371.1 148.9 371.1 150.4 371.0 151.9 370.8 153.3 370.6 154.8 370.2 156.3 369.7 157.8 369.0 159.3 368.3 160.8 367.4 162.3 366.4 163.8 365.2 165.3 363.9 166.8 362.4 168.3 360.9 169.8 359.3 171.3 357.6 172.8 355.8 174.3 354.0 175.8 352.2 177.3 350.3 178.8 348.5 180.3 346.5 181.7 344.6 183.2 342.7 184.7 340.7 186.2 338.7 187.7 336.6 189.2 334.6 190.7 332.5 192.2 330.5 193.7 328.5 195.2 326.5 196.7 324.6 198.2 322.8 199.7 321.1 201.2 319.5 202.7 318.1 204.2 316.7 205.7 315.5 207.2 314.3 208.7 313.3 210.1 312.3 211.6 311.4 213.1 310.5 214.6 309.8 216.1 309.1 217.6 308.5 219.1 308.0 220.6 307.7 222.1 307.5 223.6 307.4" stroke="#b40426"/>
<path d="M223.6 307.4L225.1 307.5 226.6 307.7 228.1 308.1 229.6 308.5 231.1 309.2 232.7 309.9 234.2 310.7 235.7 311.6 237.2 312.5 238.7 313.5 240.2 314.6 241.7 315.8 243.2 317.0 244.7 318.2 246.2 319.5 247.7 320.8 249.3 322.2 250.8 323.5 252.3 324.9 253.8 326.4 255.3 327.9 256.8 329.4 258.3 330.9 259.8 332.5 261.3 334.2 262.8 335.9 264.3 337.6 265.9 339.4 267.4 341.2 268.9 343.0 270.4 344.9 271.9 346.8 273.4 348.6 274.9 350.5 276.4 352.3 277.9 354.1 279.4 355.9 280.9 357.7 282.4 359.4 284.0 361.1 285.5 362.7 287.0 364.3 288.5 365.8 290.0 367.3 291.5 368.7 293.0 370.0 294.5 371.2 296.0 372.3 297.5 373.3 299.0 374.2 300.6 374.9 302.1 375.5 303.6 376.0 305.1 376.3 306.6 376.4 308.1 376.5" stroke="#b40426"/>
<path d="M54.7 312.9L56.2 312.9 57.7 312.9 59.2 313.0 60.7 313.1 62.2 313.2 63.7 313.3 65.2 313.5 66.7 313.7 68.2 313.9 69.6 314.2 71.1 314.6 72.6 315.0 74.1 315.4 75.6 316.0 77.1 316.5 78.6 317.2 80.1 318.0 81.6 318.8 83.1 319.7 84.6 320.7 86.1 321.8 87.6 323.0 89.1 324.2 90.6 325.5 92.1 326.8 93.6 328.2 95.1 329.7 96.6 331.3 98.0 332.9 99.5 334.5 101.0 336.2 102.5 338.0 104.0 339.8 105.5 341.6 107.0 343.4 108.5 345.3 110.0 347.1 111.5 348.9 113.0 350.7 114.5 352.5 116.0 354.2 117.5 355.9 119.0 357.6 120.5 359.3 122.0 360.9 123.5 362.5 125.0 364.0 126.4 365.5 127.9 366.9 129.4 368.2 130.9 369.5 132.4 370.7 133.9 371.9 135.4 372.9 136.9 373.8 138.4 374.7 139.9 375.4 141.4 376.1 142.9 376.6 144.4 377.1 145.9 377.4 147.4 377.6 148.9 377.7 150.4 377.7 151.9 377.5 153.3 377.3 154.8 377.0 156.3 376.5 157.8 376.0 159.3 375.4 160.8 374.7 162.3 373.9 163.8 372.9 165.3 371.7 166.8 370.3 168.3 368.8 169.8 367.1 171.3 365.2 172.8 363.4 174.3 361.5 175.8 359.6 177.3 357.8 178.8 355.9 180.3 354.2 181.7 352.4 183.2 350.6 184.7 348.9 186.2 347.2 187.7 345.4 189.2 343.6 190.7 341.9 192.2 340.2 193.7 338.4 195.2 336.8 196.7 335.2 198.2 333.7 199.7 332.2 201.2 330.9 202.7 329.6 204.2 328.4 205.7 327.3 207.2 326.3 208.7 325.4 210.1 324.5 211.6 323.7 213.1 323.0 214.6 322.3 216.1 321.8 217.6 321.3 219.1 320.8 220.6 320.6 222.1 320.4 223.6 320.3" stroke="#3b4cc0"/>
<path d="M223.6 320.3L225.1 320.4 226.6 320.6 228.1 320.9 229.6 321.4 231.1 321.9 232.7 322.5 234.2 323.3 235.7 324.1 237.2 324.9 238.7 325.8 240.2 326.8 241.7 327.8 243.2 328.8 244.7 329.9 246.2 331.0 247.7 332.2 249.3 333.4 250.8 334.6 252.3 335.9 253.8 337.2 255.3 338.5 256.8 339.9 258.3 341.3 259.8 342.7 261.3 344.2 262.8 345.8 264.3 347.3 265.9 348.9 267.4 350.5 268.9 352.1 270.4 353.8 271.9 355.3 273.4 356.9 274.9 358.5 276.4 359.9 277.9 361.4 279.4 362.8 280.9 364.1 282.4 365.3 284.0 366.5 285.5 367.7 287.0 368.8 288.5 369.9 290.0 370.9 291.5 371.9 293.0 372.8 294.5 373.6 296.0 374.4 297.5 375.0 299.0 375.5 300.6 375.9 302.1 376.2 303.6 376.4 305.1 376.5 306.6 376.5 308.1 376.5" stroke="#3b4cc0"/>
<path d="M308.1 376.5L309.6 376.6 311.1 376.8 312.6 377.1 314.1 377.6 315.6 378.1 317.1 378.8 318.7 379.6 320.2 380.4 321.7 381.2 323.2 382.1 324.7 383.0 326.2 383.9 327.7 384.8 329.2 385.6 330.7 386.5 332.2 387.2 333.7 388.0 335.2 388.7 336.7 389.4 338.2 390.1 339.8 390.7 341.3 391.4 342.8 391.9 344.3 392.5 345.8 392.9 347.3 393.3 348.8 393.6 350.3 393.8 351.8 393.9 353.3 393.9 354.8 393.7 356.3 393.5 357.8 393.1 359.3 392.5 360.9 391.9 362.4 391.0 363.9 390.1 365.4 389.0 366.9 387.7 368.4 386.3 369.9 384.8 371.4 383.1 372.9 381.4 374.4 379.5 375.9 377.5 377.4 375.5 378.9 373.4 380.4 371.3 382.0 369.1 383.5 366.8 385.0 364.5 386.5 362.2 388.0 359.8 389.5 357.4 391.0 355.1 392.5 352.7 394.0 350.3 395.5 348.0 397.0 345.7 398.5 343.4 400.0 341.3 401.5 339.1 403.1 337.1 404.6 335.2 406.1 333.4 407.6 331.7 409.1 330.0 410.6 328.4 412.1 327.0 413.6 325.6 415.1 324.3 416.6 323.1 418.1 321.9 419.6 320.9 421.1 319.9 422.6 319.0 424.2 318.1 425.7 317.4 427.2 316.7 428.7 316.1 430.2 315.6 431.7 315.1 433.2 314.7 434.7 314.4 436.2 314.1 437.7 313.8 439.2 313.6 440.7 313.4 442.2 313.3 443.7 313.2 445.3 313.1 446.8 313.0 448.3 313.0 449.8 312.9 451.3 312.9 452.8 312.9 454.3 312.9" stroke="#9400d3"/>
<path d="M54.7 89.8L56.2 89.9 57.7 90.0 59.2 90.4 60.7 90.9 62.2 91.6 63.7 92.5 65.2 93.7 66.7 95.1 68.2 96.6 69.7 98.4 71.2 100.2 72.7 102.2 74.2 104.2 75.8 106.2 77.3 108.2 78.8 110.2 80.3 112.3 81.8 114.5 83.3 116.7 84.8 119.1 86.3 121.6 87.8 124.0 89.3 126.5 90.8 129.0 92.3 131.4 93.8 133.7 95.3 136.1 96.8 138.3 98.3 140.6 99.8 142.8 101.3 145.1 102.8 147.3 104.3 149.6 105.8 151.8 107.3 154.0 108.8 156.1 110.3 158.2 111.8 160.2 113.3 162.1 114.8 163.9 116.3 165.7 117.9 167.3 119.4 168.9 120.9 170.4 122.4 171.7 123.9 173.0 125.4 174.2 126.9 175.3 128.4 176.3 129.9 177.2 131.4 178.0 132.9 178.7 134.4 179.2 135.9 179.7 137.4 180.0 138.9 180.2 140.4 180.2 141.9 180.1 143.4 179.9 144.9 179.6 146.4 179.2 147.9 178.7 149.4 178.0 150.9 177.3 152.4 176.4 153.9 175.5 155.4 174.5 156.9 173.4 158.5 172.2 160.0 170.9 161.5 169.6 163.0 168.3 164.5 166.9 166.0 165.5 167.5 164.1 169.0 162.7 170.5 161.4 172.0 160.1 173.5 158.9 175.0 157.8 176.5 156.9 178.0 156.3" stroke="#b40426"/>
<path d="M54.7 89.8L56.2 89.9 57.7 90.1 59.2 90.4 60.7 90.9 62.2 91.6 63.7 92.4 65.2 93.3 66.7 94.5 68.2 95.7 69.7 97.1 71.2 98.7 72.7 100.3 74.2 102.0 75.8 103.7 77.3 105.5 78.8 107.3 80.3 109.1 81.8 110.9 83.3 112.8 84.8 114.6 86.3 116.4 87.8 118.2 89.3 120.0 90.8 121.8 92.3 123.5 93.8 125.3 95.3 127.2 96.8 129.2 98.3 131.2 99.8 133.2 101.3 135.1 102.8 136.9 104.3 138.6 105.8 140.4 107.3 142.1 108.8 143.9 110.3 145.8 111.8 147.7 113.3 149.5 114.8 151.4 116.3 153.1 117.9 154.8 119.4 156.5 120.9 158.0 122.4 159.5 123.9 160.9 125.4 162.3 126.9 163.6 128.4 164.8 129.9 165.9 131.4 166.9 132.9 167.7 134.4 168.5 135.9 169.1 137.4 169.6 138.9 169.9 140.4 170.1 141.9 170.2 143.4 170.2 144.9 170.0 146.4 169.8 147.9 169.4 149.4 169.0 150.9 168.5 152.4 167.9 153.9 167.3 155.4 166.6 156.9 165.9 158.5 165.2 160.0 164.5 161.5 163.8 163.0 163.0 164.5 162.3 166.0 161.6 167.5 160.8 169.0 160.1 170.5 159.4 172.0 158.6 173.5 157.9 175.0 157.3 176.5 156.8 178.0 156.4" stroke="#3b4cc0"/>
<path d="M177.5 156.5L179.0 156.2 180.5 156.2 182.0 156.4 183.4 156.8 184.9 157.4 186.4 158.2 187.9 159.1 189.4 160.2 190.9 161.4 192.4 162.7 193.9 164.1 195.3 165.5 196.8 167.0 198.3 168.5 199.8 170.1 201.3 171.6 202.8 173.1 204.3 174.6 205.8 175.9 207.2 177.3 208.7 178.5 210.2 179.6 211.7 180.5 213.2 181.4 214.7 182.2 216.2 182.8 217.7 183.4 219.1 183.8 220.6 184.1 222.1 184.2 223.6 184.3" stroke="#3b4cc0"/>
<path d="M177.5 156.5L179.0 156.1 180.5 155.9 182.0 156.0 183.4 156.3 184.9 156.8 186.4 157.5 187.9 158.4 189.4 159.5 190.9 160.6 192.4 161.9 193.9 163.3 195.3 164.7 196.8 166.2 198.3 167.7 199.8 169.3 201.3 170.8 202.8 172.3 204.3 173.8 205.8 175.2 207.2 176.5 208.7 177.8 210.2 178.9 211.7 180.0 213.2 180.9 214.7 181.8 216.2 182.5 217.7 183.1 219.1 183.6 220.6 184.0 222.1 184.2 223.6 184.3" stroke="#b40426"/>
<path d="M223.6 184.3L225.1 184.2 226.6 183.9 228.1 183.4 229.6 182.7 231.1 181.8 232.7 180.8 234.2 179.5 235.7 178.1 237.2 176.6 238.7 175.0 240.2 173.3 241.7 171.5 243.2 169.7 244.7 167.8 246.2 165.9 247.7 163.8 249.3 161.6 250.8 159.3 252.3 157.0 253.8 154.7 255.3 152.4 256.8 150.2 258.3 148.2 259.8 146.1 261.3 144.1 262.8 142.1 264.3 140.0 265.9 137.8 267.4 135.7 268.9 133.5 270.4 131.3 271.9 129.2 273.4 127.1 274.9 125.2 276.4 123.5 277.9 122.0 279.4 121.1 280.9 120.7 282.4 121.0 284.0 121.6 285.5 122.5 287.0 123.3 288.5 124.0 290.0 124.6 291.5 125.1 293.0 125.5 294.5 126.0 296.0 126.3 297.5 126.6 299.0 126.8 300.6 126.8 302.1 126.7 303.6 126.6 305.1 126.5 306.6 126.4 308.1 126.3" stroke="#b40426"/>
<path d="M223.6 184.3L225.1 184.2 226.6 184.0 228.1 183.7 229.6 183.1 231.1 182.4 232.7 181.5 234.2 180.3 235.7 179.1 237.2 177.6 238.7 176.1 240.2 174.5 241.7 172.8 243.2 171.0 244.7 169.2 246.2 167.3 247.7 165.3 249.3 163.1 250.8 160.9 252.3 158.6 253.8 156.4 255.3 154.2 256.8 152.1 258.3 150.1 259.8 148.1 261.3 146.2 262.8 144.2 264.3 142.2 265.9 140.1 267.4 137.9 268.9 135.8 270.4 133.6 271.9 131.5 273.4 129.4 274.9 127.5 276.4 125.7 277.9 124.1 279.4 122.8 280.9 121.8 282.4 121.3 284.0 121.1 285.5 121.1 287.0 121.3 288.5 121.6 290.0 122.0 291.5 122.4 293.0 122.9 294.5 123.3 296.0 123.8 297.5 124.3 299.0 124.7 300.6 125.1 302.1 125.5 303.6 125.8 305.1 126.1 306.6 126.2 308.1 126.3" stroke="#3b4cc0"/>
<path d="M54.7 76.1L56.2 76.1 57.7 76.3 59.2 76.6 60.7 77.0 62.2 77.6 63.7 78.4 65.2 79.4 66.7 80.7 68.2 82.2 69.7 83.8 71.2 85.6 72.7 87.5 74.2 89.4 75.7 91.4 77.2 93.4 78.7 95.5 80.1 97.7 81.6 99.9 83.1 102.3 84.6 104.6 86.1 107.1 87.6 109.5 89.1 112.0 90.6 114.4 92.1 116.8 93.6 119.1 95.1 121.5 96.6 123.8 98.1 126.1 99.6 128.2 101.1 130.2 102.6 131.9 104.1 133.3 105.6 134.4 107.1 135.2 108.6 135.8 110.1 136.2 111.6 136.5 113.1 136.7 114.6 136.7 116.1 136.7 117.6 136.6 119.1 136.3 120.6 136.0 122.1 135.6 123.6 135.1 125.1 134.6 126.6 134.0 128.1 133.4 129.6 132.7 131.0 131.9 132.5 131.1 134.0 130.1 135.5 129.1 137.0 128.0 138.5 126.8 140.0 125.6 141.5 124.4 143.0 123.2 144.5 122.0 146.0 120.8 147.5 119.7 149.0 118.5 150.5 117.3 152.0 116.1 153.5 114.9 155.0 113.6" stroke="#3b4cc0"/>
<path d="M54.7 76.1L56.2 76.1 57.7 76.2 59.2 76.4 60.7 76.7 62.2 77.2 63.7 77.9 65.2 78.8 66.7 79.9 68.2 81.3 69.7 82.8 71.2 84.5 72.7 86.2 74.2 88.1 75.7 89.9 77.2 91.8 78.7 93.7 80.1 95.7 81.6 97.7 83.1 99.7 84.6 101.8 86.1 103.9 87.6 106.1 89.1 108.1 90.6 110.2 92.1 112.1 93.6 114.0 95.1 115.8 96.6 117.4 98.1 119.0 99.6 120.4 101.1 121.7 102.6 122.8 104.1 123.8 105.6 124.6 107.1 125.3 108.6 125.9 110.1 126.4 111.6 126.8 113.1 127.1 114.6 127.4 116.1 127.5 117.6 127.6 119.1 127.6 120.6 127.5 122.1 127.4 123.6 127.1 125.1 126.8 126.6 126.4 128.1 126.0 129.6 125.6 131.0 125.1 132.5 124.6 134.0 124.0 135.5 123.4 137.0 122.7 138.5 122.0 140.0 121.3 141.5 120.6 143.0 119.8 144.5 119.1 146.0 118.3 147.5 117.6 149.0 116.8 150.5 116.0 152.0 115.3 153.5 114.5 155.0 113.8" stroke="#b40426"/>
<path d="M154.5 114.0L156.0 113.3 157.5 112.5 159.0 111.8 160.5 111.2 162.0 110.5 163.5 109.8 165.0 109.2 166.5 108.4 168.0 107.6 169.5 106.8 171.0 105.8 172.5 104.7 174.0 103.6 175.5 102.3 177.0 100.9 178.5 99.5 180.0 98.0 181.5 96.4 183.0 94.7 184.5 92.9 186.0 91.0 187.5 88.9 189.1 86.8 190.6 84.5 192.1 82.1 193.6 79.6 195.1 77.2 196.6 74.7 198.1 72.2 199.6 69.8 201.1 67.5 202.6 65.3 204.1 63.3 205.6 61.5 207.1 59.8 208.6 58.3 210.1 56.9 211.6 55.6 213.1 54.5 214.6 53.4 216.1 52.5 217.6 51.8 219.1 51.2 220.6 50.7 222.1 50.4 223.6 50.3" stroke="#b40426"/>
<path d="M154.5 114.0L156.0 112.7 157.5 111.3 159.0 109.8 160.5 108.3 162.0 106.8 163.5 105.3 165.0 103.8 166.5 102.3 168.0 100.7 169.5 99.2 171.0 97.6 172.5 95.9 174.0 94.3 175.5 92.5 177.0 90.6 178.5 88.7 180.0 86.7 181.5 84.5 183.0 82.3 184.5 80.1 186.0 77.7 187.5 75.3 189.1 72.9 190.6 70.4 192.1 67.9 193.6 65.3 195.1 62.8 196.6 60.3 198.1 57.9 199.6 55.6 201.1 53.4 202.6 51.4 204.1 49.5 205.6 47.7 207.1 46.1 208.6 44.6 210.1 43.3 211.6 42.1 213.1 40.9 214.6 39.9 216.1 39.1 217.6 38.3 219.1 37.7 220.6 37.2 222.1 36.9 223.6 36.8" stroke="#3b4cc0"/>
<path d="M223.6 50.3L225.1 50.4 226.6 50.7 228.1 51.2 229.6 51.9 231.1 52.9 232.7 54.2 234.2 55.7 235.7 57.4 237.2 59.3 238.7 61.3 240.2 63.5 241.7 65.7 243.2 68.0 244.7 70.3 246.2 72.7 247.7 75.2 249.3 77.6 250.8 80.1 252.3 82.7 253.8 85.2 255.3 87.7 256.8 90.2 258.3 92.6 259.8 94.9 261.3 97.2 262.8 99.3 264.3 101.4 265.9 103.3 267.4 105.1 268.9 106.8 270.4 108.4 271.9 109.8 273.4 111.0 274.9 112.2 276.4 113.1 277.9 113.9 279.4 114.3 280.9 114.1 282.4 113.3 284.0 112.1 285.5 110.9 287.0 109.5 288.5 108.1 290.0 106.8 291.5 105.6 293.0 104.5 294.5 103.5 296.0 102.6 297.5 101.8 299.0 101.2 300.6 100.6 302.1 100.2 303.6 99.8 305.1 99.6 306.6 99.4 308.1 99.4" stroke="#b40426"/>
<path d="M223.6 36.8L225.1 36.9 226.6 37.3 228.1 37.9 229.6 38.8 231.1 39.9 232.7 41.1 234.2 42.6 235.7 44.2 237.2 46.0 238.7 47.9 240.2 50.0 241.7 52.2 243.2 54.4 244.7 56.8 246.2 59.2 247.7 61.7 249.3 64.2 250.8 66.7 252.3 69.3 253.8 71.8 255.3 74.2 256.8 76.7 258.3 79.1 259.8 81.4 261.3 83.7 262.8 85.9 264.3 88.0 265.9 90.0 267.4 91.9 268.9 93.8 270.4 95.6 271.9 97.4 273.4 99.1 274.9 100.7 276.4 102.2 277.9 103.5 279.4 104.6 280.9 105.4 282.4 105.9 284.0 106.2 285.5 106.1 287.0 105.8 288.5 105.3 290.0 104.7 291.5 104.0 293.0 103.3 294.5 102.5 296.0 101.9 297.5 101.2 299.0 100.7 300.6 100.3 302.1 99.9 303.6 99.7 305.1 99.5 306.6 99.4 308.1 99.4" stroke="#3b4cc0"/>
<path d="M308.1 99.4L309.6 99.4 311.1 99.4 312.6 99.3 314.1 99.3 315.6 99.2 317.1 99.2 318.7 99.2 320.2 99.2 321.7 99.2 323.2 99.3 324.7 99.4 326.2 99.5 327.7 99.7 329.2 99.9 330.7 100.1 332.2 100.4 333.7 100.7 335.2 101.1 336.7 101.5 338.2 102.0 339.8 102.5 341.3 103.1 342.8 103.8 344.3 104.5 345.8 105.3 347.3 106.2 348.8 107.1 350.3 108.1 351.8 109.1 353.3 110.2 354.8 111.3 356.3 112.4 357.8 113.6 359.3 114.7 360.9 115.9 362.4 117.0 363.9 118.2 365.4 119.3 366.9 120.4 368.4 121.5 369.9 122.5 371.4 123.5 372.9 124.4 374.4 125.3 375.9 126.1 377.4 126.8 378.9 127.5 380.4 128.1 382.0 128.6 383.5 129.0 385.0 129.4 386.5 129.7 388.0 129.9 389.5 130.0 391.0 130.1 392.5 130.1 394.0 130.0 395.5 129.9 397.0 129.7 398.5 129.3 400.0 128.8 401.5 128.1 403.1 127.2 404.6 126.2 406.1 125.0 407.6 123.6 409.1 122.0 410.6 120.4 412.1 118.6 413.6 116.6 415.1 114.6 416.6 112.6 418.1 110.4 419.6 108.3 421.1 106.1 422.6 103.9 424.2 101.8 425.7 99.7 427.2 97.7 428.7 95.7 430.2 93.8 431.7 92.0 433.2 90.2 434.7 88.5 436.2 86.9 437.7 85.3 439.2 83.8 440.7 82.3 442.2 81.0 443.7 79.8 445.3 78.7 446.8 77.9 448.3 77.2 449.8 76.7 451.3 76.3 452.8 76.2 454.3 76.1" stroke="#9400d3"/>
<path d="M308.1 126.3L309.6 126.4 311.1 126.6 312.6 126.9 314.1 127.4 315.6 128.1 317.1 128.9 318.7 129.8 320.2 130.9 321.7 132.1 323.2 133.5 324.7 134.9 326.2 136.5 327.7 138.1 329.2 139.7 330.7 141.4 332.2 143.1 333.7 144.8 335.2 146.4 336.7 148.0 338.2 149.6 339.8 151.1 341.3 152.6 342.8 153.9 344.3 155.2 345.8 156.5 347.3 157.6 348.8 158.6 350.3 159.6 351.8 160.5 353.3 161.3 354.8 162.0 356.3 162.7 357.8 163.3 359.3 163.8 360.9 164.3 362.4 164.8 363.9 165.1 365.4 165.4 366.9 165.7 368.4 165.9 369.9 166.0 371.4 166.0 372.9 166.0 374.4 165.9 375.9 165.7 377.4 165.4 378.9 165.1 380.4 164.7 382.0 164.1 383.5 163.5 385.0 162.8 386.5 161.9 388.0 160.9 389.5 159.8 391.0 158.6 392.5 157.3 394.0 155.8 395.5 154.1 397.0 152.3 398.5 150.4 400.0 148.4 401.5 146.3 403.1 144.1 404.6 141.9 406.1 139.8 407.6 137.7 409.1 135.8 410.6 133.9 412.1 132.2 413.6 130.5 415.1 128.9 416.6 127.2 418.1 125.4 419.6 123.5 421.1 121.4 422.6 119.2 424.2 116.9 425.7 114.7 427.2 112.4 428.7 110.3 430.2 108.2 431.7 106.2 433.2 104.3 434.7 102.4 436.2 100.7 437.7 99.1 439.2 97.5 440.7 96.1 442.2 94.8 443.7 93.7 445.3 92.6 446.8 91.8 448.3 91.1 449.8 90.5 451.3 90.1 452.8 89.9 454.3 89.8" stroke="#9400d3"/>
</g>
<polygon points="445.5,252.8 399.6,173.3 307.8,173.3 261.9,252.8 307.8,332.3 399.6,332.3" fill="#f4f4f4" stroke="none"/>
<g clip-path="url(#ihex)" fill="none" stroke-width="2.4"><path d="M389.0 252.8L388.9 251.0L388.6 249.1L388.2 247.3L387.6 245.6L387.0 243.9L386.3 242.2L385.6 240.6L384.8 238.9L384.1 237.3L383.3 235.7L382.5 234.1L381.7 232.5L380.8 230.9L379.9 229.2L378.9 227.6L377.8 226.1L376.6 224.6L375.2 223.2L373.8 221.9L372.2 220.8L370.4 220.0L368.6 219.3L366.7 218.9L364.8 218.6L362.9 218.4L361.0 218.4L359.2 218.4L357.3 218.4L355.5 218.5L353.7 218.6L351.9 218.8L350.1 218.9L348.4 219.1L346.6 219.3L344.8 219.5L343.0 219.8L341.2 220.2L339.4 220.7L337.7 221.4L336.0 222.2L334.5 223.2L333.1 224.4L331.7 225.7L330.5 227.0L329.3 228.4L328.2 229.9L327.2 231.3L326.1 232.8L325.1 234.2L324.1 235.7L323.1 237.2L322.1 238.7L321.2 240.3L320.2 241.9L319.3 243.6L318.5 245.3L317.8 247.1L317.3 249.0L316.9 250.9L316.8 252.8L316.9 254.7L317.3 256.6L317.8 258.5L318.5 260.3L319.3 262.0L320.2 263.7L321.2 265.3L322.1 266.9L323.1 268.4L324.1 269.9L325.1 271.4L326.1 272.8L327.2 274.3L328.2 275.7L329.3 277.2L330.5 278.6L331.7 279.9L333.1 281.2L334.5 282.4L336.0 283.4L337.7 284.2L339.4 284.9L341.2 285.4L343.0 285.8L344.8 286.1L346.6 286.3L348.4 286.5L350.1 286.7L351.9 286.8L353.7 287.0L355.5 287.1L357.3 287.2L359.2 287.2L361.0 287.2L362.9 287.2L364.8 287.0L366.7 286.7L368.6 286.3L370.4 285.6L372.2 284.8L373.8 283.7L375.2 282.4L376.6 281.0L377.8 279.5L378.9 278.0L379.9 276.4L380.8 274.7L381.7 273.1L382.5 271.5L383.3 269.9L384.1 268.3L384.8 266.7L385.6 265.0L386.3 263.4L387.0 261.7L387.6 260.0L388.2 258.3L388.6 256.5L388.9 254.6Z" stroke="#4169e1"/><path d="M390.4 252.8L390.3 250.9L389.9 249.0L389.4 247.1L388.7 245.4L387.9 243.6L387.0 242.0L386.1 240.4L385.1 238.8L384.1 237.3L383.1 235.8L382.1 234.4L381.1 232.9L380.1 231.4L379.0 230.0L377.9 228.6L376.8 227.2L375.5 225.8L374.2 224.6L372.8 223.4L371.3 222.4L369.6 221.6L367.9 220.9L366.1 220.4L364.4 220.0L362.6 219.7L360.8 219.5L359.0 219.3L357.2 219.1L355.5 219.0L353.7 218.8L351.9 218.7L350.1 218.6L348.3 218.6L346.4 218.6L344.5 218.6L342.6 218.8L340.8 219.1L338.9 219.5L337.1 220.2L335.3 221.0L333.7 222.1L332.3 223.3L331.0 224.7L329.8 226.2L328.7 227.8L327.7 229.4L326.8 231.0L325.9 232.6L325.1 234.2L324.3 235.8L323.5 237.4L322.8 239.0L322.0 240.6L321.3 242.3L320.6 243.9L320.0 245.6L319.4 247.4L319.0 249.2L318.7 251.0L318.6 252.8L318.7 254.6L319.0 256.4L319.4 258.2L320.0 260.0L320.6 261.7L321.3 263.3L322.0 265.0L322.8 266.6L323.5 268.2L324.3 269.8L325.1 271.4L325.9 273.0L326.8 274.6L327.7 276.2L328.7 277.8L329.8 279.4L331.0 280.9L332.3 282.3L333.7 283.5L335.3 284.6L337.1 285.4L338.9 286.1L340.8 286.5L342.6 286.8L344.5 287.0L346.4 287.0L348.3 287.0L350.1 287.0L351.9 286.9L353.7 286.8L355.5 286.6L357.2 286.5L359.0 286.3L360.8 286.1L362.6 285.9L364.4 285.6L366.1 285.2L367.9 284.7L369.6 284.0L371.3 283.2L372.8 282.2L374.2 281.0L375.5 279.8L376.8 278.4L377.9 277.0L379.0 275.6L380.1 274.2L381.1 272.7L382.1 271.2L383.1 269.8L384.1 268.3L385.1 266.8L386.1 265.2L387.0 263.6L387.9 262.0L388.7 260.2L389.4 258.5L389.9 256.6L390.3 254.7Z" stroke="#c1440e"/><circle cx="461.6" cy="252.8" r="39.4" stroke="#4169e1"/><circle cx="455.9" cy="252.8" r="37.8" stroke="#c1440e"/><circle cx="407.6" cy="159.4" r="39.4" stroke="#c1440e"/><circle cx="404.8" cy="164.3" r="37.8" stroke="#4169e1"/><circle cx="299.8" cy="159.4" r="39.4" stroke="#4169e1"/><circle cx="302.6" cy="164.3" r="37.8" stroke="#c1440e"/><circle cx="245.8" cy="252.8" r="39.4" stroke="#c1440e"/><circle cx="251.5" cy="252.8" r="37.8" stroke="#4169e1"/><circle cx="299.8" cy="346.2" r="39.4" stroke="#4169e1"/><circle cx="302.6" cy="341.3" r="37.8" stroke="#c1440e"/><circle cx="407.6" cy="346.2" r="39.4" stroke="#c1440e"/><circle cx="404.8" cy="341.3" r="37.8" stroke="#4169e1"/></g>
<polygon points="445.5,252.8 399.6,173.3 307.8,173.3 261.9,252.8 307.8,332.3 399.6,332.3" fill="none" stroke="#000" stroke-width="1"/>
<text x="354" y="257.9" font-family='"Liberation Serif", "Times New Roman", serif' font-size="17.6" text-anchor="middle">Γ</text>
<text x="289.2" y="234.4" font-family='"Liberation Sans", Arial, Helvetica, sans-serif' font-size="17.3">K’</text>
<text x="405.9" y="279.7" font-family='"Liberation Sans", Arial, Helvetica, sans-serif' font-size="17.3">K</text>
<rect x="54.7" y="4.7" width="399.6" height="395.0" fill="none" stroke="#000" stroke-width="1.5"/>
<text x="50.4" y="362.1" font-family='"Liberation Sans", Arial, Helvetica, sans-serif' font-size="17" text-anchor="end">0</text>
<text x="50.4" y="274.9" font-family='"Liberation Sans", Arial, Helvetica, sans-serif' font-size="17" text-anchor="end">1</text>
<text x="50.4" y="187.9" font-family='"Liberation Sans", Arial, Helvetica, sans-serif' font-size="17" text-anchor="end">2</text>
<text x="50.4" y="100.8" font-family='"Liberation Sans", Arial, Helvetica, sans-serif' font-size="17" text-anchor="end">3</text>
<text x="56.2" y="415.2" font-family='"Liberation Serif", "Times New Roman", serif' font-size="17.5" text-anchor="middle">Γ</text>
<text x="456.3" y="415.2" font-family='"Liberation Serif", "Times New Roman", serif' font-size="17.5" text-anchor="middle">Γ</text>
<text x="224.3" y="416.3" font-family='"Liberation Sans", Arial, Helvetica, sans-serif' font-size="16.5" text-anchor="middle">K</text>
<text x="308.8" y="416.3" font-family='"Liberation Sans", Arial, Helvetica, sans-serif' font-size="16.5" text-anchor="middle">M</text>
<text transform="translate(21.1,209) rotate(-90)" font-family='"Liberation Sans", Arial, Helvetica, sans-serif' font-size="17" text-anchor="middle">E – E<tspan font-size="10.4" dy="1.8">F</tspan><tspan dy="-1.8"> (eV)</tspan></text>
<text x="11.5" y="13" font-family='"Liberation Sans", Arial, Helvetica, sans-serif' font-size="22.5" font-weight="bold">a</text>
<text x="12.3" y="447" font-family='"Liberation Sans", Arial, Helvetica, sans-serif' font-size="22.5" font-weight="bold">b</text>
<g transform="translate(0.0,0)"><ellipse cx="46.7" cy="463.2" rx="12.3" ry="13" fill="url(#gy)" stroke="#b08a0c" stroke-width="0.7" stroke-opacity="0.75"/><path d="M23.6 460.9 C27 460.7 30.5 461.8 31.3 463.8 C29.6 468 29.3 486 31.6 490.2 C30.5 492.4 27.5 493.3 24.6 493.1 C17 492.6 12.5 485.5 12.5 476.6 C12.5 468 17 461.3 23.6 460.9Z" fill="url(#gc)" stroke="#1a86b4" stroke-width="0.7" stroke-opacity="0.75"/><path d="M68.3 462 C64.5 461.8 60 463 59 465.2 C60.8 469.5 61 485.5 58.9 489.6 C60 492.5 64 494.2 67.4 494 C74.5 493.6 78 486.5 78 477.6 C78 469 74.5 462.4 68.3 462Z" fill="url(#gc)" stroke="#1a86b4" stroke-width="0.7" stroke-opacity="0.75"/><circle cx="36.4" cy="474.7" r="4.4" fill="url(#gy)" stroke="#b08a0c" stroke-width="0.7" stroke-opacity="0.75"/><circle cx="52.6" cy="475.2" r="4.4" fill="url(#gy)" stroke="#b08a0c" stroke-width="0.7" stroke-opacity="0.75"/><ellipse cx="45" cy="469.8" rx="4.8" ry="4.4" fill="url(#gc)" stroke="#1a86b4" stroke-width="0.7" stroke-opacity="0.75"/><path d="M43.4 472.6 C49.5 472.6 55.7 481 55.7 490.5 C55.7 498.5 50.5 504.4 43.4 504.4 C36.3 504.4 31.1 498.5 31.1 490.5 C31.1 481 37.3 472.6 43.4 472.6Z" fill="url(#gy)" stroke="#b08a0c" stroke-width="0.7" stroke-opacity="0.75" fill-opacity="0.88"/></g>
<g transform="translate(0.0,0)"><ellipse cx="113.3" cy="466.2" rx="11.3" ry="14.6" transform="rotate(20 113.3 466.2)" fill="url(#gy)" stroke="#b08a0c" stroke-width="0.7" stroke-opacity="0.75"/><ellipse cx="148.2" cy="463.4" rx="12.2" ry="13.4" transform="rotate(-15 148.2 463.4)" fill="url(#gc)" stroke="#1a86b4" stroke-width="0.7" stroke-opacity="0.75"/><ellipse cx="127.7" cy="468.6" rx="2.8" ry="4" fill="url(#gc)" stroke="#1a86b4" stroke-width="0.7" stroke-opacity="0.75"/><ellipse cx="136.4" cy="469.3" rx="4.3" ry="5" fill="url(#gy)" stroke="#b08a0c" stroke-width="0.7" stroke-opacity="0.75"/><ellipse cx="129.6" cy="475.2" rx="3" ry="7" fill="url(#gy)" stroke="#b08a0c" stroke-width="0.7" stroke-opacity="0.75"/><ellipse cx="136.9" cy="478.4" rx="3.8" ry="6.8" fill="url(#gc)" stroke="#1a86b4" stroke-width="0.7" stroke-opacity="0.75"/><path d="M103.50 484.50 C103.50 473.23 110.04 464.10 116.50 464.10 C122.96 464.10 129.50 473.23 129.50 484.50 C129.50 493.50 123.68 500.80 116.50 500.80 C109.32 500.80 103.50 493.50 103.50 484.50Z" transform="rotate(7.0 116.50 484.50)" fill="url(#gc)" stroke="#1a86b4" stroke-width="0.7" stroke-opacity="0.75" fill-opacity="0.93"/><path d="M139.90 483.00 C139.90 472.01 145.99 463.10 152.00 463.10 C158.01 463.10 164.10 472.01 164.10 483.00 C164.10 492.33 158.68 499.90 152.00 499.90 C145.32 499.90 139.90 492.33 139.90 483.00Z" transform="rotate(5.0 152.00 483.00)" fill="url(#gy)" stroke="#b08a0c" stroke-width="0.7" stroke-opacity="0.75" fill-opacity="0.93"/></g>
<ellipse cx="239.2" cy="444.1" rx="16.2" ry="11.5" fill="url(#gc)" stroke="#1a86b4" stroke-width="0.7" stroke-opacity="0.75"/><ellipse cx="238.8" cy="489.7" rx="16.1" ry="11.5" fill="url(#gc)" stroke="#1a86b4" stroke-width="0.7" stroke-opacity="0.75"/><rect x="211.1" y="455.1" width="55.5" height="24" rx="21" ry="12" fill="url(#gt)" fill-opacity="0.96" stroke="#b08a0c" stroke-width="0.7" stroke-opacity="0.75"/><ellipse cx="238.8" cy="464.5" rx="11.6" ry="4.3" fill="#c0960e"/><ellipse cx="238.8" cy="465.4" rx="10.4" ry="3.1" fill="#1fa6d8"/><path d="M232.6 459.6 C232.6 456.6 235.4 454.9 238.9 454.9 C242.4 454.9 245.2 456.6 245.2 459.6 C245.2 462.6 241.6 465.3 238.9 465.3 C236.2 465.3 232.6 462.6 232.6 459.6Z" fill="url(#gy)" stroke="#b08a0c" stroke-width="0.7" stroke-opacity="0.75"/><ellipse cx="238.9" cy="474.8" rx="6.6" ry="2.9" fill="#ffe12a" fill-opacity="0.9"/>
<g transform="translate(306.5,0)"><ellipse cx="46.7" cy="463.2" rx="12.3" ry="13" fill="url(#gy)" stroke="#b08a0c" stroke-width="0.7" stroke-opacity="0.75"/><path d="M23.6 460.9 C27 460.7 30.5 461.8 31.3 463.8 C29.6 468 29.3 486 31.6 490.2 C30.5 492.4 27.5 493.3 24.6 493.1 C17 492.6 12.5 485.5 12.5 476.6 C12.5 468 17 461.3 23.6 460.9Z" fill="url(#gc)" stroke="#1a86b4" stroke-width="0.7" stroke-opacity="0.75"/><path d="M68.3 462 C64.5 461.8 60 463 59 465.2 C60.8 469.5 61 485.5 58.9 489.6 C60 492.5 64 494.2 67.4 494 C74.5 493.6 78 486.5 78 477.6 C78 469 74.5 462.4 68.3 462Z" fill="url(#gc)" stroke="#1a86b4" stroke-width="0.7" stroke-opacity="0.75"/><circle cx="36.4" cy="474.7" r="4.4" fill="url(#gy)" stroke="#b08a0c" stroke-width="0.7" stroke-opacity="0.75"/><circle cx="52.6" cy="475.2" r="4.4" fill="url(#gy)" stroke="#b08a0c" stroke-width="0.7" stroke-opacity="0.75"/><ellipse cx="45" cy="469.8" rx="4.8" ry="4.4" fill="url(#gc)" stroke="#1a86b4" stroke-width="0.7" stroke-opacity="0.75"/><path d="M43.4 472.6 C49.5 472.6 55.7 481 55.7 490.5 C55.7 498.5 50.5 504.4 43.4 504.4 C36.3 504.4 31.1 498.5 31.1 490.5 C31.1 481 37.3 472.6 43.4 472.6Z" fill="url(#gy)" stroke="#b08a0c" stroke-width="0.7" stroke-opacity="0.75" fill-opacity="0.88"/></g>
<g transform="translate(310.8,0)"><ellipse cx="113.3" cy="466.2" rx="11.3" ry="14.6" transform="rotate(20 113.3 466.2)" fill="url(#gy)" stroke="#b08a0c" stroke-width="0.7" stroke-opacity="0.75"/><ellipse cx="148.2" cy="463.4" rx="12.2" ry="13.4" transform="rotate(-15 148.2 463.4)" fill="url(#gc)" stroke="#1a86b4" stroke-width="0.7" stroke-opacity="0.75"/><ellipse cx="127.7" cy="468.6" rx="2.8" ry="4" fill="url(#gc)" stroke="#1a86b4" stroke-width="0.7" stroke-opacity="0.75"/><ellipse cx="136.4" cy="469.3" rx="4.3" ry="5" fill="url(#gy)" stroke="#b08a0c" stroke-width="0.7" stroke-opacity="0.75"/><ellipse cx="129.6" cy="475.2" rx="3" ry="7" fill="url(#gy)" stroke="#b08a0c" stroke-width="0.7" stroke-opacity="0.75"/><ellipse cx="136.9" cy="478.4" rx="3.8" ry="6.8" fill="url(#gc)" stroke="#1a86b4" stroke-width="0.7" stroke-opacity="0.75"/><path d="M103.50 484.50 C103.50 473.23 110.04 464.10 116.50 464.10 C122.96 464.10 129.50 473.23 129.50 484.50 C129.50 493.50 123.68 500.80 116.50 500.80 C109.32 500.80 103.50 493.50 103.50 484.50Z" transform="rotate(7.0 116.50 484.50)" fill="url(#gc)" stroke="#1a86b4" stroke-width="0.7" stroke-opacity="0.75" fill-opacity="0.93"/><path d="M139.90 483.00 C139.90 472.01 145.99 463.10 152.00 463.10 C158.01 463.10 164.10 472.01 164.10 483.00 C164.10 492.33 158.68 499.90 152.00 499.90 C145.32 499.90 139.90 492.33 139.90 483.00Z" transform="rotate(5.0 152.00 483.00)" fill="url(#gy)" stroke="#b08a0c" stroke-width="0.7" stroke-opacity="0.75" fill-opacity="0.93"/></g>
<text x="82.6" y="480.6" font-family='"Liberation Sans", Arial, Helvetica, sans-serif' font-size="17">- i</text>
<text x="389.6" y="484.9" font-family='"Liberation Sans", Arial, Helvetica, sans-serif' font-size="17">+ i</text>
<text x="68.3" y="520.5" font-family='"Liberation Sans", Arial, Helvetica, sans-serif' font-size="17.6">d<tspan font-size="10.3" dy="1.6" dx="-0.4">2,-2</tspan></text>
<text x="229.9" y="520.5" font-family='"Liberation Sans", Arial, Helvetica, sans-serif' font-size="17.6">d<tspan font-size="10.3" dy="1.6" dx="-0.4">2,0</tspan></text>
<text x="391.3" y="520.5" font-family='"Liberation Sans", Arial, Helvetica, sans-serif' font-size="17.6">d<tspan font-size="10.3" dy="1.6" dx="-0.4">2,2</tspan></text>
<g clip-path="url(#cp)"><g shape-rendering="crispEdges"><rect x="36.45" y="528" width="88.00" height="2" fill="url(#p0)"/><rect x="35.45" y="530" width="90.00" height="2" fill="url(#p1)"/><rect x="34.45" y="532" width="92.00" height="2" fill="url(#p2)"/><rect x="33.45" y="534" width="94.00" height="2" fill="url(#p3)"/><rect x="32.45" y="536" width="96.00" height="2" fill="url(#p4)"/><rect x="31.45" y="538" width="98.00" height="2" fill="url(#p5)"/><rect x="30.45" y="540" width="100.00" height="2" fill="url(#p6)"/><rect x="28.45" y="542" width="104.00" height="2" fill="url(#p7)"/><rect x="27.45" y="544" width="106.00" height="2" fill="url(#p8)"/><rect x="26.45" y="546" width="108.00" height="2" fill="url(#p9)"/><rect x="25.45" y="548" width="110.00" height="2" fill="url(#p10)"/><rect x="24.45" y="550" width="112.00" height="2" fill="url(#p11)"/><rect x="23.45" y="552" width="114.00" height="2" fill="url(#p12)"/><rect x="22.45" y="554" width="116.00" height="2" fill="url(#p13)"/><rect x="20.45" y="556" width="120.00" height="2" fill="url(#p14)"/><rect x="19.45" y="558" width="122.00" height="2" fill="url(#p15)"/><rect x="18.45" y="560" width="124.00" height="2" fill="url(#p16)"/><rect x="17.45" y="562" width="126.00" height="2" fill="url(#p17)"/><rect x="16.45" y="564" width="128.00" height="2" fill="url(#p18)"/><rect x="15.45" y="566" width="130.00" height="2" fill="url(#p19)"/><rect x="14.45" y="568" width="132.00" height="2" fill="url(#p20)"/><rect x="12.45" y="570" width="136.00" height="2" fill="url(#p21)"/><rect x="11.45" y="572" width="138.00" height="2" fill="url(#p22)"/><rect x="10.45" y="574" width="140.00" height="2" fill="url(#p23)"/><rect x="9.45" y="576" width="142.00" height="2" fill="url(#p24)"/><rect x="8.45" y="578" width="144.00" height="2" fill="url(#p25)"/><rect x="7.45" y="580" width="146.00" height="2" fill="url(#p26)"/><rect x="6.45" y="582" width="148.00" height="2" fill="url(#p27)"/><rect x="4.45" y="584" width="152.00" height="2" fill="url(#p28)"/><rect x="3.45" y="586" width="154.00" height="2" fill="url(#p29)"/><rect x="2.45" y="588" width="156.00" height="2" fill="url(#p30)"/><rect x="1.45" y="590" width="158.00" height="2" fill="url(#p31)"/><rect x="0.45" y="592" width="160.00" height="2" fill="url(#p32)"/><rect x="0.00" y="594" width="160.90" height="2" fill="url(#p33)"/><rect x="0.00" y="596" width="160.90" height="2" fill="url(#p34)"/><rect x="0.00" y="598" width="160.90" height="2" fill="url(#p35)"/><rect x="0.00" y="600" width="160.90" height="2" fill="url(#p36)"/><rect x="0.45" y="602" width="160.00" height="2" fill="url(#p37)"/><rect x="1.45" y="604" width="158.00" height="2" fill="url(#p38)"/><rect x="2.45" y="606" width="156.00" height="2" fill="url(#p39)"/><rect x="3.45" y="608" width="154.00" height="2" fill="url(#p40)"/><rect x="5.45" y="610" width="150.00" height="2" fill="url(#p41)"/><rect x="6.45" y="612" width="148.00" height="2" fill="url(#p42)"/><rect x="7.45" y="614" width="146.00" height="2" fill="url(#p43)"/><rect x="8.45" y="616" width="144.00" height="2" fill="url(#p44)"/><rect x="9.45" y="618" width="142.00" height="2" fill="url(#p45)"/><rect x="10.45" y="620" width="140.00" height="2" fill="url(#p46)"/><rect x="11.45" y="622" width="138.00" height="2" fill="url(#p47)"/><rect x="13.45" y="624" width="134.00" height="2" fill="url(#p48)"/><rect x="14.45" y="626" width="132.00" height="2" fill="url(#p49)"/><rect x="15.45" y="628" width="130.00" height="2" fill="url(#p50)"/><rect x="16.45" y="630" width="128.00" height="2" fill="url(#p51)"/><rect x="17.45" y="632" width="126.00" height="2" fill="url(#p52)"/><rect x="18.45" y="634" width="124.00" height="2" fill="url(#p53)"/><rect x="19.45" y="636" width="122.00" height="2" fill="url(#p54)"/><rect x="21.45" y="638" width="118.00" height="2" fill="url(#p55)"/><rect x="22.45" y="640" width="116.00" height="2" fill="url(#p56)"/><rect x="23.45" y="642" width="114.00" height="2" fill="url(#p57)"/><rect x="24.45" y="644" width="112.00" height="2" fill="url(#p58)"/><rect x="25.45" y="646" width="110.00" height="2" fill="url(#p59)"/><rect x="26.45" y="648" width="108.00" height="2" fill="url(#p60)"/><rect x="27.45" y="650" width="106.00" height="2" fill="url(#p61)"/><rect x="29.45" y="652" width="102.00" height="2" fill="url(#p62)"/><rect x="30.45" y="654" width="100.00" height="2" fill="url(#p63)"/><rect x="31.45" y="656" width="98.00" height="2" fill="url(#p64)"/><rect x="32.45" y="658" width="96.00" height="2" fill="url(#p65)"/><rect x="33.45" y="660" width="94.00" height="2" fill="url(#p66)"/><rect x="34.45" y="662" width="92.00" height="2" fill="url(#p67)"/><rect x="35.45" y="664" width="90.00" height="2" fill="url(#p68)"/><rect x="37.45" y="666" width="86.00" height="2" fill="url(#p69)"/></g>
<g fill="none" stroke="#111" stroke-width="0.8"><path d="M111.1 597.9L111.0 595.7L110.7 593.6L110.1 591.5L109.4 589.5L108.6 587.6L107.7 585.7L106.7 583.9L105.7 582.1L104.6 580.3L103.4 578.6L102.1 576.9L100.8 575.3L99.2 573.8L97.6 572.4L95.8 571.3L93.9 570.3L91.9 569.5L89.8 569.0L87.7 568.6L85.7 568.3L83.6 568.2L81.5 568.1L79.4 568.1L77.3 568.2L75.2 568.3L73.2 568.6L71.1 569.0L69.0 569.5L67.0 570.3L65.1 571.3L63.3 572.4L61.7 573.8L60.1 575.3L58.8 576.9L57.5 578.6L56.3 580.3L55.2 582.1L54.2 583.9L53.2 585.7L52.3 587.6L51.5 589.5L50.8 591.5L50.2 593.6L49.9 595.7L49.8 597.9L49.9 600.0L50.2 602.1L50.8 604.2L51.5 606.2L52.3 608.1L53.2 610.0L54.2 611.8L55.2 613.6L56.3 615.4L57.5 617.1L58.8 618.8L60.1 620.4L61.7 621.9L63.3 623.3L65.1 624.4L67.0 625.4L69.0 626.2L71.1 626.7L73.2 627.1L75.2 627.4L77.3 627.5L79.4 627.6L81.5 627.6L83.6 627.5L85.7 627.4L87.7 627.1L89.8 626.7L91.9 626.2L93.9 625.4L95.8 624.4L97.6 623.3L99.2 621.9L100.8 620.4L102.1 618.8L103.4 617.1L104.6 615.4L105.7 613.6L106.7 611.8L107.7 610.0L108.6 608.1L109.4 606.2L110.1 604.2L110.7 602.1L111.0 600.0Z"/><circle cx="177.6" cy="597.9" r="36.7"/><circle cx="129.0" cy="513.0" r="36.7"/><circle cx="31.9" cy="513.0" r="36.7"/><circle cx="-16.7" cy="597.9" r="36.7"/><circle cx="31.9" cy="682.7" r="36.7"/><circle cx="129.0" cy="682.7" r="36.7"/></g></g>
<polygon points="159.9,597.9 120.2,528.3 40.7,528.3 1.0,597.9 40.7,667.4 120.2,667.4" fill="none" stroke="#b0b0b0" stroke-width="0.9"/>
<g clip-path="url(#cq)"><g shape-rendering="crispEdges"><rect x="197.15" y="528" width="88.00" height="2" fill="url(#q0)"/><rect x="196.15" y="530" width="90.00" height="2" fill="url(#q1)"/><rect x="195.15" y="532" width="92.00" height="2" fill="url(#q2)"/><rect x="194.15" y="534" width="94.00" height="2" fill="url(#q3)"/><rect x="193.15" y="536" width="96.00" height="2" fill="url(#q4)"/><rect x="192.15" y="538" width="98.00" height="2" fill="url(#q5)"/><rect x="191.15" y="540" width="100.00" height="2" fill="url(#q6)"/><rect x="189.15" y="542" width="104.00" height="2" fill="url(#q7)"/><rect x="188.15" y="544" width="106.00" height="2" fill="url(#q8)"/><rect x="187.15" y="546" width="108.00" height="2" fill="url(#q9)"/><rect x="186.15" y="548" width="110.00" height="2" fill="url(#q10)"/><rect x="185.15" y="550" width="112.00" height="2" fill="url(#q11)"/><rect x="184.15" y="552" width="114.00" height="2" fill="url(#q12)"/><rect x="183.15" y="554" width="116.00" height="2" fill="url(#q13)"/><rect x="181.15" y="556" width="120.00" height="2" fill="url(#q14)"/><rect x="180.15" y="558" width="122.00" height="2" fill="url(#q15)"/><rect x="179.15" y="560" width="124.00" height="2" fill="url(#q16)"/><rect x="178.15" y="562" width="126.00" height="2" fill="url(#q17)"/><rect x="177.15" y="564" width="128.00" height="2" fill="url(#q18)"/><rect x="176.15" y="566" width="130.00" height="2" fill="url(#q19)"/><rect x="175.15" y="568" width="132.00" height="2" fill="url(#q20)"/><rect x="173.15" y="570" width="136.00" height="2" fill="url(#q21)"/><rect x="172.15" y="572" width="138.00" height="2" fill="url(#q22)"/><rect x="171.15" y="574" width="140.00" height="2" fill="url(#q23)"/><rect x="170.15" y="576" width="142.00" height="2" fill="url(#q24)"/><rect x="169.15" y="578" width="144.00" height="2" fill="url(#q25)"/><rect x="168.15" y="580" width="146.00" height="2" fill="url(#q26)"/><rect x="167.15" y="582" width="148.00" height="2" fill="url(#q27)"/><rect x="165.15" y="584" width="152.00" height="2" fill="url(#q28)"/><rect x="164.15" y="586" width="154.00" height="2" fill="url(#q29)"/><rect x="163.15" y="588" width="156.00" height="2" fill="url(#q30)"/><rect x="162.15" y="590" width="158.00" height="2" fill="url(#q31)"/><rect x="161.15" y="592" width="160.00" height="2" fill="url(#q32)"/><rect x="160.70" y="594" width="160.90" height="2" fill="url(#q33)"/><rect x="160.70" y="596" width="160.90" height="2" fill="url(#q34)"/><rect x="160.70" y="598" width="160.90" height="2" fill="url(#q35)"/><rect x="160.70" y="600" width="160.90" height="2" fill="url(#q36)"/><rect x="161.15" y="602" width="160.00" height="2" fill="url(#q37)"/><rect x="162.15" y="604" width="158.00" height="2" fill="url(#q38)"/><rect x="163.15" y="606" width="156.00" height="2" fill="url(#q39)"/><rect x="164.15" y="608" width="154.00" height="2" fill="url(#q40)"/><rect x="166.15" y="610" width="150.00" height="2" fill="url(#q41)"/><rect x="167.15" y="612" width="148.00" height="2" fill="url(#q42)"/><rect x="168.15" y="614" width="146.00" height="2" fill="url(#q43)"/><rect x="169.15" y="616" width="144.00" height="2" fill="url(#q44)"/><rect x="170.15" y="618" width="142.00" height="2" fill="url(#q45)"/><rect x="171.15" y="620" width="140.00" height="2" fill="url(#q46)"/><rect x="172.15" y="622" width="138.00" height="2" fill="url(#q47)"/><rect x="174.15" y="624" width="134.00" height="2" fill="url(#q48)"/><rect x="175.15" y="626" width="132.00" height="2" fill="url(#q49)"/><rect x="176.15" y="628" width="130.00" height="2" fill="url(#q50)"/><rect x="177.15" y="630" width="128.00" height="2" fill="url(#q51)"/><rect x="178.15" y="632" width="126.00" height="2" fill="url(#q52)"/><rect x="179.15" y="634" width="124.00" height="2" fill="url(#q53)"/><rect x="180.15" y="636" width="122.00" height="2" fill="url(#q54)"/><rect x="182.15" y="638" width="118.00" height="2" fill="url(#q55)"/><rect x="183.15" y="640" width="116.00" height="2" fill="url(#q56)"/><rect x="184.15" y="642" width="114.00" height="2" fill="url(#q57)"/><rect x="185.15" y="644" width="112.00" height="2" fill="url(#q58)"/><rect x="186.15" y="646" width="110.00" height="2" fill="url(#q59)"/><rect x="187.15" y="648" width="108.00" height="2" fill="url(#q60)"/><rect x="188.15" y="650" width="106.00" height="2" fill="url(#q61)"/><rect x="190.15" y="652" width="102.00" height="2" fill="url(#q62)"/><rect x="191.15" y="654" width="100.00" height="2" fill="url(#q63)"/><rect x="192.15" y="656" width="98.00" height="2" fill="url(#q64)"/><rect x="193.15" y="658" width="96.00" height="2" fill="url(#q65)"/><rect x="194.15" y="660" width="94.00" height="2" fill="url(#q66)"/><rect x="195.15" y="662" width="92.00" height="2" fill="url(#q67)"/><rect x="196.15" y="664" width="90.00" height="2" fill="url(#q68)"/><rect x="198.15" y="666" width="86.00" height="2" fill="url(#q69)"/></g>
<g fill="none" stroke="#111" stroke-width="0.8"><path d="M271.8 597.9L271.7 595.7L271.4 593.6L270.8 591.5L270.1 589.5L269.3 587.6L268.4 585.7L267.4 583.9L266.4 582.1L265.3 580.3L264.1 578.6L262.8 576.9L261.5 575.3L259.9 573.8L258.3 572.4L256.5 571.3L254.6 570.3L252.6 569.5L250.5 569.0L248.4 568.6L246.4 568.3L244.3 568.2L242.2 568.1L240.1 568.1L238.0 568.2L235.9 568.3L233.9 568.6L231.8 569.0L229.7 569.5L227.7 570.3L225.8 571.3L224.0 572.4L222.4 573.8L220.8 575.3L219.5 576.9L218.2 578.6L217.0 580.3L215.9 582.1L214.9 583.9L213.9 585.7L213.0 587.6L212.2 589.5L211.5 591.5L210.9 593.6L210.6 595.7L210.5 597.9L210.6 600.0L210.9 602.1L211.5 604.2L212.2 606.2L213.0 608.1L213.9 610.0L214.9 611.8L215.9 613.6L217.0 615.4L218.2 617.1L219.5 618.8L220.8 620.4L222.4 621.9L224.0 623.3L225.8 624.4L227.7 625.4L229.7 626.2L231.8 626.7L233.9 627.1L235.9 627.4L238.0 627.5L240.1 627.6L242.2 627.6L244.3 627.5L246.4 627.4L248.4 627.1L250.5 626.7L252.6 626.2L254.6 625.4L256.5 624.4L258.3 623.3L259.9 621.9L261.5 620.4L262.8 618.8L264.1 617.1L265.3 615.4L266.4 613.6L267.4 611.8L268.4 610.0L269.3 608.1L270.1 606.2L270.8 604.2L271.4 602.1L271.7 600.0Z"/><circle cx="338.3" cy="597.9" r="36.7"/><circle cx="289.7" cy="513.0" r="36.7"/><circle cx="192.6" cy="513.0" r="36.7"/><circle cx="144.0" cy="597.9" r="36.7"/><circle cx="192.6" cy="682.7" r="36.7"/><circle cx="289.7" cy="682.7" r="36.7"/></g></g>
<polygon points="320.6,597.9 280.9,528.3 201.4,528.3 161.7,597.9 201.4,667.4 280.9,667.4" fill="none" stroke="#b0b0b0" stroke-width="0.9"/>
<g clip-path="url(#cr)"><g shape-rendering="crispEdges"><rect x="358.55" y="528" width="88.00" height="2" fill="url(#r0)"/><rect x="357.55" y="530" width="90.00" height="2" fill="url(#r1)"/><rect x="356.55" y="532" width="92.00" height="2" fill="url(#r2)"/><rect x="355.55" y="534" width="94.00" height="2" fill="url(#r3)"/><rect x="354.55" y="536" width="96.00" height="2" fill="url(#r4)"/><rect x="353.55" y="538" width="98.00" height="2" fill="url(#r5)"/><rect x="352.55" y="540" width="100.00" height="2" fill="url(#r6)"/><rect x="350.55" y="542" width="104.00" height="2" fill="url(#r7)"/><rect x="349.55" y="544" width="106.00" height="2" fill="url(#r8)"/><rect x="348.55" y="546" width="108.00" height="2" fill="url(#r9)"/><rect x="347.55" y="548" width="110.00" height="2" fill="url(#r10)"/><rect x="346.55" y="550" width="112.00" height="2" fill="url(#r11)"/><rect x="345.55" y="552" width="114.00" height="2" fill="url(#r12)"/><rect x="344.55" y="554" width="116.00" height="2" fill="url(#r13)"/><rect x="342.55" y="556" width="120.00" height="2" fill="url(#r14)"/><rect x="341.55" y="558" width="122.00" height="2" fill="url(#r15)"/><rect x="340.55" y="560" width="124.00" height="2" fill="url(#r16)"/><rect x="339.55" y="562" width="126.00" height="2" fill="url(#r17)"/><rect x="338.55" y="564" width="128.00" height="2" fill="url(#r18)"/><rect x="337.55" y="566" width="130.00" height="2" fill="url(#r19)"/><rect x="336.55" y="568" width="132.00" height="2" fill="url(#r20)"/><rect x="334.55" y="570" width="136.00" height="2" fill="url(#r21)"/><rect x="333.55" y="572" width="138.00" height="2" fill="url(#r22)"/><rect x="332.55" y="574" width="140.00" height="2" fill="url(#r23)"/><rect x="331.55" y="576" width="142.00" height="2" fill="url(#r24)"/><rect x="330.55" y="578" width="144.00" height="2" fill="url(#r25)"/><rect x="329.55" y="580" width="146.00" height="2" fill="url(#r26)"/><rect x="328.55" y="582" width="148.00" height="2" fill="url(#r27)"/><rect x="326.55" y="584" width="152.00" height="2" fill="url(#r28)"/><rect x="325.55" y="586" width="154.00" height="2" fill="url(#r29)"/><rect x="324.55" y="588" width="156.00" height="2" fill="url(#r30)"/><rect x="323.55" y="590" width="158.00" height="2" fill="url(#r31)"/><rect x="322.55" y="592" width="160.00" height="2" fill="url(#r32)"/><rect x="322.10" y="594" width="160.90" height="2" fill="url(#r33)"/><rect x="322.10" y="596" width="160.90" height="2" fill="url(#r34)"/><rect x="322.10" y="598" width="160.90" height="2" fill="url(#r35)"/><rect x="322.10" y="600" width="160.90" height="2" fill="url(#r36)"/><rect x="322.55" y="602" width="160.00" height="2" fill="url(#r37)"/><rect x="323.55" y="604" width="158.00" height="2" fill="url(#r38)"/><rect x="324.55" y="606" width="156.00" height="2" fill="url(#r39)"/><rect x="325.55" y="608" width="154.00" height="2" fill="url(#r40)"/><rect x="327.55" y="610" width="150.00" height="2" fill="url(#r41)"/><rect x="328.55" y="612" width="148.00" height="2" fill="url(#r42)"/><rect x="329.55" y="614" width="146.00" height="2" fill="url(#r43)"/><rect x="330.55" y="616" width="144.00" height="2" fill="url(#r44)"/><rect x="331.55" y="618" width="142.00" height="2" fill="url(#r45)"/><rect x="332.55" y="620" width="140.00" height="2" fill="url(#r46)"/><rect x="333.55" y="622" width="138.00" height="2" fill="url(#r47)"/><rect x="335.55" y="624" width="134.00" height="2" fill="url(#r48)"/><rect x="336.55" y="626" width="132.00" height="2" fill="url(#r49)"/><rect x="337.55" y="628" width="130.00" height="2" fill="url(#r50)"/><rect x="338.55" y="630" width="128.00" height="2" fill="url(#r51)"/><rect x="339.55" y="632" width="126.00" height="2" fill="url(#r52)"/><rect x="340.55" y="634" width="124.00" height="2" fill="url(#r53)"/><rect x="341.55" y="636" width="122.00" height="2" fill="url(#r54)"/><rect x="343.55" y="638" width="118.00" height="2" fill="url(#r55)"/><rect x="344.55" y="640" width="116.00" height="2" fill="url(#r56)"/><rect x="345.55" y="642" width="114.00" height="2" fill="url(#r57)"/><rect x="346.55" y="644" width="112.00" height="2" fill="url(#r58)"/><rect x="347.55" y="646" width="110.00" height="2" fill="url(#r59)"/><rect x="348.55" y="648" width="108.00" height="2" fill="url(#r60)"/><rect x="349.55" y="650" width="106.00" height="2" fill="url(#r61)"/><rect x="351.55" y="652" width="102.00" height="2" fill="url(#r62)"/><rect x="352.55" y="654" width="100.00" height="2" fill="url(#r63)"/><rect x="353.55" y="656" width="98.00" height="2" fill="url(#r64)"/><rect x="354.55" y="658" width="96.00" height="2" fill="url(#r65)"/><rect x="355.55" y="660" width="94.00" height="2" fill="url(#r66)"/><rect x="356.55" y="662" width="92.00" height="2" fill="url(#r67)"/><rect x="357.55" y="664" width="90.00" height="2" fill="url(#r68)"/><rect x="359.55" y="666" width="86.00" height="2" fill="url(#r69)"/></g>
<g fill="none" stroke="#111" stroke-width="0.8"><path d="M433.2 597.9L433.1 595.7L432.8 593.6L432.2 591.5L431.5 589.5L430.7 587.6L429.8 585.7L428.8 583.9L427.8 582.1L426.7 580.3L425.5 578.6L424.2 576.9L422.9 575.3L421.3 573.8L419.7 572.4L417.9 571.3L416.0 570.3L414.0 569.5L411.9 569.0L409.8 568.6L407.8 568.3L405.7 568.2L403.6 568.1L401.5 568.1L399.4 568.2L397.3 568.3L395.3 568.6L393.2 569.0L391.1 569.5L389.1 570.3L387.2 571.3L385.4 572.4L383.8 573.8L382.2 575.3L380.9 576.9L379.6 578.6L378.4 580.3L377.3 582.1L376.3 583.9L375.3 585.7L374.4 587.6L373.6 589.5L372.9 591.5L372.3 593.6L372.0 595.7L371.9 597.9L372.0 600.0L372.3 602.1L372.9 604.2L373.6 606.2L374.4 608.1L375.3 610.0L376.3 611.8L377.3 613.6L378.4 615.4L379.6 617.1L380.9 618.8L382.2 620.4L383.8 621.9L385.4 623.3L387.2 624.4L389.1 625.4L391.1 626.2L393.2 626.7L395.3 627.1L397.3 627.4L399.4 627.5L401.5 627.6L403.6 627.6L405.7 627.5L407.8 627.4L409.8 627.1L411.9 626.7L414.0 626.2L416.0 625.4L417.9 624.4L419.7 623.3L421.3 621.9L422.9 620.4L424.2 618.8L425.5 617.1L426.7 615.4L427.8 613.6L428.8 611.8L429.8 610.0L430.7 608.1L431.5 606.2L432.2 604.2L432.8 602.1L433.1 600.0Z"/><circle cx="499.7" cy="597.9" r="36.7"/><circle cx="451.1" cy="513.0" r="36.7"/><circle cx="354.0" cy="513.0" r="36.7"/><circle cx="305.4" cy="597.9" r="36.7"/><circle cx="354.0" cy="682.7" r="36.7"/><circle cx="451.1" cy="682.7" r="36.7"/></g></g>
<polygon points="482.0,597.9 442.3,528.3 362.8,528.3 323.1,597.9 362.8,667.4 442.3,667.4" fill="none" stroke="#b0b0b0" stroke-width="0.9"/>
<rect x="206" y="675.4" width="70.3" height="6.6" fill="url(#cb)" stroke="#9a9a9a" stroke-width="0.7"/>
<text x="193.2" y="684" font-family='"Liberation Sans", Arial, Helvetica, sans-serif' font-size="16">0</text>
<text x="280.9" y="684" font-family='"Liberation Sans", Arial, Helvetica, sans-serif' font-size="16">1</text>
</svg>
</body></html>
